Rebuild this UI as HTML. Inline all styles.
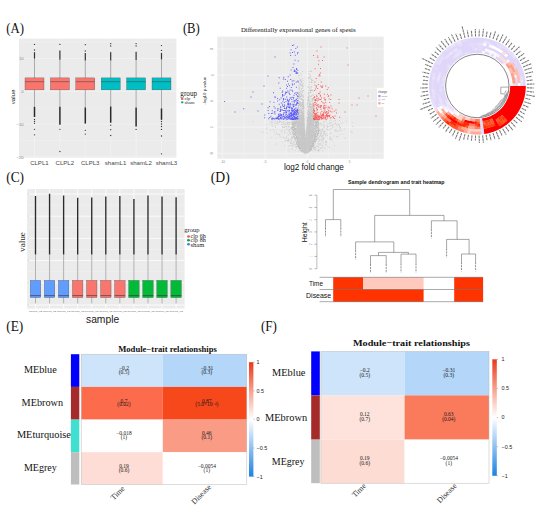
<!DOCTYPE html>
<html><head><meta charset="utf-8"><style>
html,body{margin:0;padding:0;background:#fff;width:550px;height:532px;overflow:hidden}
svg{display:block}
</style></head><body>
<svg width="550" height="532" viewBox="0 0 550 532">
<rect width="550" height="532" fill="#fff"/>
<text x="6.20" y="33.10" font-family="Liberation Serif" font-size="14.5" fill="#111" textLength="17.80" lengthAdjust="spacingAndGlyphs" >(A)</text>
<text x="182.90" y="33.10" font-family="Liberation Serif" font-size="14.5" fill="#111" textLength="16.90" lengthAdjust="spacingAndGlyphs" >(B)</text>
<text x="6.20" y="182.10" font-family="Liberation Serif" font-size="14.5" fill="#111" textLength="17.80" lengthAdjust="spacingAndGlyphs" >(C)</text>
<text x="210.80" y="182.10" font-family="Liberation Serif" font-size="14.5" fill="#111" textLength="19.00" lengthAdjust="spacingAndGlyphs" >(D)</text>
<text x="6.20" y="331.10" font-family="Liberation Serif" font-size="14.5" fill="#111" textLength="17.10" lengthAdjust="spacingAndGlyphs" >(E)</text>
<text x="260.90" y="331.10" font-family="Liberation Serif" font-size="14.5" fill="#111" textLength="16.00" lengthAdjust="spacingAndGlyphs" >(F)</text>
<rect x="19.00" y="38.60" width="157.40" height="119.20" fill="#ebebeb" />
<line x1="19.00" y1="41.85" x2="176.40" y2="41.85" stroke="#f2f2f2" stroke-width="0.5" />
<line x1="19.00" y1="74.75" x2="176.40" y2="74.75" stroke="#f2f2f2" stroke-width="0.5" />
<line x1="19.00" y1="107.65" x2="176.40" y2="107.65" stroke="#f2f2f2" stroke-width="0.5" />
<line x1="19.00" y1="140.55" x2="176.40" y2="140.55" stroke="#f2f2f2" stroke-width="0.5" />
<line x1="19.00" y1="58.30" x2="176.40" y2="58.30" stroke="#f7f7f7" stroke-width="0.7" />
<line x1="19.00" y1="91.20" x2="176.40" y2="91.20" stroke="#f7f7f7" stroke-width="0.7" />
<line x1="19.00" y1="124.10" x2="176.40" y2="124.10" stroke="#f7f7f7" stroke-width="0.7" />
<line x1="19.00" y1="157.00" x2="176.40" y2="157.00" stroke="#f7f7f7" stroke-width="0.7" />
<line x1="34.50" y1="38.60" x2="34.50" y2="157.80" stroke="#f5f5f5" stroke-width="0.6" />
<line x1="59.90" y1="38.60" x2="59.90" y2="157.80" stroke="#f5f5f5" stroke-width="0.6" />
<line x1="85.30" y1="38.60" x2="85.30" y2="157.80" stroke="#f5f5f5" stroke-width="0.6" />
<line x1="110.70" y1="38.60" x2="110.70" y2="157.80" stroke="#f5f5f5" stroke-width="0.6" />
<line x1="136.10" y1="38.60" x2="136.10" y2="157.80" stroke="#f5f5f5" stroke-width="0.6" />
<line x1="161.50" y1="38.60" x2="161.50" y2="157.80" stroke="#f5f5f5" stroke-width="0.6" />
<text x="23.60" y="60.20" font-family="Liberation Sans" font-size="4.2" fill="#888" text-anchor="end" >10</text>
<text x="23.60" y="93.10" font-family="Liberation Sans" font-size="4.2" fill="#888" text-anchor="end" >0</text>
<text x="23.60" y="126.00" font-family="Liberation Sans" font-size="4.2" fill="#888" text-anchor="end" >−10</text>
<text x="23.60" y="158.90" font-family="Liberation Sans" font-size="4.2" fill="#888" text-anchor="end" >−20</text>
<line x1="34.50" y1="58.60" x2="34.50" y2="106.80" stroke="#555" stroke-width="0.45" />
<line x1="34.50" y1="52.20" x2="34.50" y2="58.60" stroke="#333" stroke-width="1.2" />
<line x1="34.50" y1="106.80" x2="34.50" y2="117.00" stroke="#2a2a2a" stroke-width="1.5" />
<circle cx="34.50" cy="44.4" r="0.65" fill="#333"/>
<circle cx="34.50" cy="50.0" r="0.65" fill="#333"/>
<circle cx="34.50" cy="119.5" r="0.65" fill="#333"/>
<circle cx="34.50" cy="121.5" r="0.65" fill="#333"/>
<circle cx="34.50" cy="123.3" r="0.65" fill="#333"/>
<circle cx="34.50" cy="129.3" r="0.65" fill="#333"/>
<circle cx="34.50" cy="134.8" r="0.65" fill="#333"/>
<rect x="25.00" y="77.90" width="19.00" height="12.00" fill="#f8766d" stroke="#444" stroke-width="0.3"/>
<line x1="25.00" y1="81.70" x2="44.00" y2="81.70" stroke="#444" stroke-width="0.55" />
<line x1="59.90" y1="59.80" x2="59.90" y2="106.80" stroke="#555" stroke-width="0.45" />
<line x1="59.90" y1="50.60" x2="59.90" y2="59.80" stroke="#333" stroke-width="1.2" />
<line x1="59.90" y1="106.80" x2="59.90" y2="124.70" stroke="#2a2a2a" stroke-width="1.5" />
<circle cx="59.90" cy="44.4" r="0.65" fill="#333"/>
<circle cx="59.90" cy="129.3" r="0.65" fill="#333"/>
<circle cx="59.90" cy="151.5" r="0.65" fill="#333"/>
<rect x="50.40" y="77.90" width="19.00" height="12.00" fill="#f8766d" stroke="#444" stroke-width="0.3"/>
<line x1="50.40" y1="81.70" x2="69.40" y2="81.70" stroke="#444" stroke-width="0.55" />
<line x1="85.30" y1="60.50" x2="85.30" y2="107.40" stroke="#555" stroke-width="0.45" />
<line x1="85.30" y1="52.90" x2="85.30" y2="60.50" stroke="#333" stroke-width="1.2" />
<line x1="85.30" y1="107.40" x2="85.30" y2="123.60" stroke="#2a2a2a" stroke-width="1.5" />
<circle cx="85.30" cy="44.7" r="0.65" fill="#333"/>
<circle cx="85.30" cy="51.0" r="0.65" fill="#333"/>
<circle cx="85.30" cy="130.3" r="0.65" fill="#333"/>
<circle cx="85.30" cy="134.1" r="0.65" fill="#333"/>
<rect x="75.80" y="77.90" width="19.00" height="12.00" fill="#f8766d" stroke="#444" stroke-width="0.3"/>
<line x1="75.80" y1="81.70" x2="94.80" y2="81.70" stroke="#444" stroke-width="0.55" />
<line x1="110.70" y1="60.50" x2="110.70" y2="106.50" stroke="#555" stroke-width="0.45" />
<line x1="110.70" y1="52.90" x2="110.70" y2="60.50" stroke="#333" stroke-width="1.2" />
<line x1="110.70" y1="106.50" x2="110.70" y2="122.70" stroke="#2a2a2a" stroke-width="1.5" />
<circle cx="110.70" cy="43.7" r="0.65" fill="#333"/>
<circle cx="110.70" cy="46.0" r="0.65" fill="#333"/>
<circle cx="110.70" cy="52.3" r="0.65" fill="#333"/>
<circle cx="110.70" cy="125.2" r="0.65" fill="#333"/>
<circle cx="110.70" cy="129.7" r="0.65" fill="#333"/>
<circle cx="110.70" cy="135.5" r="0.65" fill="#333"/>
<rect x="101.20" y="77.90" width="19.00" height="12.00" fill="#00bfc4" stroke="#444" stroke-width="0.3"/>
<line x1="101.20" y1="81.70" x2="120.20" y2="81.70" stroke="#444" stroke-width="0.55" />
<line x1="136.10" y1="60.00" x2="136.10" y2="107.40" stroke="#555" stroke-width="0.45" />
<line x1="136.10" y1="51.70" x2="136.10" y2="60.00" stroke="#333" stroke-width="1.2" />
<line x1="136.10" y1="107.40" x2="136.10" y2="126.50" stroke="#2a2a2a" stroke-width="1.5" />
<circle cx="136.10" cy="43.7" r="0.65" fill="#333"/>
<circle cx="136.10" cy="46.0" r="0.65" fill="#333"/>
<circle cx="136.10" cy="129.4" r="0.65" fill="#333"/>
<rect x="126.60" y="77.90" width="19.00" height="12.00" fill="#00bfc4" stroke="#444" stroke-width="0.3"/>
<line x1="126.60" y1="81.70" x2="145.60" y2="81.70" stroke="#444" stroke-width="0.55" />
<line x1="161.50" y1="59.40" x2="161.50" y2="108.40" stroke="#555" stroke-width="0.45" />
<line x1="161.50" y1="52.90" x2="161.50" y2="59.40" stroke="#333" stroke-width="1.2" />
<line x1="161.50" y1="108.40" x2="161.50" y2="119.80" stroke="#2a2a2a" stroke-width="1.5" />
<circle cx="161.50" cy="45.6" r="0.65" fill="#333"/>
<circle cx="161.50" cy="50.4" r="0.65" fill="#333"/>
<circle cx="161.50" cy="121.5" r="0.65" fill="#333"/>
<circle cx="161.50" cy="124" r="0.65" fill="#333"/>
<circle cx="161.50" cy="126.5" r="0.65" fill="#333"/>
<circle cx="161.50" cy="129.4" r="0.65" fill="#333"/>
<circle cx="161.50" cy="136.0" r="0.65" fill="#333"/>
<circle cx="161.50" cy="153.8" r="0.65" fill="#333"/>
<rect x="152.00" y="77.90" width="19.00" height="12.00" fill="#00bfc4" stroke="#444" stroke-width="0.3"/>
<line x1="152.00" y1="81.70" x2="171.00" y2="81.70" stroke="#444" stroke-width="0.55" />
<text x="39.40" y="164.80" font-family="Liberation Sans" font-size="6.05" fill="#474747" text-anchor="middle" >CLPL1</text>
<text x="64.80" y="164.80" font-family="Liberation Sans" font-size="6.05" fill="#474747" text-anchor="middle" >CLPL2</text>
<text x="90.20" y="164.80" font-family="Liberation Sans" font-size="6.05" fill="#474747" text-anchor="middle" >CLPL3</text>
<text x="115.60" y="164.80" font-family="Liberation Sans" font-size="6.05" fill="#474747" text-anchor="middle" >shamL1</text>
<text x="141.00" y="164.80" font-family="Liberation Sans" font-size="6.05" fill="#474747" text-anchor="middle" >shamL2</text>
<text x="166.40" y="164.80" font-family="Liberation Sans" font-size="6.05" fill="#474747" text-anchor="middle" >shamL3</text>
<text x="15.50" y="96.90" font-family="Liberation Sans" font-size="6.2" fill="#111" text-anchor="middle" transform="rotate(-90 15.5 96.9)">value</text>
<text x="180.30" y="95.50" font-family="Liberation Serif" font-size="7.2" fill="#222" >group</text>
<ellipse cx="182.2" cy="98.9" rx="1.35" ry="1.1" fill="#e8605a"/>
<ellipse cx="182.2" cy="102.3" rx="1.35" ry="1.1" fill="#10a8b0"/>
<text x="184.40" y="100.40" font-family="Liberation Serif" font-size="4.8" fill="#333" >clp</text>
<text x="184.40" y="103.80" font-family="Liberation Serif" font-size="4.8" fill="#333" >sham</text>
<rect x="217.30" y="36.60" width="166.40" height="122.10" fill="#ebebeb" />
<line x1="217.30" y1="140.25" x2="383.70" y2="140.25" stroke="#f4f4f4" stroke-width="0.5" />
<line x1="217.30" y1="114.15" x2="383.70" y2="114.15" stroke="#f4f4f4" stroke-width="0.5" />
<line x1="217.30" y1="88.05" x2="383.70" y2="88.05" stroke="#f4f4f4" stroke-width="0.5" />
<line x1="217.30" y1="61.95" x2="383.70" y2="61.95" stroke="#f4f4f4" stroke-width="0.5" />
<line x1="243.85" y1="36.60" x2="243.85" y2="158.70" stroke="#f4f4f4" stroke-width="0.5" />
<line x1="286.15" y1="36.60" x2="286.15" y2="158.70" stroke="#f4f4f4" stroke-width="0.5" />
<line x1="328.45" y1="36.60" x2="328.45" y2="158.70" stroke="#f4f4f4" stroke-width="0.5" />
<line x1="370.75" y1="36.60" x2="370.75" y2="158.70" stroke="#f4f4f4" stroke-width="0.5" />
<line x1="217.30" y1="153.30" x2="383.70" y2="153.30" stroke="#f8f8f8" stroke-width="0.7" />
<line x1="217.30" y1="127.20" x2="383.70" y2="127.20" stroke="#f8f8f8" stroke-width="0.7" />
<line x1="217.30" y1="101.10" x2="383.70" y2="101.10" stroke="#f8f8f8" stroke-width="0.7" />
<line x1="217.30" y1="75.00" x2="383.70" y2="75.00" stroke="#f8f8f8" stroke-width="0.7" />
<line x1="217.30" y1="48.90" x2="383.70" y2="48.90" stroke="#f8f8f8" stroke-width="0.7" />
<line x1="222.70" y1="36.60" x2="222.70" y2="158.70" stroke="#f8f8f8" stroke-width="0.7" />
<line x1="265.00" y1="36.60" x2="265.00" y2="158.70" stroke="#f8f8f8" stroke-width="0.7" />
<line x1="307.30" y1="36.60" x2="307.30" y2="158.70" stroke="#f8f8f8" stroke-width="0.7" />
<line x1="349.60" y1="36.60" x2="349.60" y2="158.70" stroke="#f8f8f8" stroke-width="0.7" />
<text x="213.50" y="153.30" font-family="Liberation Sans" font-size="3.2" fill="#888" text-anchor="middle" transform="rotate(-90 213.5 153.30)">0</text>
<text x="213.50" y="127.20" font-family="Liberation Sans" font-size="3.2" fill="#888" text-anchor="middle" transform="rotate(-90 213.5 127.20)">2</text>
<text x="213.50" y="101.10" font-family="Liberation Sans" font-size="3.2" fill="#888" text-anchor="middle" transform="rotate(-90 213.5 101.10)">4</text>
<text x="213.50" y="75.00" font-family="Liberation Sans" font-size="3.2" fill="#888" text-anchor="middle" transform="rotate(-90 213.5 75.00)">6</text>
<text x="213.50" y="48.90" font-family="Liberation Sans" font-size="3.2" fill="#888" text-anchor="middle" transform="rotate(-90 213.5 48.90)">8</text>
<text x="222.70" y="162.50" font-family="Liberation Sans" font-size="3.2" fill="#888" text-anchor="middle" >-10</text>
<text x="265.00" y="162.50" font-family="Liberation Sans" font-size="3.2" fill="#888" text-anchor="middle" >-5</text>
<text x="307.30" y="162.50" font-family="Liberation Sans" font-size="3.2" fill="#888" text-anchor="middle" >0</text>
<text x="349.60" y="162.50" font-family="Liberation Sans" font-size="3.2" fill="#888" text-anchor="middle" >5</text>
<path d="M314.3 147.6h0.9v0.9h-0.9zM325.7 143.7h0.9v0.9h-0.9zM297.4 145.6h0.9v0.9h-0.9zM252.3 121.1h0.9v0.9h-0.9zM332.0 126.3h0.9v0.9h-0.9zM316.5 132.1h0.9v0.9h-0.9zM314.8 142.4h0.9v0.9h-0.9zM325.6 141.1h0.9v0.9h-0.9zM344.7 137.8h0.9v0.9h-0.9zM311.5 145.2h0.9v0.9h-0.9zM336.9 123.6h0.9v0.9h-0.9zM318.6 139.2h0.9v0.9h-0.9zM322.4 150.5h0.9v0.9h-0.9zM316.4 130.3h0.9v0.9h-0.9zM270.1 129.8h0.9v0.9h-0.9zM330.7 128.1h0.9v0.9h-0.9zM316.4 122.7h0.9v0.9h-0.9zM293.6 135.5h0.9v0.9h-0.9zM270.6 120.8h0.9v0.9h-0.9zM286.2 128.6h0.9v0.9h-0.9zM323.3 134.6h0.9v0.9h-0.9zM318.8 144.4h0.9v0.9h-0.9zM326.9 126.2h0.9v0.9h-0.9zM287.6 127.3h0.9v0.9h-0.9zM284.5 145.4h0.9v0.9h-0.9zM323.2 121.6h0.9v0.9h-0.9zM317.0 129.6h0.9v0.9h-0.9zM292.2 122.3h0.9v0.9h-0.9zM314.1 141.8h0.9v0.9h-0.9zM320.7 139.2h0.9v0.9h-0.9zM317.8 145.8h0.9v0.9h-0.9zM318.8 135.8h0.9v0.9h-0.9zM316.1 124.8h0.9v0.9h-0.9zM318.6 138.6h0.9v0.9h-0.9zM321.2 125.4h0.9v0.9h-0.9zM271.1 122.1h0.9v0.9h-0.9zM297.9 145.8h0.9v0.9h-0.9zM317.7 122.8h0.9v0.9h-0.9zM287.7 140.0h0.9v0.9h-0.9zM292.3 143.6h0.9v0.9h-0.9zM329.5 122.6h0.9v0.9h-0.9zM314.4 136.9h0.9v0.9h-0.9zM331.9 126.8h0.9v0.9h-0.9zM327.2 127.2h0.9v0.9h-0.9zM323.9 126.8h0.9v0.9h-0.9zM320.3 139.2h0.9v0.9h-0.9zM334.7 120.2h0.9v0.9h-0.9zM309.9 149.2h0.9v0.9h-0.9zM294.2 138.5h0.9v0.9h-0.9zM316.3 136.7h0.9v0.9h-0.9zM293.3 144.8h0.9v0.9h-0.9zM322.6 146.8h0.9v0.9h-0.9zM324.1 133.0h0.9v0.9h-0.9zM276.9 120.8h0.9v0.9h-0.9zM321.3 130.8h0.9v0.9h-0.9zM326.4 141.4h0.9v0.9h-0.9zM282.1 126.8h0.9v0.9h-0.9zM317.8 123.7h0.9v0.9h-0.9zM289.2 129.6h0.9v0.9h-0.9zM291.5 148.1h0.9v0.9h-0.9zM291.6 133.9h0.9v0.9h-0.9zM289.3 129.4h0.9v0.9h-0.9zM309.8 149.4h0.9v0.9h-0.9zM319.9 142.7h0.9v0.9h-0.9zM297.9 150.4h0.9v0.9h-0.9zM297.7 146.1h0.9v0.9h-0.9zM298.3 143.7h0.9v0.9h-0.9zM284.3 131.6h0.9v0.9h-0.9zM293.7 141.7h0.9v0.9h-0.9zM283.5 123.3h0.9v0.9h-0.9zM293.6 135.4h0.9v0.9h-0.9zM321.8 129.4h0.9v0.9h-0.9zM295.3 146.3h0.9v0.9h-0.9zM320.5 123.1h0.9v0.9h-0.9zM282.6 137.2h0.9v0.9h-0.9zM334.2 126.7h0.9v0.9h-0.9zM324.8 141.9h0.9v0.9h-0.9zM320.6 130.7h0.9v0.9h-0.9zM291.4 136.1h0.9v0.9h-0.9zM325.2 131.2h0.9v0.9h-0.9zM295.2 134.8h0.9v0.9h-0.9zM316.7 127.9h0.9v0.9h-0.9zM337.3 136.6h0.9v0.9h-0.9zM315.8 136.1h0.9v0.9h-0.9zM329.9 137.7h0.9v0.9h-0.9zM290.9 137.6h0.9v0.9h-0.9zM296.5 137.0h0.9v0.9h-0.9zM287.0 122.0h0.9v0.9h-0.9zM324.3 124.7h0.9v0.9h-0.9zM295.8 141.1h0.9v0.9h-0.9zM317.7 138.2h0.9v0.9h-0.9zM328.9 120.5h0.9v0.9h-0.9zM265.8 128.5h0.9v0.9h-0.9zM274.6 121.0h0.9v0.9h-0.9zM317.6 138.2h0.9v0.9h-0.9zM274.0 131.6h0.9v0.9h-0.9zM289.1 123.1h0.9v0.9h-0.9zM311.3 150.1h0.9v0.9h-0.9zM315.5 133.7h0.9v0.9h-0.9zM314.0 138.7h0.9v0.9h-0.9zM339.2 125.5h0.9v0.9h-0.9zM291.4 126.2h0.9v0.9h-0.9zM316.5 128.2h0.9v0.9h-0.9zM331.7 140.2h0.9v0.9h-0.9zM282.0 141.4h0.9v0.9h-0.9zM288.2 134.4h0.9v0.9h-0.9zM323.5 138.0h0.9v0.9h-0.9zM320.1 130.2h0.9v0.9h-0.9zM330.6 119.8h0.9v0.9h-0.9zM291.6 123.5h0.9v0.9h-0.9zM285.6 119.8h0.9v0.9h-0.9zM315.2 125.1h0.9v0.9h-0.9zM294.2 132.5h0.9v0.9h-0.9zM339.9 128.3h0.9v0.9h-0.9zM287.8 125.9h0.9v0.9h-0.9zM301.4 150.6h0.9v0.9h-0.9zM329.4 136.9h0.9v0.9h-0.9zM314.8 149.8h0.9v0.9h-0.9zM295.1 134.5h0.9v0.9h-0.9zM316.7 126.8h0.9v0.9h-0.9zM320.6 134.0h0.9v0.9h-0.9zM316.8 136.8h0.9v0.9h-0.9zM319.9 133.2h0.9v0.9h-0.9zM280.6 121.6h0.9v0.9h-0.9zM271.8 126.1h0.9v0.9h-0.9zM289.0 131.2h0.9v0.9h-0.9zM292.1 149.5h0.9v0.9h-0.9zM315.0 142.5h0.9v0.9h-0.9zM294.2 143.8h0.9v0.9h-0.9zM343.8 128.4h0.9v0.9h-0.9zM283.2 123.2h0.9v0.9h-0.9zM288.9 132.5h0.9v0.9h-0.9zM266.5 132.5h0.9v0.9h-0.9zM293.3 130.8h0.9v0.9h-0.9zM318.2 130.4h0.9v0.9h-0.9zM314.5 136.4h0.9v0.9h-0.9zM322.4 135.4h0.9v0.9h-0.9zM293.6 127.6h0.9v0.9h-0.9zM295.6 147.1h0.9v0.9h-0.9zM288.7 129.8h0.9v0.9h-0.9zM311.0 147.8h0.9v0.9h-0.9zM317.2 125.6h0.9v0.9h-0.9zM314.2 139.4h0.9v0.9h-0.9zM289.6 121.8h0.9v0.9h-0.9zM338.5 129.7h0.9v0.9h-0.9zM321.6 140.8h0.9v0.9h-0.9zM312.9 148.0h0.9v0.9h-0.9zM288.7 140.6h0.9v0.9h-0.9zM338.6 133.9h0.9v0.9h-0.9zM281.6 132.9h0.9v0.9h-0.9zM266.2 128.7h0.9v0.9h-0.9zM281.1 124.1h0.9v0.9h-0.9zM288.4 145.8h0.9v0.9h-0.9zM288.3 126.0h0.9v0.9h-0.9zM271.8 124.3h0.9v0.9h-0.9zM292.1 137.1h0.9v0.9h-0.9zM274.5 125.5h0.9v0.9h-0.9zM296.6 138.4h0.9v0.9h-0.9zM321.0 132.6h0.9v0.9h-0.9zM290.9 140.0h0.9v0.9h-0.9zM314.4 142.5h0.9v0.9h-0.9zM339.2 126.6h0.9v0.9h-0.9zM284.8 121.4h0.9v0.9h-0.9zM310.8 146.6h0.9v0.9h-0.9zM292.4 129.2h0.9v0.9h-0.9zM315.6 141.1h0.9v0.9h-0.9zM296.4 147.7h0.9v0.9h-0.9zM291.0 143.4h0.9v0.9h-0.9zM318.1 146.7h0.9v0.9h-0.9zM292.3 128.7h0.9v0.9h-0.9zM292.3 146.2h0.9v0.9h-0.9zM314.6 133.9h0.9v0.9h-0.9zM325.6 120.6h0.9v0.9h-0.9zM319.2 140.1h0.9v0.9h-0.9zM327.8 126.0h0.9v0.9h-0.9zM341.8 133.7h0.9v0.9h-0.9zM310.3 149.1h0.9v0.9h-0.9zM318.0 122.3h0.9v0.9h-0.9zM272.6 119.9h0.9v0.9h-0.9zM336.9 131.2h0.9v0.9h-0.9zM281.3 124.0h0.9v0.9h-0.9zM287.8 141.4h0.9v0.9h-0.9zM327.6 145.4h0.9v0.9h-0.9zM329.2 122.9h0.9v0.9h-0.9zM286.2 125.6h0.9v0.9h-0.9zM319.6 129.3h0.9v0.9h-0.9zM331.9 125.2h0.9v0.9h-0.9zM277.2 121.9h0.9v0.9h-0.9zM319.8 123.6h0.9v0.9h-0.9zM300.3 149.9h0.9v0.9h-0.9zM287.7 123.8h0.9v0.9h-0.9zM329.5 129.2h0.9v0.9h-0.9zM335.9 124.5h0.9v0.9h-0.9zM292.6 127.1h0.9v0.9h-0.9zM317.5 125.6h0.9v0.9h-0.9zM321.5 141.2h0.9v0.9h-0.9zM291.7 129.1h0.9v0.9h-0.9zM295.3 144.5h0.9v0.9h-0.9zM296.6 146.0h0.9v0.9h-0.9zM292.7 136.6h0.9v0.9h-0.9zM275.9 132.3h0.9v0.9h-0.9zM289.0 126.4h0.9v0.9h-0.9zM338.0 124.2h0.9v0.9h-0.9zM313.6 145.6h0.9v0.9h-0.9zM317.5 119.9h0.9v0.9h-0.9zM290.5 127.5h0.9v0.9h-0.9zM323.3 137.6h0.9v0.9h-0.9zM315.5 121.8h0.9v0.9h-0.9zM276.0 143.6h0.9v0.9h-0.9zM280.3 121.1h0.9v0.9h-0.9zM266.5 127.2h0.9v0.9h-0.9zM291.4 140.8h0.9v0.9h-0.9zM316.4 130.7h0.9v0.9h-0.9zM292.5 141.4h0.9v0.9h-0.9zM312.7 150.7h0.9v0.9h-0.9zM289.2 123.8h0.9v0.9h-0.9zM316.2 140.0h0.9v0.9h-0.9zM282.4 129.4h0.9v0.9h-0.9zM294.8 150.0h0.9v0.9h-0.9zM327.3 123.4h0.9v0.9h-0.9zM318.7 129.5h0.9v0.9h-0.9zM337.3 131.2h0.9v0.9h-0.9zM299.6 148.7h0.9v0.9h-0.9zM292.1 127.0h0.9v0.9h-0.9zM341.6 130.2h0.9v0.9h-0.9zM328.5 129.5h0.9v0.9h-0.9zM315.1 138.2h0.9v0.9h-0.9zM261.2 131.6h0.9v0.9h-0.9zM329.5 125.8h0.9v0.9h-0.9zM326.2 129.1h0.9v0.9h-0.9zM288.6 129.5h0.9v0.9h-0.9zM291.9 138.3h0.9v0.9h-0.9zM315.1 138.7h0.9v0.9h-0.9zM318.5 140.2h0.9v0.9h-0.9zM322.6 142.8h0.9v0.9h-0.9zM283.2 127.0h0.9v0.9h-0.9zM282.1 126.0h0.9v0.9h-0.9zM312.1 142.9h0.9v0.9h-0.9zM281.3 130.8h0.9v0.9h-0.9zM330.6 124.5h0.9v0.9h-0.9zM317.3 138.2h0.9v0.9h-0.9zM281.4 131.1h0.9v0.9h-0.9zM315.2 147.3h0.9v0.9h-0.9zM314.8 146.9h0.9v0.9h-0.9zM321.8 144.8h0.9v0.9h-0.9zM297.7 141.2h0.9v0.9h-0.9zM321.4 139.9h0.9v0.9h-0.9zM317.3 130.0h0.9v0.9h-0.9zM333.8 123.7h0.9v0.9h-0.9zM299.8 148.1h0.9v0.9h-0.9zM283.8 126.7h0.9v0.9h-0.9zM325.5 145.2h0.9v0.9h-0.9zM283.0 136.7h0.9v0.9h-0.9zM291.1 142.9h0.9v0.9h-0.9zM342.2 122.2h0.9v0.9h-0.9zM323.8 131.7h0.9v0.9h-0.9zM286.8 121.7h0.9v0.9h-0.9zM317.0 134.5h0.9v0.9h-0.9zM315.7 145.1h0.9v0.9h-0.9zM339.9 127.1h0.9v0.9h-0.9zM322.6 130.6h0.9v0.9h-0.9zM276.3 128.9h0.9v0.9h-0.9zM290.0 131.9h0.9v0.9h-0.9zM326.9 135.0h0.9v0.9h-0.9zM318.5 132.9h0.9v0.9h-0.9zM321.0 136.3h0.9v0.9h-0.9zM294.0 133.2h0.9v0.9h-0.9zM291.8 138.2h0.9v0.9h-0.9zM338.1 124.4h0.9v0.9h-0.9zM318.3 132.5h0.9v0.9h-0.9zM317.3 133.1h0.9v0.9h-0.9zM318.0 127.7h0.9v0.9h-0.9zM317.5 120.9h0.9v0.9h-0.9zM317.5 121.7h0.9v0.9h-0.9zM291.7 122.7h0.9v0.9h-0.9zM314.9 140.3h0.9v0.9h-0.9zM323.5 121.0h0.9v0.9h-0.9zM330.4 122.3h0.9v0.9h-0.9zM299.0 147.6h0.9v0.9h-0.9zM298.8 148.1h0.9v0.9h-0.9zM285.9 126.1h0.9v0.9h-0.9zM289.2 128.9h0.9v0.9h-0.9zM283.3 124.7h0.9v0.9h-0.9zM313.9 148.9h0.9v0.9h-0.9zM290.5 128.2h0.9v0.9h-0.9zM291.3 145.5h0.9v0.9h-0.9zM286.3 129.0h0.9v0.9h-0.9zM339.2 125.8h0.9v0.9h-0.9zM290.1 142.8h0.9v0.9h-0.9zM322.0 128.2h0.9v0.9h-0.9zM339.6 130.3h0.9v0.9h-0.9zM285.6 126.3h0.9v0.9h-0.9zM322.5 128.7h0.9v0.9h-0.9zM317.9 130.1h0.9v0.9h-0.9zM289.4 145.0h0.9v0.9h-0.9zM292.8 132.7h0.9v0.9h-0.9zM319.4 136.3h0.9v0.9h-0.9zM323.2 131.9h0.9v0.9h-0.9zM293.1 130.3h0.9v0.9h-0.9zM291.1 128.3h0.9v0.9h-0.9zM286.3 132.6h0.9v0.9h-0.9zM269.7 123.5h0.9v0.9h-0.9zM316.8 122.1h0.9v0.9h-0.9zM294.2 138.8h0.9v0.9h-0.9zM322.3 124.5h0.9v0.9h-0.9zM322.0 134.8h0.9v0.9h-0.9zM286.3 123.5h0.9v0.9h-0.9zM287.6 134.9h0.9v0.9h-0.9zM313.6 142.0h0.9v0.9h-0.9zM330.2 139.1h0.9v0.9h-0.9zM296.0 136.5h0.9v0.9h-0.9zM331.5 138.3h0.9v0.9h-0.9zM287.6 122.3h0.9v0.9h-0.9zM334.9 123.0h0.9v0.9h-0.9zM319.9 143.7h0.9v0.9h-0.9zM319.7 134.6h0.9v0.9h-0.9zM320.3 134.8h0.9v0.9h-0.9zM288.8 139.9h0.9v0.9h-0.9zM286.2 136.5h0.9v0.9h-0.9zM321.7 128.7h0.9v0.9h-0.9zM284.4 127.1h0.9v0.9h-0.9zM318.4 140.9h0.9v0.9h-0.9zM316.1 125.9h0.9v0.9h-0.9zM329.3 122.4h0.9v0.9h-0.9zM299.0 147.0h0.9v0.9h-0.9zM312.9 140.9h0.9v0.9h-0.9zM317.1 150.0h0.9v0.9h-0.9zM323.1 139.6h0.9v0.9h-0.9zM284.7 123.7h0.9v0.9h-0.9zM276.6 133.9h0.9v0.9h-0.9zM335.6 129.4h0.9v0.9h-0.9zM316.9 130.8h0.9v0.9h-0.9zM350.5 131.1h0.9v0.9h-0.9zM320.3 132.3h0.9v0.9h-0.9zM329.6 133.0h0.9v0.9h-0.9zM284.8 121.4h0.9v0.9h-0.9zM279.0 121.1h0.9v0.9h-0.9zM320.1 134.5h0.9v0.9h-0.9zM318.3 148.9h0.9v0.9h-0.9zM271.3 136.9h0.9v0.9h-0.9zM295.1 121.7h0.9v0.9h-0.9zM274.4 123.2h0.9v0.9h-0.9zM326.9 129.4h0.9v0.9h-0.9zM320.5 144.9h0.9v0.9h-0.9zM263.2 131.9h0.9v0.9h-0.9zM288.4 122.0h0.9v0.9h-0.9zM286.0 126.2h0.9v0.9h-0.9zM318.4 142.8h0.9v0.9h-0.9zM279.2 134.0h0.9v0.9h-0.9zM284.5 129.9h0.9v0.9h-0.9zM320.3 123.6h0.9v0.9h-0.9zM321.8 134.7h0.9v0.9h-0.9zM325.3 135.3h0.9v0.9h-0.9zM272.0 122.0h0.9v0.9h-0.9zM321.9 144.5h0.9v0.9h-0.9zM296.3 143.1h0.9v0.9h-0.9zM333.5 135.6h0.9v0.9h-0.9zM294.8 128.5h0.9v0.9h-0.9zM314.2 146.5h0.9v0.9h-0.9zM294.6 130.5h0.9v0.9h-0.9zM315.7 134.0h0.9v0.9h-0.9zM286.7 122.5h0.9v0.9h-0.9zM311.5 144.8h0.9v0.9h-0.9zM325.7 142.2h0.9v0.9h-0.9zM286.1 140.1h0.9v0.9h-0.9zM274.8 121.6h0.9v0.9h-0.9zM319.3 149.7h0.9v0.9h-0.9zM351.7 132.1h0.9v0.9h-0.9zM335.1 122.7h0.9v0.9h-0.9zM326.4 125.8h0.9v0.9h-0.9zM351.9 122.2h0.9v0.9h-0.9zM315.8 148.5h0.9v0.9h-0.9zM285.5 126.0h0.9v0.9h-0.9zM288.6 148.9h0.9v0.9h-0.9zM286.6 129.4h0.9v0.9h-0.9zM315.4 139.1h0.9v0.9h-0.9zM323.5 127.0h0.9v0.9h-0.9zM294.0 121.7h0.9v0.9h-0.9zM287.5 123.9h0.9v0.9h-0.9zM293.6 129.0h0.9v0.9h-0.9zM284.6 138.1h0.9v0.9h-0.9zM288.0 138.9h0.9v0.9h-0.9zM323.1 132.6h0.9v0.9h-0.9zM279.2 133.9h0.9v0.9h-0.9zM277.7 133.8h0.9v0.9h-0.9zM325.2 140.5h0.9v0.9h-0.9zM291.8 145.2h0.9v0.9h-0.9zM285.8 136.8h0.9v0.9h-0.9zM322.5 137.7h0.9v0.9h-0.9zM294.5 128.3h0.9v0.9h-0.9zM312.6 145.5h0.9v0.9h-0.9zM318.1 143.8h0.9v0.9h-0.9zM288.1 138.5h0.9v0.9h-0.9zM286.9 140.3h0.9v0.9h-0.9zM316.4 139.0h0.9v0.9h-0.9zM326.3 133.0h0.9v0.9h-0.9zM285.2 123.6h0.9v0.9h-0.9zM316.9 138.5h0.9v0.9h-0.9zM338.4 124.4h0.9v0.9h-0.9zM292.4 120.1h0.9v0.9h-0.9zM284.5 139.7h0.9v0.9h-0.9zM290.5 139.5h0.9v0.9h-0.9zM332.4 124.5h0.9v0.9h-0.9zM290.5 138.4h0.9v0.9h-0.9zM284.6 124.4h0.9v0.9h-0.9zM314.6 149.4h0.9v0.9h-0.9zM288.5 151.4h0.9v0.9h-0.9zM314.1 147.6h0.9v0.9h-0.9zM292.2 123.3h0.9v0.9h-0.9zM323.5 125.6h0.9v0.9h-0.9zM289.0 129.6h0.9v0.9h-0.9zM284.3 132.7h0.9v0.9h-0.9zM292.5 136.4h0.9v0.9h-0.9zM288.4 130.3h0.9v0.9h-0.9zM320.8 148.2h0.9v0.9h-0.9zM318.8 135.7h0.9v0.9h-0.9zM317.7 137.1h0.9v0.9h-0.9zM277.5 123.1h0.9v0.9h-0.9zM295.4 144.3h0.9v0.9h-0.9zM330.1 136.4h0.9v0.9h-0.9zM312.2 144.0h0.9v0.9h-0.9zM283.3 120.9h0.9v0.9h-0.9zM326.5 127.7h0.9v0.9h-0.9zM322.2 138.8h0.9v0.9h-0.9zM317.9 123.7h0.9v0.9h-0.9zM281.6 122.1h0.9v0.9h-0.9zM312.4 143.1h0.9v0.9h-0.9zM334.0 144.9h0.9v0.9h-0.9zM335.1 119.7h0.9v0.9h-0.9zM290.0 133.2h0.9v0.9h-0.9zM318.2 150.2h0.9v0.9h-0.9zM315.4 128.2h0.9v0.9h-0.9zM279.1 119.8h0.9v0.9h-0.9zM313.4 144.5h0.9v0.9h-0.9zM296.8 146.2h0.9v0.9h-0.9zM333.0 121.2h0.9v0.9h-0.9zM339.0 125.6h0.9v0.9h-0.9zM336.0 129.3h0.9v0.9h-0.9zM293.0 142.3h0.9v0.9h-0.9zM319.9 147.6h0.9v0.9h-0.9zM310.3 149.4h0.9v0.9h-0.9zM335.1 129.9h0.9v0.9h-0.9zM316.2 121.7h0.9v0.9h-0.9zM318.1 127.9h0.9v0.9h-0.9zM323.5 131.5h0.9v0.9h-0.9zM318.5 149.3h0.9v0.9h-0.9zM352.3 126.0h0.9v0.9h-0.9zM309.1 151.1h0.9v0.9h-0.9zM309.8 150.4h0.9v0.9h-0.9zM324.8 134.1h0.9v0.9h-0.9zM291.0 126.9h0.9v0.9h-0.9zM296.8 139.5h0.9v0.9h-0.9zM324.4 147.8h0.9v0.9h-0.9zM328.9 138.5h0.9v0.9h-0.9zM318.0 131.1h0.9v0.9h-0.9zM316.6 146.0h0.9v0.9h-0.9zM294.6 122.9h0.9v0.9h-0.9zM279.3 135.6h0.9v0.9h-0.9zM287.5 138.3h0.9v0.9h-0.9zM317.4 142.7h0.9v0.9h-0.9zM322.5 136.1h0.9v0.9h-0.9zM293.5 132.9h0.9v0.9h-0.9zM327.6 123.8h0.9v0.9h-0.9zM266.0 124.4h0.9v0.9h-0.9zM313.2 143.1h0.9v0.9h-0.9zM282.4 121.9h0.9v0.9h-0.9zM321.3 146.9h0.9v0.9h-0.9zM276.2 123.5h0.9v0.9h-0.9zM290.8 121.6h0.9v0.9h-0.9zM317.0 133.8h0.9v0.9h-0.9zM335.5 130.9h0.9v0.9h-0.9zM288.7 126.4h0.9v0.9h-0.9zM318.8 135.8h0.9v0.9h-0.9zM295.6 138.1h0.9v0.9h-0.9zM290.2 134.2h0.9v0.9h-0.9zM295.9 142.6h0.9v0.9h-0.9zM330.3 132.7h0.9v0.9h-0.9zM336.0 136.1h0.9v0.9h-0.9zM328.8 147.1h0.9v0.9h-0.9zM275.7 137.7h0.9v0.9h-0.9zM280.6 136.8h0.9v0.9h-0.9zM275.2 127.1h0.9v0.9h-0.9zM334.3 129.5h0.9v0.9h-0.9zM312.7 146.8h0.9v0.9h-0.9zM312.4 147.0h0.9v0.9h-0.9zM315.5 137.9h0.9v0.9h-0.9zM274.5 133.9h0.9v0.9h-0.9zM315.8 133.7h0.9v0.9h-0.9zM318.0 151.3h0.9v0.9h-0.9zM325.2 144.0h0.9v0.9h-0.9zM311.0 149.6h0.9v0.9h-0.9zM293.9 133.9h0.9v0.9h-0.9zM317.7 120.2h0.9v0.9h-0.9zM340.7 123.2h0.9v0.9h-0.9zM278.8 122.1h0.9v0.9h-0.9zM321.5 137.4h0.9v0.9h-0.9zM272.8 129.3h0.9v0.9h-0.9zM295.7 146.4h0.9v0.9h-0.9zM295.4 137.0h0.9v0.9h-0.9zM285.1 140.5h0.9v0.9h-0.9zM293.7 132.6h0.9v0.9h-0.9zM313.3 141.4h0.9v0.9h-0.9zM336.0 124.7h0.9v0.9h-0.9zM292.5 134.3h0.9v0.9h-0.9zM299.2 150.7h0.9v0.9h-0.9zM315.2 140.9h0.9v0.9h-0.9zM314.5 135.5h0.9v0.9h-0.9zM339.0 120.1h0.9v0.9h-0.9zM324.1 130.7h0.9v0.9h-0.9zM279.7 130.2h0.9v0.9h-0.9zM312.5 148.4h0.9v0.9h-0.9zM336.7 126.5h0.9v0.9h-0.9zM290.1 142.0h0.9v0.9h-0.9zM293.1 126.8h0.9v0.9h-0.9zM314.9 136.9h0.9v0.9h-0.9zM294.5 140.6h0.9v0.9h-0.9zM345.8 120.8h0.9v0.9h-0.9zM317.9 127.4h0.9v0.9h-0.9zM292.7 123.9h0.9v0.9h-0.9zM291.1 127.1h0.9v0.9h-0.9z" fill="#b0b0b0" fill-opacity="0.5"/>
<path d="M311.0 140.1h0.9v0.9h-0.9zM306.4 149.2h0.9v0.9h-0.9zM302.3 148.2h0.9v0.9h-0.9zM301.9 128.0h0.9v0.9h-0.9zM309.5 131.6h0.9v0.9h-0.9zM306.9 124.5h0.9v0.9h-0.9zM305.4 144.9h0.9v0.9h-0.9zM314.1 130.8h0.9v0.9h-0.9zM296.2 131.0h0.9v0.9h-0.9zM315.1 124.0h0.9v0.9h-0.9zM309.1 126.9h0.9v0.9h-0.9zM308.1 137.9h0.9v0.9h-0.9zM308.9 122.0h0.9v0.9h-0.9zM304.3 143.9h0.9v0.9h-0.9zM312.2 126.6h0.9v0.9h-0.9zM309.7 144.2h0.9v0.9h-0.9zM307.5 122.9h0.9v0.9h-0.9zM306.1 126.7h0.9v0.9h-0.9zM305.1 151.5h0.9v0.9h-0.9zM308.1 148.2h0.9v0.9h-0.9zM307.1 129.9h0.9v0.9h-0.9zM304.1 151.1h0.9v0.9h-0.9zM311.7 133.7h0.9v0.9h-0.9zM297.1 128.7h0.9v0.9h-0.9zM312.7 127.9h0.9v0.9h-0.9zM315.6 131.6h0.9v0.9h-0.9zM313.0 135.5h0.9v0.9h-0.9zM310.3 120.8h0.9v0.9h-0.9zM304.6 135.6h0.9v0.9h-0.9zM301.2 133.2h0.9v0.9h-0.9zM295.0 139.1h0.9v0.9h-0.9zM310.6 132.4h0.9v0.9h-0.9zM300.5 126.9h0.9v0.9h-0.9zM311.2 129.4h0.9v0.9h-0.9zM301.4 134.7h0.9v0.9h-0.9zM305.6 150.9h0.9v0.9h-0.9zM293.8 123.8h0.9v0.9h-0.9zM302.0 139.8h0.9v0.9h-0.9zM311.5 128.0h0.9v0.9h-0.9zM301.3 131.3h0.9v0.9h-0.9zM301.1 134.6h0.9v0.9h-0.9zM291.8 121.6h0.9v0.9h-0.9zM308.2 131.4h0.9v0.9h-0.9zM298.8 119.7h0.9v0.9h-0.9zM308.1 144.8h0.9v0.9h-0.9zM309.0 144.5h0.9v0.9h-0.9zM316.7 119.4h0.9v0.9h-0.9zM307.6 138.3h0.9v0.9h-0.9zM306.3 146.4h0.9v0.9h-0.9zM317.7 120.0h0.9v0.9h-0.9zM309.9 137.0h0.9v0.9h-0.9zM307.4 141.5h0.9v0.9h-0.9zM306.6 146.2h0.9v0.9h-0.9zM307.2 141.8h0.9v0.9h-0.9zM312.4 130.8h0.9v0.9h-0.9zM302.5 125.0h0.9v0.9h-0.9zM295.7 121.4h0.9v0.9h-0.9zM312.2 124.3h0.9v0.9h-0.9zM298.1 133.4h0.9v0.9h-0.9zM312.4 137.4h0.9v0.9h-0.9zM303.8 135.4h0.9v0.9h-0.9zM305.4 152.7h0.9v0.9h-0.9zM308.7 148.4h0.9v0.9h-0.9zM305.2 142.1h0.9v0.9h-0.9zM295.1 125.4h0.9v0.9h-0.9zM312.7 118.8h0.9v0.9h-0.9zM299.1 120.3h0.9v0.9h-0.9zM297.2 144.3h0.9v0.9h-0.9zM297.8 120.6h0.9v0.9h-0.9zM301.6 147.7h0.9v0.9h-0.9zM300.5 144.3h0.9v0.9h-0.9zM300.5 127.3h0.9v0.9h-0.9zM304.0 143.4h0.9v0.9h-0.9zM303.0 125.6h0.9v0.9h-0.9zM298.2 134.9h0.9v0.9h-0.9zM309.3 124.1h0.9v0.9h-0.9zM310.9 141.6h0.9v0.9h-0.9zM307.0 118.1h0.9v0.9h-0.9zM302.3 133.0h0.9v0.9h-0.9zM305.2 141.5h0.9v0.9h-0.9zM310.6 129.8h0.9v0.9h-0.9zM295.3 128.3h0.9v0.9h-0.9zM307.2 131.4h0.9v0.9h-0.9zM307.6 142.7h0.9v0.9h-0.9zM308.0 129.5h0.9v0.9h-0.9zM299.7 140.6h0.9v0.9h-0.9zM309.5 121.3h0.9v0.9h-0.9zM299.1 126.8h0.9v0.9h-0.9zM307.0 149.2h0.9v0.9h-0.9zM315.4 125.4h0.9v0.9h-0.9zM301.2 128.8h0.9v0.9h-0.9zM303.0 145.2h0.9v0.9h-0.9zM303.0 148.2h0.9v0.9h-0.9zM304.3 129.9h0.9v0.9h-0.9zM297.4 131.5h0.9v0.9h-0.9zM296.4 144.0h0.9v0.9h-0.9zM311.0 125.9h0.9v0.9h-0.9zM304.2 135.7h0.9v0.9h-0.9zM296.6 125.5h0.9v0.9h-0.9zM306.7 151.2h0.9v0.9h-0.9zM303.8 147.2h0.9v0.9h-0.9zM308.5 130.2h0.9v0.9h-0.9zM306.5 126.9h0.9v0.9h-0.9zM304.5 144.3h0.9v0.9h-0.9zM302.9 130.5h0.9v0.9h-0.9zM306.4 151.5h0.9v0.9h-0.9zM308.7 134.9h0.9v0.9h-0.9zM303.5 136.5h0.9v0.9h-0.9zM302.4 121.7h0.9v0.9h-0.9zM305.0 149.6h0.9v0.9h-0.9zM306.2 150.1h0.9v0.9h-0.9zM305.0 145.0h0.9v0.9h-0.9zM291.9 131.5h0.9v0.9h-0.9zM299.8 128.4h0.9v0.9h-0.9zM302.7 137.1h0.9v0.9h-0.9zM313.4 124.9h0.9v0.9h-0.9zM297.8 145.9h0.9v0.9h-0.9zM308.1 123.6h0.9v0.9h-0.9zM307.3 145.2h0.9v0.9h-0.9zM304.9 152.3h0.9v0.9h-0.9zM309.4 123.7h0.9v0.9h-0.9zM300.4 121.7h0.9v0.9h-0.9zM308.0 133.3h0.9v0.9h-0.9zM303.8 148.7h0.9v0.9h-0.9zM305.9 152.0h0.9v0.9h-0.9zM313.0 135.4h0.9v0.9h-0.9zM304.5 150.9h0.9v0.9h-0.9zM309.3 142.7h0.9v0.9h-0.9zM302.1 127.2h0.9v0.9h-0.9zM302.8 122.1h0.9v0.9h-0.9zM296.1 128.3h0.9v0.9h-0.9zM309.7 119.1h0.9v0.9h-0.9zM302.3 143.1h0.9v0.9h-0.9zM304.2 147.5h0.9v0.9h-0.9zM303.0 127.9h0.9v0.9h-0.9zM304.4 146.3h0.9v0.9h-0.9zM296.7 143.1h0.9v0.9h-0.9zM301.1 124.9h0.9v0.9h-0.9zM298.9 123.4h0.9v0.9h-0.9zM291.9 129.0h0.9v0.9h-0.9zM318.4 126.6h0.9v0.9h-0.9zM298.4 140.1h0.9v0.9h-0.9zM299.9 131.2h0.9v0.9h-0.9zM310.2 118.5h0.9v0.9h-0.9zM307.7 144.5h0.9v0.9h-0.9zM307.5 145.1h0.9v0.9h-0.9zM304.2 152.0h0.9v0.9h-0.9zM299.2 121.8h0.9v0.9h-0.9zM313.8 120.8h0.9v0.9h-0.9zM305.6 143.2h0.9v0.9h-0.9zM307.4 121.3h0.9v0.9h-0.9zM303.9 152.7h0.9v0.9h-0.9zM300.7 123.7h0.9v0.9h-0.9zM292.6 129.7h0.9v0.9h-0.9zM309.8 121.6h0.9v0.9h-0.9zM304.6 147.2h0.9v0.9h-0.9zM298.0 121.9h0.9v0.9h-0.9zM297.4 128.6h0.9v0.9h-0.9zM299.8 127.0h0.9v0.9h-0.9zM302.6 125.0h0.9v0.9h-0.9zM306.5 143.0h0.9v0.9h-0.9zM308.6 146.1h0.9v0.9h-0.9zM293.3 135.4h0.9v0.9h-0.9zM301.3 127.2h0.9v0.9h-0.9zM301.0 119.5h0.9v0.9h-0.9zM312.1 136.1h0.9v0.9h-0.9zM304.5 149.8h0.9v0.9h-0.9zM306.7 139.5h0.9v0.9h-0.9zM302.9 118.0h0.9v0.9h-0.9zM297.7 124.4h0.9v0.9h-0.9zM315.1 133.8h0.9v0.9h-0.9zM315.7 120.1h0.9v0.9h-0.9zM310.9 132.4h0.9v0.9h-0.9zM311.7 126.8h0.9v0.9h-0.9zM300.4 128.3h0.9v0.9h-0.9zM302.6 141.7h0.9v0.9h-0.9zM307.5 147.9h0.9v0.9h-0.9zM307.3 149.5h0.9v0.9h-0.9zM307.8 147.8h0.9v0.9h-0.9zM301.7 136.9h0.9v0.9h-0.9zM306.3 150.2h0.9v0.9h-0.9zM311.0 144.2h0.9v0.9h-0.9zM301.6 142.8h0.9v0.9h-0.9zM301.3 142.9h0.9v0.9h-0.9zM302.7 129.6h0.9v0.9h-0.9zM307.3 124.0h0.9v0.9h-0.9zM294.5 128.3h0.9v0.9h-0.9zM308.7 136.4h0.9v0.9h-0.9zM314.3 119.5h0.9v0.9h-0.9zM294.6 128.4h0.9v0.9h-0.9zM302.4 130.9h0.9v0.9h-0.9zM304.2 151.2h0.9v0.9h-0.9zM309.4 132.4h0.9v0.9h-0.9zM308.7 124.0h0.9v0.9h-0.9zM296.1 126.1h0.9v0.9h-0.9zM302.3 147.5h0.9v0.9h-0.9zM306.3 128.9h0.9v0.9h-0.9zM309.4 137.5h0.9v0.9h-0.9zM315.1 119.3h0.9v0.9h-0.9zM298.4 120.0h0.9v0.9h-0.9zM302.9 123.1h0.9v0.9h-0.9zM306.9 146.6h0.9v0.9h-0.9zM307.8 139.6h0.9v0.9h-0.9zM315.1 131.2h0.9v0.9h-0.9zM302.8 124.7h0.9v0.9h-0.9zM296.5 118.2h0.9v0.9h-0.9zM306.9 126.2h0.9v0.9h-0.9zM298.6 118.7h0.9v0.9h-0.9zM299.9 124.2h0.9v0.9h-0.9zM311.0 124.6h0.9v0.9h-0.9zM312.1 143.6h0.9v0.9h-0.9zM306.0 150.9h0.9v0.9h-0.9zM303.5 137.3h0.9v0.9h-0.9zM301.7 139.0h0.9v0.9h-0.9zM301.6 141.5h0.9v0.9h-0.9zM303.2 133.7h0.9v0.9h-0.9zM308.5 119.3h0.9v0.9h-0.9zM302.2 128.9h0.9v0.9h-0.9zM303.7 149.6h0.9v0.9h-0.9zM302.1 127.3h0.9v0.9h-0.9zM292.0 129.4h0.9v0.9h-0.9zM302.6 127.3h0.9v0.9h-0.9zM295.6 130.2h0.9v0.9h-0.9zM308.0 141.5h0.9v0.9h-0.9zM316.5 127.3h0.9v0.9h-0.9zM301.1 119.8h0.9v0.9h-0.9zM318.0 124.4h0.9v0.9h-0.9zM303.3 129.1h0.9v0.9h-0.9zM306.6 140.6h0.9v0.9h-0.9zM304.5 152.6h0.9v0.9h-0.9zM310.4 118.5h0.9v0.9h-0.9zM294.6 138.2h0.9v0.9h-0.9zM307.9 140.0h0.9v0.9h-0.9zM316.0 130.1h0.9v0.9h-0.9zM300.2 131.1h0.9v0.9h-0.9zM299.5 132.0h0.9v0.9h-0.9zM311.9 122.9h0.9v0.9h-0.9zM308.0 143.5h0.9v0.9h-0.9zM309.5 121.1h0.9v0.9h-0.9zM303.1 144.8h0.9v0.9h-0.9zM299.1 127.5h0.9v0.9h-0.9zM308.8 130.0h0.9v0.9h-0.9zM306.4 132.2h0.9v0.9h-0.9zM308.7 126.3h0.9v0.9h-0.9zM310.9 145.3h0.9v0.9h-0.9zM294.4 129.0h0.9v0.9h-0.9zM305.5 139.4h0.9v0.9h-0.9zM307.5 120.6h0.9v0.9h-0.9zM308.5 128.0h0.9v0.9h-0.9zM300.9 138.9h0.9v0.9h-0.9zM302.8 126.6h0.9v0.9h-0.9zM301.0 126.9h0.9v0.9h-0.9zM307.0 123.1h0.9v0.9h-0.9zM303.7 121.2h0.9v0.9h-0.9zM300.7 124.8h0.9v0.9h-0.9zM304.8 138.8h0.9v0.9h-0.9zM302.9 124.3h0.9v0.9h-0.9zM300.2 139.8h0.9v0.9h-0.9zM306.4 152.2h0.9v0.9h-0.9zM303.7 150.9h0.9v0.9h-0.9zM314.9 121.2h0.9v0.9h-0.9zM309.5 134.8h0.9v0.9h-0.9zM304.5 131.7h0.9v0.9h-0.9zM307.9 139.5h0.9v0.9h-0.9zM303.4 150.6h0.9v0.9h-0.9zM309.8 128.2h0.9v0.9h-0.9zM308.2 145.6h0.9v0.9h-0.9zM297.4 144.2h0.9v0.9h-0.9zM297.7 131.3h0.9v0.9h-0.9zM308.5 129.0h0.9v0.9h-0.9zM301.4 130.3h0.9v0.9h-0.9zM301.5 127.5h0.9v0.9h-0.9zM302.2 139.7h0.9v0.9h-0.9zM304.4 132.9h0.9v0.9h-0.9zM306.6 148.6h0.9v0.9h-0.9zM313.5 138.7h0.9v0.9h-0.9zM298.4 129.7h0.9v0.9h-0.9zM306.5 152.0h0.9v0.9h-0.9zM306.5 133.4h0.9v0.9h-0.9zM306.2 147.8h0.9v0.9h-0.9zM299.5 134.9h0.9v0.9h-0.9zM311.8 139.0h0.9v0.9h-0.9zM307.8 136.4h0.9v0.9h-0.9zM303.3 126.6h0.9v0.9h-0.9zM301.4 141.9h0.9v0.9h-0.9zM301.0 131.8h0.9v0.9h-0.9zM300.9 146.0h0.9v0.9h-0.9zM308.0 144.3h0.9v0.9h-0.9zM304.2 138.1h0.9v0.9h-0.9zM302.6 133.5h0.9v0.9h-0.9zM299.2 133.1h0.9v0.9h-0.9zM298.0 120.0h0.9v0.9h-0.9zM310.3 130.2h0.9v0.9h-0.9zM317.9 123.3h0.9v0.9h-0.9zM304.1 144.7h0.9v0.9h-0.9zM306.2 144.9h0.9v0.9h-0.9zM309.2 126.4h0.9v0.9h-0.9zM311.0 130.1h0.9v0.9h-0.9zM300.6 141.7h0.9v0.9h-0.9zM303.4 146.5h0.9v0.9h-0.9zM307.3 138.1h0.9v0.9h-0.9zM307.3 148.3h0.9v0.9h-0.9zM296.5 129.7h0.9v0.9h-0.9zM310.6 139.0h0.9v0.9h-0.9zM309.9 137.2h0.9v0.9h-0.9zM304.2 133.4h0.9v0.9h-0.9zM302.1 123.6h0.9v0.9h-0.9zM307.3 147.1h0.9v0.9h-0.9zM307.0 128.0h0.9v0.9h-0.9zM302.1 130.8h0.9v0.9h-0.9zM300.2 127.4h0.9v0.9h-0.9zM305.0 142.0h0.9v0.9h-0.9zM307.0 141.0h0.9v0.9h-0.9zM302.6 126.6h0.9v0.9h-0.9zM303.4 139.3h0.9v0.9h-0.9zM306.7 138.6h0.9v0.9h-0.9zM304.7 143.4h0.9v0.9h-0.9zM307.6 125.4h0.9v0.9h-0.9zM315.3 126.4h0.9v0.9h-0.9zM307.1 127.2h0.9v0.9h-0.9zM316.2 132.4h0.9v0.9h-0.9zM315.2 120.7h0.9v0.9h-0.9zM302.4 120.8h0.9v0.9h-0.9zM301.8 126.4h0.9v0.9h-0.9zM314.5 118.5h0.9v0.9h-0.9zM309.2 147.2h0.9v0.9h-0.9zM300.4 134.8h0.9v0.9h-0.9zM302.6 148.1h0.9v0.9h-0.9zM314.8 122.9h0.9v0.9h-0.9zM303.3 119.9h0.9v0.9h-0.9zM302.4 130.3h0.9v0.9h-0.9zM298.2 142.2h0.9v0.9h-0.9zM298.8 126.4h0.9v0.9h-0.9zM316.1 123.0h0.9v0.9h-0.9zM308.4 140.5h0.9v0.9h-0.9zM308.9 121.4h0.9v0.9h-0.9zM302.6 141.7h0.9v0.9h-0.9zM312.1 122.5h0.9v0.9h-0.9zM304.6 145.2h0.9v0.9h-0.9zM308.2 120.5h0.9v0.9h-0.9zM303.5 150.4h0.9v0.9h-0.9zM307.3 139.2h0.9v0.9h-0.9zM300.1 133.4h0.9v0.9h-0.9zM308.3 132.0h0.9v0.9h-0.9zM310.0 130.1h0.9v0.9h-0.9zM306.0 146.8h0.9v0.9h-0.9zM299.9 140.7h0.9v0.9h-0.9zM307.4 143.5h0.9v0.9h-0.9zM303.5 141.7h0.9v0.9h-0.9zM309.0 149.2h0.9v0.9h-0.9zM302.9 124.1h0.9v0.9h-0.9zM309.5 125.8h0.9v0.9h-0.9zM299.4 134.9h0.9v0.9h-0.9zM302.4 131.7h0.9v0.9h-0.9zM299.0 142.1h0.9v0.9h-0.9zM292.4 128.9h0.9v0.9h-0.9zM310.2 121.1h0.9v0.9h-0.9zM314.3 128.2h0.9v0.9h-0.9zM305.6 147.4h0.9v0.9h-0.9zM300.9 139.7h0.9v0.9h-0.9zM300.7 149.8h0.9v0.9h-0.9zM316.6 132.7h0.9v0.9h-0.9zM315.4 121.9h0.9v0.9h-0.9zM302.9 136.6h0.9v0.9h-0.9zM312.0 143.2h0.9v0.9h-0.9zM305.6 138.5h0.9v0.9h-0.9zM304.3 147.6h0.9v0.9h-0.9zM308.2 120.9h0.9v0.9h-0.9zM314.2 131.3h0.9v0.9h-0.9zM305.4 140.6h0.9v0.9h-0.9zM302.5 136.7h0.9v0.9h-0.9zM310.3 146.7h0.9v0.9h-0.9zM303.0 146.2h0.9v0.9h-0.9zM310.9 131.8h0.9v0.9h-0.9zM307.0 138.5h0.9v0.9h-0.9zM305.7 137.5h0.9v0.9h-0.9zM308.4 146.0h0.9v0.9h-0.9zM304.1 149.0h0.9v0.9h-0.9zM311.6 135.8h0.9v0.9h-0.9zM307.5 141.7h0.9v0.9h-0.9zM303.6 136.0h0.9v0.9h-0.9zM312.1 127.5h0.9v0.9h-0.9zM300.5 143.3h0.9v0.9h-0.9zM314.4 119.2h0.9v0.9h-0.9zM307.1 141.6h0.9v0.9h-0.9zM304.0 138.7h0.9v0.9h-0.9zM306.7 145.5h0.9v0.9h-0.9zM300.7 137.5h0.9v0.9h-0.9zM305.7 136.0h0.9v0.9h-0.9zM293.9 127.9h0.9v0.9h-0.9zM309.2 147.4h0.9v0.9h-0.9zM305.7 134.3h0.9v0.9h-0.9zM309.8 122.7h0.9v0.9h-0.9zM308.8 129.7h0.9v0.9h-0.9zM301.2 122.5h0.9v0.9h-0.9zM299.0 123.7h0.9v0.9h-0.9zM300.8 123.7h0.9v0.9h-0.9zM305.0 148.7h0.9v0.9h-0.9zM306.6 120.0h0.9v0.9h-0.9zM302.9 140.5h0.9v0.9h-0.9zM299.4 119.0h0.9v0.9h-0.9zM317.5 133.0h0.9v0.9h-0.9zM301.8 130.7h0.9v0.9h-0.9zM297.8 121.4h0.9v0.9h-0.9zM309.9 130.1h0.9v0.9h-0.9zM313.5 134.3h0.9v0.9h-0.9zM301.5 124.4h0.9v0.9h-0.9zM306.9 147.5h0.9v0.9h-0.9zM316.5 125.2h0.9v0.9h-0.9zM296.4 133.9h0.9v0.9h-0.9zM303.7 133.1h0.9v0.9h-0.9zM295.1 134.5h0.9v0.9h-0.9zM307.0 125.0h0.9v0.9h-0.9zM295.6 123.5h0.9v0.9h-0.9zM307.6 122.7h0.9v0.9h-0.9zM307.9 128.8h0.9v0.9h-0.9zM297.4 132.0h0.9v0.9h-0.9zM301.2 129.7h0.9v0.9h-0.9zM309.2 127.3h0.9v0.9h-0.9zM306.7 123.9h0.9v0.9h-0.9zM307.7 122.6h0.9v0.9h-0.9zM297.0 135.8h0.9v0.9h-0.9zM307.5 125.9h0.9v0.9h-0.9zM299.5 133.1h0.9v0.9h-0.9zM312.5 139.6h0.9v0.9h-0.9zM302.9 150.5h0.9v0.9h-0.9zM292.8 132.8h0.9v0.9h-0.9zM308.1 138.4h0.9v0.9h-0.9zM306.1 151.0h0.9v0.9h-0.9zM308.0 151.1h0.9v0.9h-0.9zM308.7 130.9h0.9v0.9h-0.9zM304.6 151.3h0.9v0.9h-0.9zM310.0 119.8h0.9v0.9h-0.9zM299.6 131.9h0.9v0.9h-0.9zM303.9 149.7h0.9v0.9h-0.9zM302.4 125.7h0.9v0.9h-0.9zM315.6 124.6h0.9v0.9h-0.9zM303.8 120.5h0.9v0.9h-0.9zM303.7 137.1h0.9v0.9h-0.9zM300.8 147.5h0.9v0.9h-0.9zM310.3 122.5h0.9v0.9h-0.9zM302.3 146.6h0.9v0.9h-0.9zM303.1 142.9h0.9v0.9h-0.9zM306.5 133.1h0.9v0.9h-0.9zM308.1 150.4h0.9v0.9h-0.9zM298.4 137.6h0.9v0.9h-0.9zM299.0 143.4h0.9v0.9h-0.9zM318.9 130.1h0.9v0.9h-0.9zM298.3 145.2h0.9v0.9h-0.9zM301.3 118.9h0.9v0.9h-0.9zM301.4 134.4h0.9v0.9h-0.9zM310.5 121.6h0.9v0.9h-0.9zM309.8 138.7h0.9v0.9h-0.9zM308.4 144.5h0.9v0.9h-0.9zM305.1 151.4h0.9v0.9h-0.9zM308.2 124.3h0.9v0.9h-0.9zM306.6 150.6h0.9v0.9h-0.9zM304.6 134.9h0.9v0.9h-0.9zM303.7 144.6h0.9v0.9h-0.9zM303.4 128.1h0.9v0.9h-0.9zM301.6 127.8h0.9v0.9h-0.9zM307.4 138.2h0.9v0.9h-0.9zM302.8 118.9h0.9v0.9h-0.9zM308.1 135.9h0.9v0.9h-0.9zM307.8 143.3h0.9v0.9h-0.9zM301.0 132.0h0.9v0.9h-0.9zM301.3 134.9h0.9v0.9h-0.9zM299.6 146.1h0.9v0.9h-0.9zM301.6 141.4h0.9v0.9h-0.9zM313.0 118.0h0.9v0.9h-0.9zM297.1 126.5h0.9v0.9h-0.9zM315.7 120.2h0.9v0.9h-0.9zM312.3 133.4h0.9v0.9h-0.9zM309.9 143.2h0.9v0.9h-0.9zM301.3 145.0h0.9v0.9h-0.9zM308.6 142.8h0.9v0.9h-0.9zM310.5 125.5h0.9v0.9h-0.9zM298.9 121.9h0.9v0.9h-0.9zM300.6 131.1h0.9v0.9h-0.9zM300.2 129.2h0.9v0.9h-0.9zM301.8 150.9h0.9v0.9h-0.9zM308.8 126.0h0.9v0.9h-0.9zM301.6 128.7h0.9v0.9h-0.9zM302.3 143.4h0.9v0.9h-0.9zM304.7 143.8h0.9v0.9h-0.9zM309.2 121.9h0.9v0.9h-0.9zM309.4 128.6h0.9v0.9h-0.9zM303.6 124.3h0.9v0.9h-0.9zM292.7 126.9h0.9v0.9h-0.9zM309.2 125.3h0.9v0.9h-0.9zM300.7 138.8h0.9v0.9h-0.9zM306.6 151.1h0.9v0.9h-0.9zM294.1 123.0h0.9v0.9h-0.9zM300.6 144.3h0.9v0.9h-0.9zM292.2 126.6h0.9v0.9h-0.9zM299.3 139.4h0.9v0.9h-0.9zM307.6 148.0h0.9v0.9h-0.9zM309.8 149.5h0.9v0.9h-0.9zM296.5 131.6h0.9v0.9h-0.9zM305.0 149.2h0.9v0.9h-0.9zM307.7 124.9h0.9v0.9h-0.9zM308.7 118.0h0.9v0.9h-0.9zM306.8 149.5h0.9v0.9h-0.9zM301.7 139.3h0.9v0.9h-0.9zM300.6 129.0h0.9v0.9h-0.9zM313.2 121.2h0.9v0.9h-0.9zM306.3 140.2h0.9v0.9h-0.9zM307.2 132.0h0.9v0.9h-0.9zM318.2 133.1h0.9v0.9h-0.9zM300.6 124.5h0.9v0.9h-0.9zM307.3 143.7h0.9v0.9h-0.9zM295.5 132.5h0.9v0.9h-0.9zM301.2 118.2h0.9v0.9h-0.9zM310.2 122.7h0.9v0.9h-0.9zM313.5 125.7h0.9v0.9h-0.9zM307.3 134.0h0.9v0.9h-0.9zM307.5 123.9h0.9v0.9h-0.9zM306.6 152.1h0.9v0.9h-0.9zM304.4 138.7h0.9v0.9h-0.9zM304.4 149.8h0.9v0.9h-0.9zM305.3 149.8h0.9v0.9h-0.9zM310.8 125.1h0.9v0.9h-0.9zM301.6 133.4h0.9v0.9h-0.9zM303.3 139.6h0.9v0.9h-0.9zM305.9 140.4h0.9v0.9h-0.9zM310.3 146.5h0.9v0.9h-0.9zM316.9 124.1h0.9v0.9h-0.9zM301.8 148.8h0.9v0.9h-0.9zM296.8 131.9h0.9v0.9h-0.9zM314.7 131.2h0.9v0.9h-0.9zM312.6 118.0h0.9v0.9h-0.9zM295.2 132.5h0.9v0.9h-0.9zM300.8 144.4h0.9v0.9h-0.9zM302.8 140.0h0.9v0.9h-0.9zM306.0 145.0h0.9v0.9h-0.9zM305.2 141.0h0.9v0.9h-0.9zM304.3 129.3h0.9v0.9h-0.9zM304.2 141.2h0.9v0.9h-0.9zM293.0 127.2h0.9v0.9h-0.9zM305.1 142.2h0.9v0.9h-0.9zM311.0 123.2h0.9v0.9h-0.9zM310.1 120.7h0.9v0.9h-0.9zM301.4 119.5h0.9v0.9h-0.9zM312.4 138.7h0.9v0.9h-0.9zM298.5 130.1h0.9v0.9h-0.9zM305.7 152.4h0.9v0.9h-0.9zM310.8 137.2h0.9v0.9h-0.9zM309.9 134.6h0.9v0.9h-0.9zM310.7 135.2h0.9v0.9h-0.9zM310.0 134.1h0.9v0.9h-0.9zM309.3 134.2h0.9v0.9h-0.9zM317.2 118.3h0.9v0.9h-0.9zM318.0 124.9h0.9v0.9h-0.9zM305.2 141.9h0.9v0.9h-0.9zM317.4 129.2h0.9v0.9h-0.9zM306.2 141.6h0.9v0.9h-0.9zM303.5 127.8h0.9v0.9h-0.9zM306.0 134.4h0.9v0.9h-0.9zM309.5 145.2h0.9v0.9h-0.9zM308.3 120.1h0.9v0.9h-0.9zM303.3 146.9h0.9v0.9h-0.9zM311.5 138.8h0.9v0.9h-0.9zM297.3 121.8h0.9v0.9h-0.9zM299.8 136.5h0.9v0.9h-0.9zM297.0 118.7h0.9v0.9h-0.9zM311.3 134.0h0.9v0.9h-0.9zM307.4 142.8h0.9v0.9h-0.9zM307.3 146.5h0.9v0.9h-0.9zM297.4 144.1h0.9v0.9h-0.9zM312.9 119.1h0.9v0.9h-0.9zM311.3 137.6h0.9v0.9h-0.9zM295.0 120.6h0.9v0.9h-0.9zM308.5 140.4h0.9v0.9h-0.9zM304.7 149.0h0.9v0.9h-0.9zM294.9 122.6h0.9v0.9h-0.9zM304.6 149.8h0.9v0.9h-0.9zM300.4 118.2h0.9v0.9h-0.9zM295.4 123.2h0.9v0.9h-0.9zM301.2 143.9h0.9v0.9h-0.9zM296.5 136.9h0.9v0.9h-0.9zM313.6 121.7h0.9v0.9h-0.9zM302.3 136.1h0.9v0.9h-0.9zM306.5 130.4h0.9v0.9h-0.9zM294.0 136.9h0.9v0.9h-0.9zM308.6 137.0h0.9v0.9h-0.9zM296.8 126.0h0.9v0.9h-0.9zM307.6 147.6h0.9v0.9h-0.9zM300.1 132.7h0.9v0.9h-0.9zM313.1 127.5h0.9v0.9h-0.9zM302.1 139.2h0.9v0.9h-0.9zM308.5 138.1h0.9v0.9h-0.9zM298.7 146.0h0.9v0.9h-0.9zM303.4 147.0h0.9v0.9h-0.9zM302.4 142.0h0.9v0.9h-0.9zM301.4 146.1h0.9v0.9h-0.9zM297.0 123.0h0.9v0.9h-0.9zM306.9 121.3h0.9v0.9h-0.9zM292.4 123.8h0.9v0.9h-0.9zM310.5 149.2h0.9v0.9h-0.9zM299.3 122.6h0.9v0.9h-0.9zM305.5 140.6h0.9v0.9h-0.9zM303.6 148.1h0.9v0.9h-0.9zM302.4 124.8h0.9v0.9h-0.9zM296.7 141.3h0.9v0.9h-0.9zM300.9 123.0h0.9v0.9h-0.9zM301.4 133.1h0.9v0.9h-0.9zM301.6 132.8h0.9v0.9h-0.9zM308.5 123.3h0.9v0.9h-0.9zM304.7 140.2h0.9v0.9h-0.9zM301.5 127.5h0.9v0.9h-0.9zM309.0 130.2h0.9v0.9h-0.9zM305.0 139.5h0.9v0.9h-0.9zM293.6 118.5h0.9v0.9h-0.9zM296.0 120.7h0.9v0.9h-0.9zM307.2 133.6h0.9v0.9h-0.9zM307.1 132.1h0.9v0.9h-0.9zM300.3 130.9h0.9v0.9h-0.9zM318.4 128.6h0.9v0.9h-0.9zM309.3 127.9h0.9v0.9h-0.9zM307.1 145.0h0.9v0.9h-0.9zM302.4 133.2h0.9v0.9h-0.9zM303.7 132.2h0.9v0.9h-0.9zM302.1 141.6h0.9v0.9h-0.9zM310.1 123.5h0.9v0.9h-0.9zM293.3 133.6h0.9v0.9h-0.9zM304.5 150.7h0.9v0.9h-0.9zM306.4 142.6h0.9v0.9h-0.9zM310.7 127.7h0.9v0.9h-0.9zM314.0 122.9h0.9v0.9h-0.9zM301.8 134.3h0.9v0.9h-0.9zM303.7 128.3h0.9v0.9h-0.9zM302.7 138.6h0.9v0.9h-0.9zM305.2 152.7h0.9v0.9h-0.9zM296.8 142.2h0.9v0.9h-0.9zM300.8 147.9h0.9v0.9h-0.9zM307.2 123.0h0.9v0.9h-0.9zM307.6 147.0h0.9v0.9h-0.9zM307.7 139.1h0.9v0.9h-0.9zM311.6 135.2h0.9v0.9h-0.9zM306.2 137.7h0.9v0.9h-0.9zM307.5 126.1h0.9v0.9h-0.9zM310.7 142.1h0.9v0.9h-0.9zM315.1 136.0h0.9v0.9h-0.9zM308.2 140.5h0.9v0.9h-0.9zM310.3 126.0h0.9v0.9h-0.9zM306.2 140.0h0.9v0.9h-0.9zM306.2 150.5h0.9v0.9h-0.9zM313.7 132.9h0.9v0.9h-0.9zM300.9 131.1h0.9v0.9h-0.9zM300.0 133.2h0.9v0.9h-0.9zM303.8 126.5h0.9v0.9h-0.9zM307.6 138.2h0.9v0.9h-0.9zM306.3 151.2h0.9v0.9h-0.9zM301.0 120.7h0.9v0.9h-0.9zM307.0 124.6h0.9v0.9h-0.9zM307.7 138.3h0.9v0.9h-0.9zM306.5 147.5h0.9v0.9h-0.9zM309.1 139.5h0.9v0.9h-0.9zM301.9 148.0h0.9v0.9h-0.9zM302.0 134.9h0.9v0.9h-0.9zM296.4 130.0h0.9v0.9h-0.9zM310.4 129.4h0.9v0.9h-0.9zM315.2 127.4h0.9v0.9h-0.9zM298.2 122.5h0.9v0.9h-0.9zM299.6 128.3h0.9v0.9h-0.9zM305.4 146.5h0.9v0.9h-0.9zM310.3 125.3h0.9v0.9h-0.9zM300.3 135.2h0.9v0.9h-0.9zM300.8 149.4h0.9v0.9h-0.9zM311.5 145.9h0.9v0.9h-0.9zM301.8 132.0h0.9v0.9h-0.9zM306.3 138.5h0.9v0.9h-0.9zM304.4 142.1h0.9v0.9h-0.9zM303.0 127.3h0.9v0.9h-0.9zM308.7 120.3h0.9v0.9h-0.9zM303.0 145.7h0.9v0.9h-0.9zM304.7 143.5h0.9v0.9h-0.9zM311.0 135.4h0.9v0.9h-0.9zM307.7 146.2h0.9v0.9h-0.9zM305.5 148.2h0.9v0.9h-0.9zM309.9 142.0h0.9v0.9h-0.9zM297.4 131.3h0.9v0.9h-0.9zM302.8 143.0h0.9v0.9h-0.9zM308.8 139.2h0.9v0.9h-0.9zM310.2 141.2h0.9v0.9h-0.9zM303.7 119.2h0.9v0.9h-0.9zM299.8 137.4h0.9v0.9h-0.9zM307.3 129.7h0.9v0.9h-0.9zM308.4 122.3h0.9v0.9h-0.9zM307.5 129.4h0.9v0.9h-0.9zM299.7 142.4h0.9v0.9h-0.9zM307.5 132.1h0.9v0.9h-0.9zM308.5 137.4h0.9v0.9h-0.9zM303.5 125.0h0.9v0.9h-0.9zM307.9 127.6h0.9v0.9h-0.9zM307.9 124.8h0.9v0.9h-0.9zM301.5 126.7h0.9v0.9h-0.9zM306.7 134.3h0.9v0.9h-0.9zM306.8 139.9h0.9v0.9h-0.9zM300.2 134.2h0.9v0.9h-0.9zM315.6 131.2h0.9v0.9h-0.9zM307.4 141.5h0.9v0.9h-0.9zM302.2 134.0h0.9v0.9h-0.9zM311.0 132.6h0.9v0.9h-0.9zM305.1 142.7h0.9v0.9h-0.9zM304.1 140.3h0.9v0.9h-0.9zM311.5 139.3h0.9v0.9h-0.9zM306.3 142.4h0.9v0.9h-0.9zM299.3 141.7h0.9v0.9h-0.9zM298.8 145.7h0.9v0.9h-0.9zM306.1 138.3h0.9v0.9h-0.9zM299.3 128.8h0.9v0.9h-0.9zM297.6 135.8h0.9v0.9h-0.9zM301.7 147.1h0.9v0.9h-0.9zM305.4 146.3h0.9v0.9h-0.9zM297.9 123.1h0.9v0.9h-0.9zM301.1 144.8h0.9v0.9h-0.9zM305.8 132.1h0.9v0.9h-0.9zM300.8 118.5h0.9v0.9h-0.9zM302.9 145.1h0.9v0.9h-0.9zM307.6 142.0h0.9v0.9h-0.9zM308.2 135.0h0.9v0.9h-0.9zM305.4 138.8h0.9v0.9h-0.9zM310.2 146.4h0.9v0.9h-0.9zM310.0 140.1h0.9v0.9h-0.9zM306.2 148.6h0.9v0.9h-0.9zM310.1 144.6h0.9v0.9h-0.9zM308.3 140.5h0.9v0.9h-0.9zM299.7 138.5h0.9v0.9h-0.9zM299.3 125.4h0.9v0.9h-0.9zM301.4 127.9h0.9v0.9h-0.9zM309.5 141.8h0.9v0.9h-0.9zM292.6 126.8h0.9v0.9h-0.9zM307.5 142.9h0.9v0.9h-0.9zM303.3 124.3h0.9v0.9h-0.9zM300.4 133.6h0.9v0.9h-0.9zM296.6 135.3h0.9v0.9h-0.9zM305.6 148.7h0.9v0.9h-0.9zM293.5 133.0h0.9v0.9h-0.9zM309.7 128.1h0.9v0.9h-0.9zM293.1 118.4h0.9v0.9h-0.9zM309.9 118.5h0.9v0.9h-0.9zM302.4 121.8h0.9v0.9h-0.9zM302.9 121.7h0.9v0.9h-0.9zM316.3 122.3h0.9v0.9h-0.9zM311.9 130.4h0.9v0.9h-0.9zM301.3 124.5h0.9v0.9h-0.9zM300.0 123.1h0.9v0.9h-0.9zM299.2 127.8h0.9v0.9h-0.9zM303.5 152.2h0.9v0.9h-0.9zM302.5 136.4h0.9v0.9h-0.9zM301.3 122.3h0.9v0.9h-0.9zM305.0 139.0h0.9v0.9h-0.9zM298.2 132.8h0.9v0.9h-0.9zM303.4 118.6h0.9v0.9h-0.9zM306.3 127.6h0.9v0.9h-0.9zM299.4 128.2h0.9v0.9h-0.9zM309.5 149.2h0.9v0.9h-0.9zM310.9 141.1h0.9v0.9h-0.9zM304.6 135.6h0.9v0.9h-0.9zM303.1 144.6h0.9v0.9h-0.9zM303.2 149.1h0.9v0.9h-0.9zM306.9 148.4h0.9v0.9h-0.9zM310.6 125.1h0.9v0.9h-0.9zM300.7 128.5h0.9v0.9h-0.9zM306.1 137.5h0.9v0.9h-0.9zM299.6 121.7h0.9v0.9h-0.9zM301.7 149.4h0.9v0.9h-0.9zM306.1 143.7h0.9v0.9h-0.9zM299.5 121.5h0.9v0.9h-0.9zM302.2 124.7h0.9v0.9h-0.9zM308.1 134.2h0.9v0.9h-0.9zM311.1 131.4h0.9v0.9h-0.9zM304.0 127.1h0.9v0.9h-0.9zM308.4 121.2h0.9v0.9h-0.9zM301.9 128.4h0.9v0.9h-0.9zM303.6 125.5h0.9v0.9h-0.9zM306.1 129.2h0.9v0.9h-0.9zM310.6 119.5h0.9v0.9h-0.9zM307.9 147.6h0.9v0.9h-0.9zM306.5 143.9h0.9v0.9h-0.9zM306.6 128.6h0.9v0.9h-0.9zM303.9 138.5h0.9v0.9h-0.9zM310.0 147.5h0.9v0.9h-0.9zM302.4 146.4h0.9v0.9h-0.9zM308.4 144.1h0.9v0.9h-0.9zM307.6 118.9h0.9v0.9h-0.9zM309.9 129.7h0.9v0.9h-0.9zM299.1 132.4h0.9v0.9h-0.9zM301.5 148.8h0.9v0.9h-0.9zM298.0 133.2h0.9v0.9h-0.9zM303.6 148.6h0.9v0.9h-0.9zM309.1 122.4h0.9v0.9h-0.9zM297.8 145.7h0.9v0.9h-0.9zM307.3 126.2h0.9v0.9h-0.9zM318.0 132.3h0.9v0.9h-0.9zM305.2 148.3h0.9v0.9h-0.9zM315.9 126.9h0.9v0.9h-0.9zM306.6 126.5h0.9v0.9h-0.9zM308.4 137.6h0.9v0.9h-0.9zM314.0 136.1h0.9v0.9h-0.9zM300.8 121.0h0.9v0.9h-0.9zM306.2 149.4h0.9v0.9h-0.9zM307.7 132.5h0.9v0.9h-0.9zM313.0 119.8h0.9v0.9h-0.9zM306.0 133.7h0.9v0.9h-0.9zM298.3 121.3h0.9v0.9h-0.9zM308.5 142.4h0.9v0.9h-0.9zM298.8 138.6h0.9v0.9h-0.9zM308.0 121.7h0.9v0.9h-0.9zM302.9 151.6h0.9v0.9h-0.9zM305.2 148.8h0.9v0.9h-0.9zM310.5 145.3h0.9v0.9h-0.9zM302.9 137.5h0.9v0.9h-0.9zM306.9 118.3h0.9v0.9h-0.9zM303.5 123.3h0.9v0.9h-0.9zM302.3 142.9h0.9v0.9h-0.9zM313.3 128.8h0.9v0.9h-0.9zM307.3 149.4h0.9v0.9h-0.9zM309.0 131.3h0.9v0.9h-0.9zM309.5 120.3h0.9v0.9h-0.9zM307.2 144.8h0.9v0.9h-0.9zM302.4 142.6h0.9v0.9h-0.9zM314.8 130.9h0.9v0.9h-0.9zM309.1 127.4h0.9v0.9h-0.9zM301.9 120.3h0.9v0.9h-0.9zM308.0 132.4h0.9v0.9h-0.9zM302.5 133.2h0.9v0.9h-0.9zM302.8 149.9h0.9v0.9h-0.9zM307.3 146.6h0.9v0.9h-0.9zM309.9 129.0h0.9v0.9h-0.9zM309.7 134.3h0.9v0.9h-0.9zM308.5 132.9h0.9v0.9h-0.9zM302.2 141.1h0.9v0.9h-0.9zM308.9 141.5h0.9v0.9h-0.9zM303.6 149.9h0.9v0.9h-0.9zM297.9 130.1h0.9v0.9h-0.9zM307.7 122.1h0.9v0.9h-0.9zM308.1 141.7h0.9v0.9h-0.9zM314.2 139.9h0.9v0.9h-0.9zM298.7 121.7h0.9v0.9h-0.9zM301.4 126.6h0.9v0.9h-0.9zM301.9 129.3h0.9v0.9h-0.9zM311.4 137.5h0.9v0.9h-0.9zM307.1 139.5h0.9v0.9h-0.9zM307.8 150.3h0.9v0.9h-0.9zM305.8 151.2h0.9v0.9h-0.9zM308.2 125.2h0.9v0.9h-0.9zM298.5 132.7h0.9v0.9h-0.9zM309.9 133.3h0.9v0.9h-0.9zM308.8 119.4h0.9v0.9h-0.9zM301.8 122.1h0.9v0.9h-0.9zM313.1 140.5h0.9v0.9h-0.9zM294.2 124.2h0.9v0.9h-0.9zM301.6 126.7h0.9v0.9h-0.9zM302.9 125.4h0.9v0.9h-0.9zM301.1 127.3h0.9v0.9h-0.9zM307.0 150.3h0.9v0.9h-0.9zM313.0 139.2h0.9v0.9h-0.9zM302.6 147.2h0.9v0.9h-0.9zM304.5 150.4h0.9v0.9h-0.9zM306.0 138.7h0.9v0.9h-0.9zM303.5 145.6h0.9v0.9h-0.9zM313.1 123.2h0.9v0.9h-0.9zM314.7 125.4h0.9v0.9h-0.9zM315.8 118.9h0.9v0.9h-0.9zM307.6 141.7h0.9v0.9h-0.9zM314.2 125.6h0.9v0.9h-0.9zM305.5 150.1h0.9v0.9h-0.9zM302.2 121.1h0.9v0.9h-0.9zM295.2 124.5h0.9v0.9h-0.9zM308.2 129.0h0.9v0.9h-0.9zM295.9 120.1h0.9v0.9h-0.9zM313.4 128.5h0.9v0.9h-0.9zM302.6 139.6h0.9v0.9h-0.9zM298.7 131.2h0.9v0.9h-0.9zM309.3 147.9h0.9v0.9h-0.9zM297.2 125.3h0.9v0.9h-0.9zM305.4 138.1h0.9v0.9h-0.9zM298.2 137.3h0.9v0.9h-0.9zM304.9 149.9h0.9v0.9h-0.9zM302.8 143.5h0.9v0.9h-0.9zM311.5 145.2h0.9v0.9h-0.9zM306.3 150.3h0.9v0.9h-0.9zM304.9 147.8h0.9v0.9h-0.9zM313.9 130.4h0.9v0.9h-0.9zM300.4 129.6h0.9v0.9h-0.9zM297.1 129.8h0.9v0.9h-0.9zM308.4 135.6h0.9v0.9h-0.9zM303.4 150.7h0.9v0.9h-0.9zM301.6 120.5h0.9v0.9h-0.9zM301.2 130.1h0.9v0.9h-0.9zM293.5 126.3h0.9v0.9h-0.9zM316.0 119.0h0.9v0.9h-0.9zM309.4 150.4h0.9v0.9h-0.9zM295.6 133.6h0.9v0.9h-0.9zM299.8 132.0h0.9v0.9h-0.9zM302.5 125.2h0.9v0.9h-0.9zM299.4 142.0h0.9v0.9h-0.9zM310.2 132.0h0.9v0.9h-0.9zM303.2 131.2h0.9v0.9h-0.9zM313.1 143.1h0.9v0.9h-0.9zM301.7 130.3h0.9v0.9h-0.9zM311.1 126.3h0.9v0.9h-0.9zM299.3 141.9h0.9v0.9h-0.9zM306.9 137.8h0.9v0.9h-0.9zM308.2 119.3h0.9v0.9h-0.9zM317.6 125.2h0.9v0.9h-0.9zM303.0 148.0h0.9v0.9h-0.9zM291.6 123.7h0.9v0.9h-0.9zM308.5 140.8h0.9v0.9h-0.9zM304.1 151.1h0.9v0.9h-0.9zM310.3 147.6h0.9v0.9h-0.9zM298.2 127.5h0.9v0.9h-0.9zM297.8 123.7h0.9v0.9h-0.9zM310.6 135.3h0.9v0.9h-0.9zM300.4 125.3h0.9v0.9h-0.9zM304.2 139.3h0.9v0.9h-0.9zM302.1 126.5h0.9v0.9h-0.9zM298.6 127.0h0.9v0.9h-0.9zM310.9 127.5h0.9v0.9h-0.9zM307.2 130.7h0.9v0.9h-0.9zM296.4 130.3h0.9v0.9h-0.9zM302.6 140.2h0.9v0.9h-0.9zM293.4 122.3h0.9v0.9h-0.9zM312.5 124.0h0.9v0.9h-0.9zM315.8 130.0h0.9v0.9h-0.9zM310.9 140.0h0.9v0.9h-0.9zM296.3 125.8h0.9v0.9h-0.9zM301.8 148.4h0.9v0.9h-0.9zM306.9 149.8h0.9v0.9h-0.9zM309.8 126.2h0.9v0.9h-0.9zM312.1 129.5h0.9v0.9h-0.9zM292.9 122.4h0.9v0.9h-0.9zM305.8 143.4h0.9v0.9h-0.9zM303.5 144.4h0.9v0.9h-0.9zM310.2 124.6h0.9v0.9h-0.9zM309.3 139.0h0.9v0.9h-0.9zM303.8 139.3h0.9v0.9h-0.9zM297.6 119.7h0.9v0.9h-0.9zM303.7 130.5h0.9v0.9h-0.9zM307.9 151.7h0.9v0.9h-0.9zM303.2 142.5h0.9v0.9h-0.9zM308.1 145.9h0.9v0.9h-0.9zM306.0 151.1h0.9v0.9h-0.9zM304.1 138.7h0.9v0.9h-0.9zM317.3 134.8h0.9v0.9h-0.9zM300.5 119.7h0.9v0.9h-0.9zM303.4 128.8h0.9v0.9h-0.9zM302.6 127.5h0.9v0.9h-0.9zM304.0 133.7h0.9v0.9h-0.9zM295.0 123.7h0.9v0.9h-0.9zM306.9 151.3h0.9v0.9h-0.9zM303.1 145.7h0.9v0.9h-0.9zM304.7 147.6h0.9v0.9h-0.9zM306.0 138.7h0.9v0.9h-0.9zM308.3 136.5h0.9v0.9h-0.9zM311.1 119.9h0.9v0.9h-0.9zM302.0 122.2h0.9v0.9h-0.9zM303.0 150.0h0.9v0.9h-0.9zM307.6 138.3h0.9v0.9h-0.9zM312.2 127.5h0.9v0.9h-0.9zM312.0 123.8h0.9v0.9h-0.9zM310.3 146.3h0.9v0.9h-0.9zM300.8 128.4h0.9v0.9h-0.9zM304.2 134.1h0.9v0.9h-0.9zM307.7 151.9h0.9v0.9h-0.9zM306.3 127.7h0.9v0.9h-0.9zM302.1 131.4h0.9v0.9h-0.9zM303.5 131.3h0.9v0.9h-0.9zM313.6 119.5h0.9v0.9h-0.9zM311.2 137.4h0.9v0.9h-0.9zM295.3 122.9h0.9v0.9h-0.9zM305.6 142.3h0.9v0.9h-0.9zM300.9 142.8h0.9v0.9h-0.9zM301.0 146.1h0.9v0.9h-0.9zM310.0 121.3h0.9v0.9h-0.9zM309.5 121.5h0.9v0.9h-0.9zM298.3 139.0h0.9v0.9h-0.9zM306.4 147.6h0.9v0.9h-0.9zM309.9 127.6h0.9v0.9h-0.9zM296.3 137.0h0.9v0.9h-0.9zM300.8 142.1h0.9v0.9h-0.9zM302.1 132.9h0.9v0.9h-0.9zM311.5 119.2h0.9v0.9h-0.9zM307.9 121.4h0.9v0.9h-0.9zM302.9 122.1h0.9v0.9h-0.9zM303.4 134.9h0.9v0.9h-0.9zM305.4 152.7h0.9v0.9h-0.9zM308.5 138.7h0.9v0.9h-0.9zM318.1 122.9h0.9v0.9h-0.9zM303.8 145.6h0.9v0.9h-0.9zM306.2 148.1h0.9v0.9h-0.9zM308.9 132.5h0.9v0.9h-0.9zM314.9 133.6h0.9v0.9h-0.9zM309.1 142.5h0.9v0.9h-0.9zM305.7 147.0h0.9v0.9h-0.9zM296.7 130.0h0.9v0.9h-0.9zM298.1 132.3h0.9v0.9h-0.9zM302.5 128.7h0.9v0.9h-0.9zM305.4 139.8h0.9v0.9h-0.9zM304.0 135.1h0.9v0.9h-0.9zM310.2 139.0h0.9v0.9h-0.9zM310.7 140.0h0.9v0.9h-0.9zM303.8 136.5h0.9v0.9h-0.9zM308.7 150.4h0.9v0.9h-0.9zM309.8 130.3h0.9v0.9h-0.9zM308.5 130.0h0.9v0.9h-0.9zM303.0 121.6h0.9v0.9h-0.9zM305.2 146.0h0.9v0.9h-0.9zM304.3 144.1h0.9v0.9h-0.9zM309.1 141.1h0.9v0.9h-0.9zM311.4 130.8h0.9v0.9h-0.9zM299.3 129.0h0.9v0.9h-0.9zM293.2 121.6h0.9v0.9h-0.9zM304.4 146.1h0.9v0.9h-0.9zM311.5 119.2h0.9v0.9h-0.9zM293.3 120.3h0.9v0.9h-0.9zM300.2 150.1h0.9v0.9h-0.9zM295.8 132.7h0.9v0.9h-0.9zM295.6 125.7h0.9v0.9h-0.9zM307.9 140.5h0.9v0.9h-0.9zM307.3 143.4h0.9v0.9h-0.9zM300.5 133.8h0.9v0.9h-0.9zM309.9 136.4h0.9v0.9h-0.9zM313.3 130.9h0.9v0.9h-0.9zM305.8 143.1h0.9v0.9h-0.9zM305.7 142.1h0.9v0.9h-0.9zM301.3 148.0h0.9v0.9h-0.9zM302.5 124.4h0.9v0.9h-0.9zM299.5 124.4h0.9v0.9h-0.9zM306.2 128.2h0.9v0.9h-0.9zM306.7 151.0h0.9v0.9h-0.9zM303.7 131.5h0.9v0.9h-0.9zM306.9 151.8h0.9v0.9h-0.9zM301.6 140.4h0.9v0.9h-0.9zM300.7 143.2h0.9v0.9h-0.9zM307.5 120.0h0.9v0.9h-0.9zM299.3 126.0h0.9v0.9h-0.9zM303.1 127.0h0.9v0.9h-0.9zM304.0 132.6h0.9v0.9h-0.9zM302.7 145.0h0.9v0.9h-0.9zM303.8 127.8h0.9v0.9h-0.9zM303.1 132.8h0.9v0.9h-0.9zM305.4 139.2h0.9v0.9h-0.9zM303.0 128.0h0.9v0.9h-0.9zM297.7 127.6h0.9v0.9h-0.9zM301.7 125.4h0.9v0.9h-0.9zM312.8 134.6h0.9v0.9h-0.9zM300.6 138.1h0.9v0.9h-0.9zM311.1 137.6h0.9v0.9h-0.9zM304.9 139.1h0.9v0.9h-0.9zM310.0 129.8h0.9v0.9h-0.9zM305.6 138.0h0.9v0.9h-0.9zM298.6 122.0h0.9v0.9h-0.9zM312.6 140.5h0.9v0.9h-0.9zM294.4 119.0h0.9v0.9h-0.9zM310.1 139.7h0.9v0.9h-0.9zM314.6 132.2h0.9v0.9h-0.9zM307.9 128.0h0.9v0.9h-0.9zM310.8 121.9h0.9v0.9h-0.9zM308.2 145.2h0.9v0.9h-0.9zM298.4 129.3h0.9v0.9h-0.9zM309.0 139.8h0.9v0.9h-0.9zM310.5 138.4h0.9v0.9h-0.9zM297.5 140.8h0.9v0.9h-0.9zM310.4 132.7h0.9v0.9h-0.9zM304.9 141.8h0.9v0.9h-0.9zM303.2 127.4h0.9v0.9h-0.9zM303.9 138.7h0.9v0.9h-0.9zM301.3 142.3h0.9v0.9h-0.9zM301.9 125.4h0.9v0.9h-0.9zM299.8 128.0h0.9v0.9h-0.9zM299.4 142.9h0.9v0.9h-0.9zM309.2 120.0h0.9v0.9h-0.9zM301.5 139.8h0.9v0.9h-0.9zM308.8 139.8h0.9v0.9h-0.9zM311.8 119.0h0.9v0.9h-0.9zM298.4 128.6h0.9v0.9h-0.9zM292.6 121.7h0.9v0.9h-0.9zM299.0 132.4h0.9v0.9h-0.9zM309.6 144.1h0.9v0.9h-0.9zM309.0 124.4h0.9v0.9h-0.9zM307.9 130.3h0.9v0.9h-0.9zM311.6 132.6h0.9v0.9h-0.9zM299.1 127.3h0.9v0.9h-0.9zM309.0 133.2h0.9v0.9h-0.9zM307.2 124.6h0.9v0.9h-0.9zM310.8 146.6h0.9v0.9h-0.9zM304.2 138.0h0.9v0.9h-0.9zM306.0 141.7h0.9v0.9h-0.9zM304.4 144.8h0.9v0.9h-0.9zM305.3 140.2h0.9v0.9h-0.9zM296.6 138.2h0.9v0.9h-0.9zM304.0 132.6h0.9v0.9h-0.9zM302.5 137.6h0.9v0.9h-0.9zM315.2 123.0h0.9v0.9h-0.9zM297.5 138.8h0.9v0.9h-0.9zM299.6 123.3h0.9v0.9h-0.9zM307.5 147.2h0.9v0.9h-0.9zM303.1 118.3h0.9v0.9h-0.9zM311.9 138.8h0.9v0.9h-0.9zM307.8 126.5h0.9v0.9h-0.9zM310.4 126.6h0.9v0.9h-0.9zM300.6 148.0h0.9v0.9h-0.9zM309.0 144.4h0.9v0.9h-0.9zM298.8 122.6h0.9v0.9h-0.9zM310.4 138.5h0.9v0.9h-0.9zM308.8 150.8h0.9v0.9h-0.9zM306.9 128.8h0.9v0.9h-0.9zM307.1 138.1h0.9v0.9h-0.9zM301.6 122.8h0.9v0.9h-0.9zM305.7 145.2h0.9v0.9h-0.9zM297.5 136.9h0.9v0.9h-0.9zM304.1 137.6h0.9v0.9h-0.9zM301.0 135.0h0.9v0.9h-0.9zM302.6 135.3h0.9v0.9h-0.9zM303.8 152.4h0.9v0.9h-0.9zM308.2 132.4h0.9v0.9h-0.9zM304.4 137.0h0.9v0.9h-0.9zM318.4 131.0h0.9v0.9h-0.9zM305.1 152.0h0.9v0.9h-0.9zM307.6 152.2h0.9v0.9h-0.9zM312.2 137.1h0.9v0.9h-0.9zM304.1 149.2h0.9v0.9h-0.9zM304.3 145.9h0.9v0.9h-0.9zM301.6 144.9h0.9v0.9h-0.9zM300.0 127.2h0.9v0.9h-0.9zM315.2 124.8h0.9v0.9h-0.9zM302.9 143.5h0.9v0.9h-0.9zM313.0 129.1h0.9v0.9h-0.9zM312.5 133.4h0.9v0.9h-0.9zM301.9 148.4h0.9v0.9h-0.9zM310.5 141.0h0.9v0.9h-0.9zM307.7 137.6h0.9v0.9h-0.9zM315.3 126.2h0.9v0.9h-0.9zM309.0 148.7h0.9v0.9h-0.9zM305.1 148.5h0.9v0.9h-0.9zM312.9 120.5h0.9v0.9h-0.9zM304.1 151.0h0.9v0.9h-0.9zM302.1 144.0h0.9v0.9h-0.9zM303.1 135.5h0.9v0.9h-0.9zM301.9 140.9h0.9v0.9h-0.9zM305.3 149.8h0.9v0.9h-0.9zM298.9 141.1h0.9v0.9h-0.9zM296.0 136.3h0.9v0.9h-0.9zM314.1 139.1h0.9v0.9h-0.9zM305.0 141.6h0.9v0.9h-0.9zM299.6 124.9h0.9v0.9h-0.9zM308.4 125.4h0.9v0.9h-0.9zM300.8 129.8h0.9v0.9h-0.9zM307.9 118.5h0.9v0.9h-0.9zM303.9 122.7h0.9v0.9h-0.9zM301.5 126.3h0.9v0.9h-0.9zM306.7 142.7h0.9v0.9h-0.9zM308.3 143.1h0.9v0.9h-0.9zM305.3 149.3h0.9v0.9h-0.9zM300.6 127.6h0.9v0.9h-0.9zM304.0 146.0h0.9v0.9h-0.9zM294.9 118.2h0.9v0.9h-0.9zM303.5 134.0h0.9v0.9h-0.9zM299.1 148.1h0.9v0.9h-0.9zM306.5 149.9h0.9v0.9h-0.9zM310.0 141.9h0.9v0.9h-0.9zM309.3 141.8h0.9v0.9h-0.9zM297.0 121.8h0.9v0.9h-0.9zM300.9 133.5h0.9v0.9h-0.9zM313.2 138.9h0.9v0.9h-0.9zM306.6 151.8h0.9v0.9h-0.9zM314.5 136.6h0.9v0.9h-0.9zM314.5 133.1h0.9v0.9h-0.9zM296.1 130.0h0.9v0.9h-0.9zM305.4 152.9h0.9v0.9h-0.9zM302.7 121.6h0.9v0.9h-0.9zM306.6 136.2h0.9v0.9h-0.9zM298.4 136.3h0.9v0.9h-0.9zM308.4 122.6h0.9v0.9h-0.9zM300.2 144.5h0.9v0.9h-0.9zM312.5 131.3h0.9v0.9h-0.9zM305.6 140.7h0.9v0.9h-0.9zM303.5 149.2h0.9v0.9h-0.9zM303.9 150.1h0.9v0.9h-0.9zM298.6 129.0h0.9v0.9h-0.9zM300.3 122.5h0.9v0.9h-0.9zM311.2 147.5h0.9v0.9h-0.9zM308.9 133.7h0.9v0.9h-0.9zM313.7 140.8h0.9v0.9h-0.9zM313.7 132.3h0.9v0.9h-0.9zM307.2 145.5h0.9v0.9h-0.9zM305.0 151.9h0.9v0.9h-0.9zM301.1 147.5h0.9v0.9h-0.9zM305.9 147.1h0.9v0.9h-0.9zM303.9 135.8h0.9v0.9h-0.9zM313.2 132.3h0.9v0.9h-0.9zM311.3 122.7h0.9v0.9h-0.9zM306.6 149.8h0.9v0.9h-0.9zM306.3 151.2h0.9v0.9h-0.9zM298.4 131.8h0.9v0.9h-0.9zM300.5 122.7h0.9v0.9h-0.9zM308.9 142.6h0.9v0.9h-0.9zM296.5 120.7h0.9v0.9h-0.9zM305.3 151.2h0.9v0.9h-0.9zM307.9 120.0h0.9v0.9h-0.9zM301.6 147.2h0.9v0.9h-0.9zM306.9 144.8h0.9v0.9h-0.9zM298.6 145.0h0.9v0.9h-0.9zM301.2 143.7h0.9v0.9h-0.9zM311.0 120.0h0.9v0.9h-0.9zM308.7 125.5h0.9v0.9h-0.9zM305.3 151.4h0.9v0.9h-0.9zM307.1 119.3h0.9v0.9h-0.9zM303.4 130.9h0.9v0.9h-0.9zM313.5 136.1h0.9v0.9h-0.9zM309.5 147.3h0.9v0.9h-0.9zM313.1 127.6h0.9v0.9h-0.9zM308.2 127.5h0.9v0.9h-0.9zM299.7 133.0h0.9v0.9h-0.9zM311.3 127.2h0.9v0.9h-0.9zM294.0 125.0h0.9v0.9h-0.9zM307.4 148.7h0.9v0.9h-0.9zM305.2 145.7h0.9v0.9h-0.9zM300.3 147.4h0.9v0.9h-0.9zM301.7 131.2h0.9v0.9h-0.9zM299.8 145.4h0.9v0.9h-0.9zM299.9 128.2h0.9v0.9h-0.9zM307.1 120.3h0.9v0.9h-0.9zM301.2 123.7h0.9v0.9h-0.9zM305.1 149.5h0.9v0.9h-0.9zM298.5 129.2h0.9v0.9h-0.9zM308.0 137.0h0.9v0.9h-0.9zM313.6 129.3h0.9v0.9h-0.9zM305.4 143.2h0.9v0.9h-0.9zM307.7 133.6h0.9v0.9h-0.9zM299.9 142.4h0.9v0.9h-0.9zM295.5 134.7h0.9v0.9h-0.9zM314.4 135.2h0.9v0.9h-0.9zM304.4 151.8h0.9v0.9h-0.9zM306.8 124.0h0.9v0.9h-0.9zM293.7 136.5h0.9v0.9h-0.9zM293.7 137.2h0.9v0.9h-0.9zM305.7 137.6h0.9v0.9h-0.9zM294.4 133.5h0.9v0.9h-0.9zM307.6 150.4h0.9v0.9h-0.9zM310.3 130.9h0.9v0.9h-0.9zM304.8 138.4h0.9v0.9h-0.9zM298.7 129.5h0.9v0.9h-0.9zM299.9 118.3h0.9v0.9h-0.9zM300.6 132.9h0.9v0.9h-0.9zM307.6 140.5h0.9v0.9h-0.9zM305.9 133.8h0.9v0.9h-0.9zM301.7 133.4h0.9v0.9h-0.9zM310.6 126.5h0.9v0.9h-0.9zM308.5 129.5h0.9v0.9h-0.9zM296.1 136.8h0.9v0.9h-0.9zM310.0 144.7h0.9v0.9h-0.9zM298.4 135.3h0.9v0.9h-0.9zM313.5 136.7h0.9v0.9h-0.9zM305.9 139.1h0.9v0.9h-0.9zM309.2 138.4h0.9v0.9h-0.9zM309.6 121.6h0.9v0.9h-0.9zM317.7 121.6h0.9v0.9h-0.9zM304.8 141.0h0.9v0.9h-0.9zM310.4 131.1h0.9v0.9h-0.9zM293.8 133.5h0.9v0.9h-0.9zM307.1 137.6h0.9v0.9h-0.9zM305.0 142.0h0.9v0.9h-0.9zM313.3 118.5h0.9v0.9h-0.9zM297.8 143.2h0.9v0.9h-0.9zM297.1 140.4h0.9v0.9h-0.9zM304.6 146.2h0.9v0.9h-0.9zM309.4 132.1h0.9v0.9h-0.9zM301.0 132.6h0.9v0.9h-0.9zM315.2 133.7h0.9v0.9h-0.9zM297.1 131.0h0.9v0.9h-0.9zM300.9 120.0h0.9v0.9h-0.9zM299.8 134.7h0.9v0.9h-0.9zM316.6 121.0h0.9v0.9h-0.9zM301.3 118.6h0.9v0.9h-0.9zM296.0 128.7h0.9v0.9h-0.9zM300.0 134.7h0.9v0.9h-0.9zM312.9 145.8h0.9v0.9h-0.9zM300.4 131.5h0.9v0.9h-0.9zM311.3 127.0h0.9v0.9h-0.9zM297.4 138.9h0.9v0.9h-0.9zM303.8 136.7h0.9v0.9h-0.9zM301.3 124.9h0.9v0.9h-0.9zM302.4 122.6h0.9v0.9h-0.9zM308.0 134.4h0.9v0.9h-0.9zM296.1 122.6h0.9v0.9h-0.9zM302.5 135.2h0.9v0.9h-0.9zM299.7 122.0h0.9v0.9h-0.9zM306.7 121.4h0.9v0.9h-0.9zM297.0 125.6h0.9v0.9h-0.9zM307.3 131.8h0.9v0.9h-0.9zM307.0 146.2h0.9v0.9h-0.9zM309.6 144.0h0.9v0.9h-0.9zM300.4 121.1h0.9v0.9h-0.9zM315.7 120.7h0.9v0.9h-0.9zM314.5 135.8h0.9v0.9h-0.9zM300.1 123.6h0.9v0.9h-0.9zM300.4 120.0h0.9v0.9h-0.9zM311.4 142.4h0.9v0.9h-0.9zM295.8 131.2h0.9v0.9h-0.9zM303.6 128.0h0.9v0.9h-0.9zM297.9 126.4h0.9v0.9h-0.9zM303.9 137.1h0.9v0.9h-0.9zM299.7 129.1h0.9v0.9h-0.9zM300.6 118.9h0.9v0.9h-0.9zM303.1 132.7h0.9v0.9h-0.9zM309.6 129.8h0.9v0.9h-0.9zM302.8 145.7h0.9v0.9h-0.9zM299.7 122.5h0.9v0.9h-0.9zM303.9 132.1h0.9v0.9h-0.9zM316.1 126.0h0.9v0.9h-0.9zM306.8 126.6h0.9v0.9h-0.9zM316.3 131.9h0.9v0.9h-0.9zM304.5 139.8h0.9v0.9h-0.9zM311.8 124.4h0.9v0.9h-0.9zM299.9 123.3h0.9v0.9h-0.9zM311.2 125.0h0.9v0.9h-0.9zM308.1 120.9h0.9v0.9h-0.9zM298.4 120.1h0.9v0.9h-0.9zM300.2 128.5h0.9v0.9h-0.9zM311.5 136.0h0.9v0.9h-0.9zM310.8 130.3h0.9v0.9h-0.9zM302.7 142.1h0.9v0.9h-0.9zM297.8 139.0h0.9v0.9h-0.9zM309.6 120.1h0.9v0.9h-0.9zM297.1 118.9h0.9v0.9h-0.9zM310.0 136.8h0.9v0.9h-0.9zM300.9 129.9h0.9v0.9h-0.9zM307.8 136.7h0.9v0.9h-0.9zM307.6 147.5h0.9v0.9h-0.9zM302.2 151.5h0.9v0.9h-0.9zM300.0 137.3h0.9v0.9h-0.9zM293.6 123.9h0.9v0.9h-0.9zM302.1 134.2h0.9v0.9h-0.9zM304.4 134.6h0.9v0.9h-0.9zM302.0 138.3h0.9v0.9h-0.9zM305.8 148.3h0.9v0.9h-0.9zM306.4 139.0h0.9v0.9h-0.9zM315.1 130.0h0.9v0.9h-0.9zM309.2 129.8h0.9v0.9h-0.9zM307.9 149.8h0.9v0.9h-0.9zM304.7 144.4h0.9v0.9h-0.9zM304.1 131.0h0.9v0.9h-0.9zM309.2 145.6h0.9v0.9h-0.9zM300.2 126.5h0.9v0.9h-0.9zM301.6 128.1h0.9v0.9h-0.9zM311.0 129.0h0.9v0.9h-0.9zM297.2 138.0h0.9v0.9h-0.9zM300.6 132.6h0.9v0.9h-0.9zM305.0 151.7h0.9v0.9h-0.9zM302.7 124.2h0.9v0.9h-0.9zM306.1 128.9h0.9v0.9h-0.9zM298.5 136.2h0.9v0.9h-0.9zM297.1 121.0h0.9v0.9h-0.9zM318.0 130.9h0.9v0.9h-0.9zM307.8 127.5h0.9v0.9h-0.9zM305.5 150.0h0.9v0.9h-0.9zM294.1 125.1h0.9v0.9h-0.9zM300.1 122.8h0.9v0.9h-0.9zM301.1 134.4h0.9v0.9h-0.9zM301.3 125.6h0.9v0.9h-0.9zM306.2 135.8h0.9v0.9h-0.9zM305.2 150.6h0.9v0.9h-0.9zM306.4 146.6h0.9v0.9h-0.9zM312.7 131.3h0.9v0.9h-0.9zM311.5 142.4h0.9v0.9h-0.9zM302.6 142.0h0.9v0.9h-0.9zM307.9 142.7h0.9v0.9h-0.9zM308.2 126.5h0.9v0.9h-0.9zM304.0 145.7h0.9v0.9h-0.9zM306.4 151.4h0.9v0.9h-0.9zM310.1 129.1h0.9v0.9h-0.9zM301.2 140.1h0.9v0.9h-0.9zM302.6 123.0h0.9v0.9h-0.9zM308.2 135.1h0.9v0.9h-0.9zM305.9 137.9h0.9v0.9h-0.9zM314.9 134.0h0.9v0.9h-0.9zM313.5 135.2h0.9v0.9h-0.9zM298.0 144.9h0.9v0.9h-0.9zM304.2 144.6h0.9v0.9h-0.9zM299.8 132.3h0.9v0.9h-0.9zM309.3 123.6h0.9v0.9h-0.9zM302.9 130.1h0.9v0.9h-0.9zM300.8 142.2h0.9v0.9h-0.9zM307.0 144.2h0.9v0.9h-0.9zM301.0 138.7h0.9v0.9h-0.9zM306.0 146.2h0.9v0.9h-0.9zM311.8 125.4h0.9v0.9h-0.9zM308.0 132.4h0.9v0.9h-0.9zM298.7 140.2h0.9v0.9h-0.9zM307.6 141.4h0.9v0.9h-0.9zM307.0 142.9h0.9v0.9h-0.9zM313.8 119.1h0.9v0.9h-0.9zM305.6 151.5h0.9v0.9h-0.9zM296.7 138.5h0.9v0.9h-0.9zM309.4 143.0h0.9v0.9h-0.9zM305.6 152.5h0.9v0.9h-0.9zM300.0 126.5h0.9v0.9h-0.9zM303.9 133.0h0.9v0.9h-0.9zM301.0 143.3h0.9v0.9h-0.9zM312.4 136.3h0.9v0.9h-0.9zM303.9 134.2h0.9v0.9h-0.9zM308.0 123.1h0.9v0.9h-0.9zM303.7 133.1h0.9v0.9h-0.9zM302.0 125.3h0.9v0.9h-0.9zM306.9 148.4h0.9v0.9h-0.9zM306.6 143.2h0.9v0.9h-0.9zM303.0 143.2h0.9v0.9h-0.9zM299.5 137.3h0.9v0.9h-0.9zM296.9 138.7h0.9v0.9h-0.9zM298.6 123.2h0.9v0.9h-0.9zM307.3 143.2h0.9v0.9h-0.9zM312.7 122.2h0.9v0.9h-0.9zM307.0 131.9h0.9v0.9h-0.9zM305.0 140.6h0.9v0.9h-0.9zM308.8 127.1h0.9v0.9h-0.9zM298.9 124.0h0.9v0.9h-0.9zM306.6 151.0h0.9v0.9h-0.9zM303.2 148.0h0.9v0.9h-0.9zM306.0 150.4h0.9v0.9h-0.9zM306.7 123.4h0.9v0.9h-0.9zM310.1 138.8h0.9v0.9h-0.9zM301.2 131.9h0.9v0.9h-0.9zM303.6 146.7h0.9v0.9h-0.9zM298.3 125.6h0.9v0.9h-0.9zM313.6 129.2h0.9v0.9h-0.9zM302.1 150.1h0.9v0.9h-0.9zM301.6 133.4h0.9v0.9h-0.9zM298.7 127.5h0.9v0.9h-0.9zM310.1 125.8h0.9v0.9h-0.9zM295.8 118.5h0.9v0.9h-0.9zM304.6 138.1h0.9v0.9h-0.9zM298.9 130.8h0.9v0.9h-0.9zM291.8 131.3h0.9v0.9h-0.9zM310.0 148.1h0.9v0.9h-0.9zM303.4 140.7h0.9v0.9h-0.9zM299.0 120.4h0.9v0.9h-0.9zM306.0 151.4h0.9v0.9h-0.9zM296.1 128.7h0.9v0.9h-0.9zM307.1 144.1h0.9v0.9h-0.9zM296.4 127.2h0.9v0.9h-0.9zM310.4 135.9h0.9v0.9h-0.9zM309.6 141.4h0.9v0.9h-0.9zM308.9 139.6h0.9v0.9h-0.9zM306.5 127.4h0.9v0.9h-0.9zM302.8 143.0h0.9v0.9h-0.9zM302.5 137.3h0.9v0.9h-0.9zM303.8 124.1h0.9v0.9h-0.9zM314.3 128.6h0.9v0.9h-0.9zM304.3 146.9h0.9v0.9h-0.9zM311.1 142.7h0.9v0.9h-0.9zM309.9 131.7h0.9v0.9h-0.9zM312.0 142.0h0.9v0.9h-0.9zM309.6 119.0h0.9v0.9h-0.9zM299.0 141.0h0.9v0.9h-0.9zM309.6 150.2h0.9v0.9h-0.9zM305.8 140.0h0.9v0.9h-0.9zM310.2 118.2h0.9v0.9h-0.9zM307.3 136.5h0.9v0.9h-0.9zM300.7 125.7h0.9v0.9h-0.9zM313.0 118.0h0.9v0.9h-0.9zM304.3 131.6h0.9v0.9h-0.9zM314.9 127.5h0.9v0.9h-0.9zM304.1 142.9h0.9v0.9h-0.9zM298.2 136.2h0.9v0.9h-0.9zM300.0 144.8h0.9v0.9h-0.9zM308.8 131.3h0.9v0.9h-0.9zM316.5 124.1h0.9v0.9h-0.9zM307.4 140.8h0.9v0.9h-0.9zM311.3 129.3h0.9v0.9h-0.9zM307.2 139.3h0.9v0.9h-0.9zM304.8 139.8h0.9v0.9h-0.9zM302.4 142.3h0.9v0.9h-0.9zM300.2 131.9h0.9v0.9h-0.9zM307.3 130.1h0.9v0.9h-0.9zM311.9 143.1h0.9v0.9h-0.9zM316.0 124.0h0.9v0.9h-0.9zM309.4 134.3h0.9v0.9h-0.9zM301.0 127.2h0.9v0.9h-0.9zM313.7 126.1h0.9v0.9h-0.9zM315.2 124.2h0.9v0.9h-0.9zM306.9 152.5h0.9v0.9h-0.9zM310.8 122.4h0.9v0.9h-0.9zM302.3 123.8h0.9v0.9h-0.9zM308.6 127.9h0.9v0.9h-0.9zM296.9 138.2h0.9v0.9h-0.9zM314.9 135.1h0.9v0.9h-0.9zM303.0 143.1h0.9v0.9h-0.9zM304.0 128.6h0.9v0.9h-0.9zM311.5 134.4h0.9v0.9h-0.9zM301.8 134.0h0.9v0.9h-0.9zM308.2 125.8h0.9v0.9h-0.9zM312.2 129.6h0.9v0.9h-0.9zM306.2 127.9h0.9v0.9h-0.9zM303.2 124.6h0.9v0.9h-0.9zM296.0 128.7h0.9v0.9h-0.9zM296.7 124.6h0.9v0.9h-0.9zM297.5 145.3h0.9v0.9h-0.9zM303.7 145.1h0.9v0.9h-0.9zM308.5 133.1h0.9v0.9h-0.9zM304.6 137.6h0.9v0.9h-0.9zM309.3 146.9h0.9v0.9h-0.9zM298.7 126.6h0.9v0.9h-0.9zM304.3 133.4h0.9v0.9h-0.9zM298.5 143.1h0.9v0.9h-0.9zM311.1 120.8h0.9v0.9h-0.9zM305.9 152.3h0.9v0.9h-0.9zM305.6 151.2h0.9v0.9h-0.9zM297.8 123.4h0.9v0.9h-0.9zM311.3 146.3h0.9v0.9h-0.9zM300.7 136.1h0.9v0.9h-0.9zM295.4 129.5h0.9v0.9h-0.9zM303.2 130.9h0.9v0.9h-0.9zM301.0 134.3h0.9v0.9h-0.9zM309.7 134.3h0.9v0.9h-0.9zM297.3 121.6h0.9v0.9h-0.9zM306.1 149.3h0.9v0.9h-0.9zM304.2 149.8h0.9v0.9h-0.9zM297.1 124.5h0.9v0.9h-0.9zM300.2 134.5h0.9v0.9h-0.9zM305.1 146.9h0.9v0.9h-0.9zM310.3 131.6h0.9v0.9h-0.9zM297.5 133.3h0.9v0.9h-0.9zM301.8 148.2h0.9v0.9h-0.9zM305.9 136.9h0.9v0.9h-0.9zM306.8 120.8h0.9v0.9h-0.9zM294.5 131.0h0.9v0.9h-0.9zM317.7 129.6h0.9v0.9h-0.9zM306.7 150.6h0.9v0.9h-0.9zM303.6 122.8h0.9v0.9h-0.9zM308.0 127.1h0.9v0.9h-0.9zM305.6 135.3h0.9v0.9h-0.9zM308.7 131.9h0.9v0.9h-0.9zM300.9 133.5h0.9v0.9h-0.9zM308.4 143.7h0.9v0.9h-0.9zM298.6 144.7h0.9v0.9h-0.9zM304.5 148.7h0.9v0.9h-0.9zM302.8 124.7h0.9v0.9h-0.9zM311.9 119.9h0.9v0.9h-0.9zM296.1 133.2h0.9v0.9h-0.9zM291.5 127.0h0.9v0.9h-0.9zM296.7 126.1h0.9v0.9h-0.9zM302.2 119.4h0.9v0.9h-0.9zM302.8 134.0h0.9v0.9h-0.9zM306.1 130.9h0.9v0.9h-0.9zM302.1 124.8h0.9v0.9h-0.9zM300.6 134.6h0.9v0.9h-0.9zM308.1 121.7h0.9v0.9h-0.9zM308.7 133.2h0.9v0.9h-0.9zM307.4 139.3h0.9v0.9h-0.9zM305.7 145.7h0.9v0.9h-0.9zM308.4 137.3h0.9v0.9h-0.9zM306.2 140.6h0.9v0.9h-0.9zM293.8 131.1h0.9v0.9h-0.9zM292.0 128.5h0.9v0.9h-0.9zM307.4 133.2h0.9v0.9h-0.9zM304.5 147.8h0.9v0.9h-0.9zM300.4 119.9h0.9v0.9h-0.9zM310.9 132.9h0.9v0.9h-0.9zM303.7 144.7h0.9v0.9h-0.9zM296.5 138.3h0.9v0.9h-0.9zM301.5 149.4h0.9v0.9h-0.9zM296.2 141.7h0.9v0.9h-0.9zM303.6 121.3h0.9v0.9h-0.9zM317.5 127.0h0.9v0.9h-0.9zM302.3 129.6h0.9v0.9h-0.9zM309.3 122.1h0.9v0.9h-0.9zM302.1 121.9h0.9v0.9h-0.9zM303.3 140.4h0.9v0.9h-0.9zM308.0 118.8h0.9v0.9h-0.9zM311.8 124.4h0.9v0.9h-0.9zM308.4 142.3h0.9v0.9h-0.9zM309.0 134.7h0.9v0.9h-0.9zM296.6 143.0h0.9v0.9h-0.9zM309.4 132.9h0.9v0.9h-0.9zM300.4 130.4h0.9v0.9h-0.9zM306.9 131.6h0.9v0.9h-0.9zM307.6 129.8h0.9v0.9h-0.9zM299.1 127.5h0.9v0.9h-0.9zM298.1 137.2h0.9v0.9h-0.9zM300.3 144.1h0.9v0.9h-0.9zM298.1 144.3h0.9v0.9h-0.9zM309.1 130.7h0.9v0.9h-0.9zM293.9 121.3h0.9v0.9h-0.9zM296.4 130.5h0.9v0.9h-0.9zM301.9 138.8h0.9v0.9h-0.9zM305.6 152.7h0.9v0.9h-0.9zM306.3 126.6h0.9v0.9h-0.9zM308.8 137.8h0.9v0.9h-0.9zM301.9 134.6h0.9v0.9h-0.9zM304.5 135.1h0.9v0.9h-0.9zM307.3 124.1h0.9v0.9h-0.9zM311.0 142.3h0.9v0.9h-0.9zM302.1 148.2h0.9v0.9h-0.9zM307.0 123.1h0.9v0.9h-0.9zM299.3 133.8h0.9v0.9h-0.9zM314.3 135.2h0.9v0.9h-0.9zM314.1 139.5h0.9v0.9h-0.9zM316.5 125.2h0.9v0.9h-0.9zM307.4 139.9h0.9v0.9h-0.9zM308.8 127.7h0.9v0.9h-0.9zM305.4 143.0h0.9v0.9h-0.9zM308.5 146.7h0.9v0.9h-0.9zM308.3 139.8h0.9v0.9h-0.9zM303.4 127.0h0.9v0.9h-0.9zM295.3 140.4h0.9v0.9h-0.9zM308.8 123.8h0.9v0.9h-0.9zM298.8 123.7h0.9v0.9h-0.9zM306.5 144.6h0.9v0.9h-0.9zM309.7 139.7h0.9v0.9h-0.9zM309.3 138.8h0.9v0.9h-0.9zM299.6 135.1h0.9v0.9h-0.9zM314.2 127.7h0.9v0.9h-0.9zM303.8 123.0h0.9v0.9h-0.9zM302.3 123.1h0.9v0.9h-0.9zM299.5 147.6h0.9v0.9h-0.9zM294.3 125.4h0.9v0.9h-0.9zM301.9 141.5h0.9v0.9h-0.9zM296.8 127.5h0.9v0.9h-0.9zM300.5 141.1h0.9v0.9h-0.9zM303.2 138.0h0.9v0.9h-0.9zM303.5 139.3h0.9v0.9h-0.9zM303.2 137.6h0.9v0.9h-0.9zM300.3 118.9h0.9v0.9h-0.9zM305.6 151.1h0.9v0.9h-0.9zM307.5 123.7h0.9v0.9h-0.9zM303.8 150.1h0.9v0.9h-0.9zM304.8 142.5h0.9v0.9h-0.9zM307.6 151.3h0.9v0.9h-0.9zM300.3 130.0h0.9v0.9h-0.9zM310.0 131.2h0.9v0.9h-0.9zM305.4 145.6h0.9v0.9h-0.9zM310.1 147.6h0.9v0.9h-0.9zM304.4 140.8h0.9v0.9h-0.9zM312.5 129.8h0.9v0.9h-0.9zM297.2 128.0h0.9v0.9h-0.9zM306.7 149.9h0.9v0.9h-0.9zM295.2 132.8h0.9v0.9h-0.9zM307.1 144.7h0.9v0.9h-0.9zM298.2 126.9h0.9v0.9h-0.9zM307.0 141.3h0.9v0.9h-0.9zM302.8 144.0h0.9v0.9h-0.9zM303.9 151.9h0.9v0.9h-0.9zM299.1 123.9h0.9v0.9h-0.9zM308.9 123.0h0.9v0.9h-0.9zM314.1 130.8h0.9v0.9h-0.9zM301.6 144.9h0.9v0.9h-0.9zM302.2 125.3h0.9v0.9h-0.9zM301.1 118.5h0.9v0.9h-0.9zM303.2 122.5h0.9v0.9h-0.9zM306.9 148.1h0.9v0.9h-0.9zM305.8 138.1h0.9v0.9h-0.9zM302.3 119.8h0.9v0.9h-0.9zM315.5 122.7h0.9v0.9h-0.9zM293.8 121.1h0.9v0.9h-0.9zM304.4 140.6h0.9v0.9h-0.9zM302.3 140.7h0.9v0.9h-0.9zM300.4 132.3h0.9v0.9h-0.9zM304.2 130.2h0.9v0.9h-0.9zM306.3 148.4h0.9v0.9h-0.9zM304.1 135.7h0.9v0.9h-0.9zM300.0 144.3h0.9v0.9h-0.9zM310.0 141.5h0.9v0.9h-0.9zM318.3 127.7h0.9v0.9h-0.9zM301.8 149.3h0.9v0.9h-0.9zM305.2 149.7h0.9v0.9h-0.9zM308.3 128.8h0.9v0.9h-0.9zM315.3 129.2h0.9v0.9h-0.9zM313.6 124.8h0.9v0.9h-0.9zM303.6 124.5h0.9v0.9h-0.9zM315.8 138.3h0.9v0.9h-0.9zM301.6 143.1h0.9v0.9h-0.9zM291.4 118.9h0.9v0.9h-0.9zM302.4 140.8h0.9v0.9h-0.9zM308.2 132.6h0.9v0.9h-0.9zM297.5 119.1h0.9v0.9h-0.9zM308.7 132.5h0.9v0.9h-0.9zM303.8 134.1h0.9v0.9h-0.9zM301.7 121.7h0.9v0.9h-0.9zM313.1 125.2h0.9v0.9h-0.9zM303.0 120.8h0.9v0.9h-0.9zM311.5 118.4h0.9v0.9h-0.9zM312.1 141.3h0.9v0.9h-0.9zM305.8 143.1h0.9v0.9h-0.9zM301.2 148.1h0.9v0.9h-0.9zM303.8 137.0h0.9v0.9h-0.9zM301.6 128.3h0.9v0.9h-0.9zM304.5 138.7h0.9v0.9h-0.9zM299.5 124.4h0.9v0.9h-0.9zM309.2 124.7h0.9v0.9h-0.9zM307.2 141.9h0.9v0.9h-0.9zM309.1 136.7h0.9v0.9h-0.9zM310.3 140.6h0.9v0.9h-0.9zM311.5 134.1h0.9v0.9h-0.9zM304.0 125.8h0.9v0.9h-0.9zM310.5 143.0h0.9v0.9h-0.9zM303.5 136.7h0.9v0.9h-0.9zM303.2 148.8h0.9v0.9h-0.9zM313.6 133.9h0.9v0.9h-0.9zM309.7 119.4h0.9v0.9h-0.9zM303.2 118.8h0.9v0.9h-0.9zM308.8 135.3h0.9v0.9h-0.9zM293.0 135.6h0.9v0.9h-0.9zM315.1 133.1h0.9v0.9h-0.9zM301.4 144.2h0.9v0.9h-0.9zM305.5 148.0h0.9v0.9h-0.9zM305.9 141.5h0.9v0.9h-0.9zM293.4 130.8h0.9v0.9h-0.9zM297.3 133.9h0.9v0.9h-0.9zM299.1 124.9h0.9v0.9h-0.9zM301.7 133.0h0.9v0.9h-0.9zM311.6 141.1h0.9v0.9h-0.9zM318.6 122.7h0.9v0.9h-0.9zM309.0 130.0h0.9v0.9h-0.9zM299.2 134.5h0.9v0.9h-0.9zM303.6 133.7h0.9v0.9h-0.9zM304.3 138.8h0.9v0.9h-0.9zM311.0 129.6h0.9v0.9h-0.9zM294.4 135.7h0.9v0.9h-0.9zM301.5 147.9h0.9v0.9h-0.9zM305.7 140.4h0.9v0.9h-0.9zM306.2 145.0h0.9v0.9h-0.9zM309.7 120.3h0.9v0.9h-0.9zM303.8 123.4h0.9v0.9h-0.9zM303.1 145.3h0.9v0.9h-0.9zM301.6 134.0h0.9v0.9h-0.9zM308.2 135.3h0.9v0.9h-0.9zM307.1 132.3h0.9v0.9h-0.9zM311.7 129.8h0.9v0.9h-0.9zM309.6 128.1h0.9v0.9h-0.9zM304.6 143.0h0.9v0.9h-0.9zM294.0 137.7h0.9v0.9h-0.9zM305.3 150.3h0.9v0.9h-0.9zM308.7 137.6h0.9v0.9h-0.9zM306.1 140.2h0.9v0.9h-0.9zM315.7 123.8h0.9v0.9h-0.9zM305.7 142.2h0.9v0.9h-0.9zM301.0 147.1h0.9v0.9h-0.9zM296.8 123.9h0.9v0.9h-0.9zM303.6 132.8h0.9v0.9h-0.9zM309.0 122.9h0.9v0.9h-0.9zM305.1 151.3h0.9v0.9h-0.9zM306.7 127.2h0.9v0.9h-0.9zM303.2 121.9h0.9v0.9h-0.9zM310.4 144.7h0.9v0.9h-0.9zM308.8 133.3h0.9v0.9h-0.9zM310.1 148.8h0.9v0.9h-0.9zM308.1 118.2h0.9v0.9h-0.9zM300.0 123.7h0.9v0.9h-0.9zM313.3 118.5h0.9v0.9h-0.9zM303.1 147.7h0.9v0.9h-0.9zM308.0 149.7h0.9v0.9h-0.9zM303.3 137.5h0.9v0.9h-0.9zM303.8 126.3h0.9v0.9h-0.9zM304.7 145.5h0.9v0.9h-0.9zM304.0 142.1h0.9v0.9h-0.9zM300.8 130.7h0.9v0.9h-0.9zM301.1 135.8h0.9v0.9h-0.9zM302.1 132.7h0.9v0.9h-0.9zM302.3 142.4h0.9v0.9h-0.9zM304.9 150.0h0.9v0.9h-0.9zM305.4 142.9h0.9v0.9h-0.9zM317.3 124.0h0.9v0.9h-0.9zM306.1 127.4h0.9v0.9h-0.9zM311.5 145.5h0.9v0.9h-0.9zM310.4 145.0h0.9v0.9h-0.9zM300.2 125.8h0.9v0.9h-0.9zM301.2 142.0h0.9v0.9h-0.9zM310.9 131.0h0.9v0.9h-0.9zM303.5 134.6h0.9v0.9h-0.9zM301.2 140.4h0.9v0.9h-0.9zM303.7 146.5h0.9v0.9h-0.9zM306.3 149.9h0.9v0.9h-0.9zM294.7 128.8h0.9v0.9h-0.9zM315.0 123.0h0.9v0.9h-0.9zM306.7 140.0h0.9v0.9h-0.9zM306.6 120.3h0.9v0.9h-0.9zM311.6 136.6h0.9v0.9h-0.9zM311.0 137.1h0.9v0.9h-0.9zM313.8 137.3h0.9v0.9h-0.9zM306.5 144.8h0.9v0.9h-0.9zM310.7 140.6h0.9v0.9h-0.9zM292.2 123.3h0.9v0.9h-0.9zM295.3 123.7h0.9v0.9h-0.9zM303.8 145.6h0.9v0.9h-0.9zM293.5 119.1h0.9v0.9h-0.9zM305.9 151.3h0.9v0.9h-0.9zM308.9 121.8h0.9v0.9h-0.9zM305.1 144.5h0.9v0.9h-0.9zM309.3 149.1h0.9v0.9h-0.9zM297.0 132.3h0.9v0.9h-0.9zM301.6 127.7h0.9v0.9h-0.9zM308.7 141.1h0.9v0.9h-0.9zM297.4 141.8h0.9v0.9h-0.9zM307.4 126.1h0.9v0.9h-0.9zM307.2 148.4h0.9v0.9h-0.9zM298.3 127.3h0.9v0.9h-0.9zM309.2 148.3h0.9v0.9h-0.9zM299.9 138.7h0.9v0.9h-0.9zM302.7 125.6h0.9v0.9h-0.9zM304.3 138.0h0.9v0.9h-0.9zM301.2 119.6h0.9v0.9h-0.9zM299.9 147.8h0.9v0.9h-0.9zM306.3 131.3h0.9v0.9h-0.9zM315.8 126.6h0.9v0.9h-0.9zM312.3 134.5h0.9v0.9h-0.9zM311.2 138.1h0.9v0.9h-0.9zM294.4 124.9h0.9v0.9h-0.9zM295.5 132.0h0.9v0.9h-0.9zM303.7 147.6h0.9v0.9h-0.9zM299.8 139.7h0.9v0.9h-0.9zM307.7 146.2h0.9v0.9h-0.9zM304.4 140.3h0.9v0.9h-0.9zM301.6 135.6h0.9v0.9h-0.9zM302.4 125.9h0.9v0.9h-0.9zM311.9 134.2h0.9v0.9h-0.9zM303.3 148.4h0.9v0.9h-0.9zM315.8 120.6h0.9v0.9h-0.9zM293.1 125.7h0.9v0.9h-0.9zM303.2 148.0h0.9v0.9h-0.9zM304.0 127.3h0.9v0.9h-0.9zM308.5 120.0h0.9v0.9h-0.9zM307.2 124.7h0.9v0.9h-0.9zM305.8 132.8h0.9v0.9h-0.9zM305.6 145.4h0.9v0.9h-0.9zM307.8 151.0h0.9v0.9h-0.9zM296.0 119.9h0.9v0.9h-0.9zM309.2 145.2h0.9v0.9h-0.9zM308.8 129.8h0.9v0.9h-0.9zM306.5 126.4h0.9v0.9h-0.9zM304.3 145.2h0.9v0.9h-0.9zM309.8 148.2h0.9v0.9h-0.9zM310.1 126.3h0.9v0.9h-0.9zM302.9 131.2h0.9v0.9h-0.9zM306.8 118.0h0.9v0.9h-0.9zM305.1 148.0h0.9v0.9h-0.9zM311.1 118.1h0.9v0.9h-0.9zM298.3 127.2h0.9v0.9h-0.9zM311.6 122.8h0.9v0.9h-0.9zM301.2 134.9h0.9v0.9h-0.9zM306.5 132.9h0.9v0.9h-0.9zM312.4 122.3h0.9v0.9h-0.9zM302.9 127.0h0.9v0.9h-0.9zM310.0 128.0h0.9v0.9h-0.9zM307.9 124.5h0.9v0.9h-0.9zM298.1 146.8h0.9v0.9h-0.9zM303.2 129.3h0.9v0.9h-0.9zM303.4 135.7h0.9v0.9h-0.9zM301.8 142.2h0.9v0.9h-0.9zM301.2 135.6h0.9v0.9h-0.9zM301.3 127.1h0.9v0.9h-0.9zM307.9 146.4h0.9v0.9h-0.9zM305.5 151.4h0.9v0.9h-0.9zM313.7 132.4h0.9v0.9h-0.9zM311.1 141.3h0.9v0.9h-0.9zM315.3 133.7h0.9v0.9h-0.9zM297.3 123.7h0.9v0.9h-0.9zM311.5 124.6h0.9v0.9h-0.9zM306.8 148.6h0.9v0.9h-0.9zM300.7 136.3h0.9v0.9h-0.9zM305.4 139.6h0.9v0.9h-0.9zM311.9 124.9h0.9v0.9h-0.9zM303.8 149.1h0.9v0.9h-0.9zM309.2 132.5h0.9v0.9h-0.9zM309.8 138.7h0.9v0.9h-0.9zM308.8 143.2h0.9v0.9h-0.9zM299.4 121.3h0.9v0.9h-0.9zM308.3 125.7h0.9v0.9h-0.9zM304.6 142.8h0.9v0.9h-0.9zM296.6 121.3h0.9v0.9h-0.9zM310.6 127.1h0.9v0.9h-0.9zM303.5 139.1h0.9v0.9h-0.9zM299.0 123.8h0.9v0.9h-0.9zM303.0 148.1h0.9v0.9h-0.9zM303.1 137.4h0.9v0.9h-0.9zM312.9 128.6h0.9v0.9h-0.9zM316.2 135.8h0.9v0.9h-0.9zM306.5 134.2h0.9v0.9h-0.9zM309.2 140.4h0.9v0.9h-0.9zM302.1 139.3h0.9v0.9h-0.9zM296.5 123.3h0.9v0.9h-0.9zM313.8 119.0h0.9v0.9h-0.9zM316.7 125.7h0.9v0.9h-0.9zM300.6 121.0h0.9v0.9h-0.9zM306.9 133.9h0.9v0.9h-0.9zM298.8 134.4h0.9v0.9h-0.9zM308.9 135.0h0.9v0.9h-0.9zM294.9 125.8h0.9v0.9h-0.9zM298.0 141.9h0.9v0.9h-0.9zM304.0 129.0h0.9v0.9h-0.9zM301.6 140.6h0.9v0.9h-0.9zM291.6 124.1h0.9v0.9h-0.9zM314.6 135.7h0.9v0.9h-0.9zM312.4 142.0h0.9v0.9h-0.9zM300.1 141.8h0.9v0.9h-0.9zM317.9 133.0h0.9v0.9h-0.9zM306.4 146.8h0.9v0.9h-0.9zM303.4 135.0h0.9v0.9h-0.9zM307.3 140.3h0.9v0.9h-0.9zM310.5 140.3h0.9v0.9h-0.9zM304.4 131.5h0.9v0.9h-0.9zM301.2 131.4h0.9v0.9h-0.9zM299.2 138.0h0.9v0.9h-0.9zM313.6 136.2h0.9v0.9h-0.9zM307.1 143.7h0.9v0.9h-0.9zM301.5 118.7h0.9v0.9h-0.9zM313.1 133.0h0.9v0.9h-0.9zM310.9 139.2h0.9v0.9h-0.9zM309.6 133.4h0.9v0.9h-0.9zM305.9 142.1h0.9v0.9h-0.9zM303.0 132.4h0.9v0.9h-0.9zM311.9 122.4h0.9v0.9h-0.9zM310.9 143.2h0.9v0.9h-0.9zM313.5 137.9h0.9v0.9h-0.9zM305.9 130.8h0.9v0.9h-0.9zM309.8 140.6h0.9v0.9h-0.9zM300.8 148.2h0.9v0.9h-0.9zM307.2 126.0h0.9v0.9h-0.9zM309.5 132.3h0.9v0.9h-0.9zM304.9 140.3h0.9v0.9h-0.9zM306.7 123.8h0.9v0.9h-0.9zM316.9 119.6h0.9v0.9h-0.9zM313.0 132.7h0.9v0.9h-0.9zM306.4 148.5h0.9v0.9h-0.9zM310.4 122.3h0.9v0.9h-0.9zM302.2 126.3h0.9v0.9h-0.9zM297.3 127.8h0.9v0.9h-0.9zM301.2 128.9h0.9v0.9h-0.9zM304.6 147.7h0.9v0.9h-0.9zM309.6 121.3h0.9v0.9h-0.9zM307.1 121.6h0.9v0.9h-0.9zM293.9 121.5h0.9v0.9h-0.9zM305.1 142.3h0.9v0.9h-0.9zM314.5 130.8h0.9v0.9h-0.9zM302.3 137.5h0.9v0.9h-0.9zM303.0 132.5h0.9v0.9h-0.9zM300.4 127.0h0.9v0.9h-0.9zM299.1 142.5h0.9v0.9h-0.9zM308.4 134.5h0.9v0.9h-0.9zM315.0 128.0h0.9v0.9h-0.9zM307.5 122.3h0.9v0.9h-0.9zM300.5 129.6h0.9v0.9h-0.9zM304.7 142.0h0.9v0.9h-0.9zM297.0 135.7h0.9v0.9h-0.9zM303.6 149.4h0.9v0.9h-0.9zM306.5 140.3h0.9v0.9h-0.9zM300.8 137.4h0.9v0.9h-0.9zM307.3 149.5h0.9v0.9h-0.9zM303.3 118.1h0.9v0.9h-0.9zM305.3 139.8h0.9v0.9h-0.9zM306.4 137.0h0.9v0.9h-0.9zM303.3 151.0h0.9v0.9h-0.9zM302.8 131.7h0.9v0.9h-0.9zM307.8 125.6h0.9v0.9h-0.9zM310.3 126.7h0.9v0.9h-0.9zM308.6 128.7h0.9v0.9h-0.9zM299.2 123.5h0.9v0.9h-0.9zM301.7 142.9h0.9v0.9h-0.9zM300.6 118.0h0.9v0.9h-0.9zM300.6 121.4h0.9v0.9h-0.9zM312.0 140.4h0.9v0.9h-0.9zM306.3 137.0h0.9v0.9h-0.9zM306.3 142.5h0.9v0.9h-0.9zM307.2 120.7h0.9v0.9h-0.9zM304.5 140.9h0.9v0.9h-0.9zM297.6 126.3h0.9v0.9h-0.9zM302.3 124.6h0.9v0.9h-0.9zM303.5 122.8h0.9v0.9h-0.9zM301.1 125.6h0.9v0.9h-0.9zM299.6 145.7h0.9v0.9h-0.9zM315.0 135.4h0.9v0.9h-0.9zM305.2 152.8h0.9v0.9h-0.9zM300.5 144.1h0.9v0.9h-0.9zM301.6 137.5h0.9v0.9h-0.9zM309.0 131.7h0.9v0.9h-0.9zM300.2 135.1h0.9v0.9h-0.9zM301.4 120.6h0.9v0.9h-0.9zM305.9 151.5h0.9v0.9h-0.9zM300.3 125.7h0.9v0.9h-0.9zM308.2 123.4h0.9v0.9h-0.9zM308.2 149.1h0.9v0.9h-0.9zM310.2 125.8h0.9v0.9h-0.9zM301.1 149.5h0.9v0.9h-0.9zM298.9 118.0h0.9v0.9h-0.9zM316.3 130.0h0.9v0.9h-0.9zM308.8 122.0h0.9v0.9h-0.9zM307.5 119.7h0.9v0.9h-0.9zM296.7 139.9h0.9v0.9h-0.9zM305.8 138.4h0.9v0.9h-0.9zM291.9 125.9h0.9v0.9h-0.9zM303.9 143.3h0.9v0.9h-0.9zM308.3 143.0h0.9v0.9h-0.9zM298.9 130.7h0.9v0.9h-0.9zM305.8 139.7h0.9v0.9h-0.9zM298.8 136.2h0.9v0.9h-0.9zM307.5 124.2h0.9v0.9h-0.9zM300.5 128.5h0.9v0.9h-0.9zM311.6 138.2h0.9v0.9h-0.9zM301.5 128.3h0.9v0.9h-0.9zM298.9 147.4h0.9v0.9h-0.9zM310.7 135.7h0.9v0.9h-0.9zM303.0 126.7h0.9v0.9h-0.9zM309.4 143.2h0.9v0.9h-0.9zM304.1 133.6h0.9v0.9h-0.9zM307.2 138.9h0.9v0.9h-0.9zM302.1 146.9h0.9v0.9h-0.9zM315.7 126.9h0.9v0.9h-0.9zM308.4 131.2h0.9v0.9h-0.9zM304.5 147.1h0.9v0.9h-0.9zM307.3 143.3h0.9v0.9h-0.9zM308.8 145.6h0.9v0.9h-0.9zM303.9 146.5h0.9v0.9h-0.9zM305.7 151.6h0.9v0.9h-0.9zM313.4 130.4h0.9v0.9h-0.9zM293.4 121.4h0.9v0.9h-0.9zM310.0 142.4h0.9v0.9h-0.9zM304.7 148.9h0.9v0.9h-0.9zM312.2 130.8h0.9v0.9h-0.9zM315.8 136.2h0.9v0.9h-0.9zM311.8 134.7h0.9v0.9h-0.9zM307.6 118.0h0.9v0.9h-0.9zM305.9 142.2h0.9v0.9h-0.9zM304.7 140.5h0.9v0.9h-0.9zM303.8 141.5h0.9v0.9h-0.9zM309.5 121.8h0.9v0.9h-0.9zM302.8 142.4h0.9v0.9h-0.9zM299.5 127.7h0.9v0.9h-0.9zM304.3 152.7h0.9v0.9h-0.9zM293.2 129.7h0.9v0.9h-0.9zM298.9 136.6h0.9v0.9h-0.9zM303.7 142.4h0.9v0.9h-0.9zM303.3 137.5h0.9v0.9h-0.9zM314.8 141.1h0.9v0.9h-0.9zM303.5 119.1h0.9v0.9h-0.9zM309.3 146.0h0.9v0.9h-0.9zM308.0 130.3h0.9v0.9h-0.9zM302.8 122.6h0.9v0.9h-0.9zM303.1 140.2h0.9v0.9h-0.9zM300.9 125.7h0.9v0.9h-0.9zM302.7 145.2h0.9v0.9h-0.9zM311.9 129.1h0.9v0.9h-0.9zM306.9 142.2h0.9v0.9h-0.9zM297.2 133.2h0.9v0.9h-0.9zM306.9 142.1h0.9v0.9h-0.9zM306.5 149.0h0.9v0.9h-0.9zM314.6 119.6h0.9v0.9h-0.9zM297.9 130.7h0.9v0.9h-0.9zM299.5 131.1h0.9v0.9h-0.9zM303.6 141.8h0.9v0.9h-0.9zM306.6 138.8h0.9v0.9h-0.9zM309.6 140.5h0.9v0.9h-0.9zM303.3 128.2h0.9v0.9h-0.9zM300.2 141.3h0.9v0.9h-0.9zM304.1 133.4h0.9v0.9h-0.9zM310.1 143.1h0.9v0.9h-0.9zM301.3 124.5h0.9v0.9h-0.9zM308.0 122.4h0.9v0.9h-0.9zM295.0 131.5h0.9v0.9h-0.9zM306.7 123.5h0.9v0.9h-0.9zM309.1 130.2h0.9v0.9h-0.9zM305.0 144.8h0.9v0.9h-0.9zM308.9 124.0h0.9v0.9h-0.9zM298.3 135.6h0.9v0.9h-0.9zM309.7 135.9h0.9v0.9h-0.9zM313.7 130.9h0.9v0.9h-0.9zM302.9 148.6h0.9v0.9h-0.9zM309.8 149.6h0.9v0.9h-0.9zM304.4 145.3h0.9v0.9h-0.9zM307.6 119.6h0.9v0.9h-0.9zM301.4 129.8h0.9v0.9h-0.9zM302.3 147.8h0.9v0.9h-0.9zM306.1 132.4h0.9v0.9h-0.9zM296.4 122.6h0.9v0.9h-0.9zM307.4 137.0h0.9v0.9h-0.9zM306.1 144.1h0.9v0.9h-0.9zM307.6 120.2h0.9v0.9h-0.9zM302.7 146.0h0.9v0.9h-0.9zM303.7 132.9h0.9v0.9h-0.9zM311.4 121.7h0.9v0.9h-0.9zM302.6 137.1h0.9v0.9h-0.9zM300.6 141.8h0.9v0.9h-0.9zM307.6 128.8h0.9v0.9h-0.9zM314.6 120.4h0.9v0.9h-0.9zM304.3 141.4h0.9v0.9h-0.9zM304.5 140.7h0.9v0.9h-0.9zM307.5 133.5h0.9v0.9h-0.9zM295.9 131.1h0.9v0.9h-0.9zM306.6 123.0h0.9v0.9h-0.9zM304.9 152.7h0.9v0.9h-0.9zM309.8 144.9h0.9v0.9h-0.9zM315.0 123.4h0.9v0.9h-0.9zM291.8 128.4h0.9v0.9h-0.9zM301.4 135.1h0.9v0.9h-0.9zM306.5 142.1h0.9v0.9h-0.9zM307.9 130.3h0.9v0.9h-0.9zM295.4 124.2h0.9v0.9h-0.9zM306.0 135.6h0.9v0.9h-0.9zM311.8 137.6h0.9v0.9h-0.9zM291.8 121.3h0.9v0.9h-0.9zM307.0 128.7h0.9v0.9h-0.9zM312.1 123.5h0.9v0.9h-0.9zM303.7 128.8h0.9v0.9h-0.9zM306.0 137.1h0.9v0.9h-0.9zM304.3 148.9h0.9v0.9h-0.9zM304.5 140.3h0.9v0.9h-0.9zM298.5 144.6h0.9v0.9h-0.9zM303.6 118.0h0.9v0.9h-0.9zM312.2 130.5h0.9v0.9h-0.9zM302.5 121.0h0.9v0.9h-0.9zM308.3 118.3h0.9v0.9h-0.9zM304.9 139.6h0.9v0.9h-0.9zM301.9 123.0h0.9v0.9h-0.9zM299.8 119.0h0.9v0.9h-0.9zM309.9 134.2h0.9v0.9h-0.9zM306.7 148.7h0.9v0.9h-0.9zM311.9 130.8h0.9v0.9h-0.9zM295.3 133.1h0.9v0.9h-0.9zM310.5 136.2h0.9v0.9h-0.9zM304.1 150.4h0.9v0.9h-0.9zM305.1 141.7h0.9v0.9h-0.9zM306.2 127.1h0.9v0.9h-0.9zM309.7 134.1h0.9v0.9h-0.9zM305.7 150.8h0.9v0.9h-0.9zM298.1 124.8h0.9v0.9h-0.9zM306.4 144.4h0.9v0.9h-0.9zM304.6 134.3h0.9v0.9h-0.9zM301.4 130.0h0.9v0.9h-0.9zM293.1 123.8h0.9v0.9h-0.9zM308.5 138.9h0.9v0.9h-0.9zM295.7 122.2h0.9v0.9h-0.9zM305.4 146.7h0.9v0.9h-0.9zM303.2 135.2h0.9v0.9h-0.9zM306.2 127.0h0.9v0.9h-0.9zM311.1 137.2h0.9v0.9h-0.9zM312.3 118.1h0.9v0.9h-0.9zM312.8 125.6h0.9v0.9h-0.9zM308.6 136.4h0.9v0.9h-0.9zM309.9 147.9h0.9v0.9h-0.9zM307.8 142.9h0.9v0.9h-0.9zM306.5 149.9h0.9v0.9h-0.9zM316.1 125.3h0.9v0.9h-0.9zM305.5 141.7h0.9v0.9h-0.9zM296.8 134.3h0.9v0.9h-0.9zM303.4 129.2h0.9v0.9h-0.9zM299.7 134.1h0.9v0.9h-0.9zM299.9 134.3h0.9v0.9h-0.9zM300.1 133.0h0.9v0.9h-0.9zM304.6 138.5h0.9v0.9h-0.9zM306.7 128.3h0.9v0.9h-0.9zM303.4 151.2h0.9v0.9h-0.9zM302.3 150.7h0.9v0.9h-0.9zM318.5 125.3h0.9v0.9h-0.9zM301.0 124.2h0.9v0.9h-0.9zM299.8 147.2h0.9v0.9h-0.9zM300.6 143.3h0.9v0.9h-0.9zM310.6 149.0h0.9v0.9h-0.9zM310.8 138.8h0.9v0.9h-0.9zM302.5 150.4h0.9v0.9h-0.9zM308.3 147.9h0.9v0.9h-0.9zM305.8 146.4h0.9v0.9h-0.9zM307.4 123.2h0.9v0.9h-0.9zM315.4 125.6h0.9v0.9h-0.9zM312.9 126.7h0.9v0.9h-0.9zM296.0 122.1h0.9v0.9h-0.9zM302.5 139.1h0.9v0.9h-0.9zM308.7 148.1h0.9v0.9h-0.9zM309.0 131.6h0.9v0.9h-0.9zM309.5 132.7h0.9v0.9h-0.9zM304.0 148.0h0.9v0.9h-0.9zM299.5 149.1h0.9v0.9h-0.9zM314.4 140.3h0.9v0.9h-0.9zM306.4 145.2h0.9v0.9h-0.9zM312.3 132.1h0.9v0.9h-0.9zM315.3 118.4h0.9v0.9h-0.9zM296.4 129.4h0.9v0.9h-0.9zM307.5 134.4h0.9v0.9h-0.9zM301.1 126.3h0.9v0.9h-0.9zM308.4 145.2h0.9v0.9h-0.9zM298.5 142.8h0.9v0.9h-0.9zM304.0 145.6h0.9v0.9h-0.9zM302.0 138.2h0.9v0.9h-0.9zM313.3 126.0h0.9v0.9h-0.9zM310.6 121.3h0.9v0.9h-0.9zM301.7 137.5h0.9v0.9h-0.9zM301.8 135.8h0.9v0.9h-0.9zM310.0 146.4h0.9v0.9h-0.9zM299.6 121.6h0.9v0.9h-0.9zM308.9 143.3h0.9v0.9h-0.9zM308.3 150.3h0.9v0.9h-0.9zM304.4 142.3h0.9v0.9h-0.9zM301.6 119.7h0.9v0.9h-0.9zM297.6 124.2h0.9v0.9h-0.9zM302.4 148.5h0.9v0.9h-0.9zM310.5 126.1h0.9v0.9h-0.9zM307.6 135.8h0.9v0.9h-0.9zM310.3 131.9h0.9v0.9h-0.9zM298.0 125.3h0.9v0.9h-0.9zM313.2 141.4h0.9v0.9h-0.9zM309.6 129.1h0.9v0.9h-0.9zM307.5 136.6h0.9v0.9h-0.9zM303.4 123.2h0.9v0.9h-0.9zM304.2 131.4h0.9v0.9h-0.9zM306.8 144.0h0.9v0.9h-0.9zM306.8 134.7h0.9v0.9h-0.9zM305.0 143.3h0.9v0.9h-0.9zM305.2 142.0h0.9v0.9h-0.9zM307.1 133.5h0.9v0.9h-0.9zM302.1 140.2h0.9v0.9h-0.9zM316.2 123.4h0.9v0.9h-0.9zM313.0 125.2h0.9v0.9h-0.9zM306.3 149.4h0.9v0.9h-0.9zM303.8 125.2h0.9v0.9h-0.9zM305.6 147.8h0.9v0.9h-0.9zM315.2 121.0h0.9v0.9h-0.9zM302.7 147.2h0.9v0.9h-0.9zM295.0 131.3h0.9v0.9h-0.9zM306.6 130.3h0.9v0.9h-0.9zM311.9 135.6h0.9v0.9h-0.9zM296.3 136.6h0.9v0.9h-0.9zM302.6 145.9h0.9v0.9h-0.9zM311.3 120.4h0.9v0.9h-0.9zM297.0 132.0h0.9v0.9h-0.9zM312.0 124.0h0.9v0.9h-0.9zM300.0 134.2h0.9v0.9h-0.9zM306.2 149.3h0.9v0.9h-0.9zM303.7 140.2h0.9v0.9h-0.9zM298.6 123.1h0.9v0.9h-0.9zM300.4 121.6h0.9v0.9h-0.9zM306.4 132.2h0.9v0.9h-0.9zM304.0 131.4h0.9v0.9h-0.9zM308.5 129.9h0.9v0.9h-0.9zM308.1 127.7h0.9v0.9h-0.9zM310.1 123.0h0.9v0.9h-0.9zM301.9 131.7h0.9v0.9h-0.9zM302.6 144.9h0.9v0.9h-0.9zM310.6 131.9h0.9v0.9h-0.9zM314.3 133.6h0.9v0.9h-0.9zM297.0 122.8h0.9v0.9h-0.9zM307.2 137.5h0.9v0.9h-0.9zM300.0 119.3h0.9v0.9h-0.9zM308.3 124.2h0.9v0.9h-0.9zM310.1 136.0h0.9v0.9h-0.9zM292.7 119.1h0.9v0.9h-0.9zM310.7 133.6h0.9v0.9h-0.9zM308.6 144.5h0.9v0.9h-0.9zM314.6 125.4h0.9v0.9h-0.9zM307.7 140.5h0.9v0.9h-0.9zM310.5 137.5h0.9v0.9h-0.9zM309.6 120.2h0.9v0.9h-0.9zM313.6 129.3h0.9v0.9h-0.9zM311.3 135.2h0.9v0.9h-0.9zM302.6 122.3h0.9v0.9h-0.9zM308.7 150.6h0.9v0.9h-0.9zM298.6 133.7h0.9v0.9h-0.9zM307.2 121.3h0.9v0.9h-0.9zM303.2 121.0h0.9v0.9h-0.9zM307.7 145.1h0.9v0.9h-0.9zM307.4 120.5h0.9v0.9h-0.9zM317.8 122.7h0.9v0.9h-0.9zM300.6 136.4h0.9v0.9h-0.9zM307.2 128.7h0.9v0.9h-0.9zM297.0 133.4h0.9v0.9h-0.9zM301.7 137.9h0.9v0.9h-0.9zM302.3 134.9h0.9v0.9h-0.9zM304.8 143.3h0.9v0.9h-0.9zM304.4 135.4h0.9v0.9h-0.9zM303.2 125.6h0.9v0.9h-0.9zM306.7 145.5h0.9v0.9h-0.9zM304.6 144.2h0.9v0.9h-0.9zM308.0 136.4h0.9v0.9h-0.9zM303.0 131.2h0.9v0.9h-0.9zM298.9 126.0h0.9v0.9h-0.9zM303.5 124.5h0.9v0.9h-0.9zM308.2 130.0h0.9v0.9h-0.9zM309.3 135.4h0.9v0.9h-0.9zM306.9 139.1h0.9v0.9h-0.9zM302.6 121.9h0.9v0.9h-0.9zM306.5 125.3h0.9v0.9h-0.9zM304.8 150.1h0.9v0.9h-0.9zM317.5 124.2h0.9v0.9h-0.9zM307.2 142.6h0.9v0.9h-0.9zM301.1 137.7h0.9v0.9h-0.9zM308.8 145.4h0.9v0.9h-0.9zM304.2 142.1h0.9v0.9h-0.9zM306.2 134.1h0.9v0.9h-0.9zM300.6 139.3h0.9v0.9h-0.9zM307.5 130.9h0.9v0.9h-0.9zM312.9 124.5h0.9v0.9h-0.9zM310.3 119.2h0.9v0.9h-0.9zM302.4 141.4h0.9v0.9h-0.9zM294.6 127.7h0.9v0.9h-0.9zM298.0 137.8h0.9v0.9h-0.9zM300.0 139.8h0.9v0.9h-0.9zM304.1 132.9h0.9v0.9h-0.9zM308.0 120.8h0.9v0.9h-0.9zM295.8 131.2h0.9v0.9h-0.9zM301.9 141.6h0.9v0.9h-0.9zM300.9 120.3h0.9v0.9h-0.9zM293.1 124.8h0.9v0.9h-0.9zM301.9 125.6h0.9v0.9h-0.9zM300.6 145.4h0.9v0.9h-0.9zM309.4 134.4h0.9v0.9h-0.9zM297.4 124.0h0.9v0.9h-0.9zM303.7 118.6h0.9v0.9h-0.9zM307.2 142.1h0.9v0.9h-0.9zM311.1 120.2h0.9v0.9h-0.9zM314.1 127.4h0.9v0.9h-0.9zM307.2 134.2h0.9v0.9h-0.9zM300.2 130.6h0.9v0.9h-0.9zM302.7 119.4h0.9v0.9h-0.9zM310.2 130.4h0.9v0.9h-0.9zM302.8 139.5h0.9v0.9h-0.9zM307.0 133.1h0.9v0.9h-0.9zM314.7 122.2h0.9v0.9h-0.9zM310.1 136.7h0.9v0.9h-0.9zM312.5 146.1h0.9v0.9h-0.9zM302.4 144.6h0.9v0.9h-0.9zM314.0 128.0h0.9v0.9h-0.9zM307.0 123.0h0.9v0.9h-0.9zM301.5 136.8h0.9v0.9h-0.9zM302.8 125.3h0.9v0.9h-0.9zM307.4 131.0h0.9v0.9h-0.9zM291.6 124.0h0.9v0.9h-0.9zM305.7 135.7h0.9v0.9h-0.9zM305.4 138.7h0.9v0.9h-0.9zM315.2 118.0h0.9v0.9h-0.9zM305.9 137.6h0.9v0.9h-0.9zM312.4 135.0h0.9v0.9h-0.9zM312.9 119.5h0.9v0.9h-0.9zM296.6 127.9h0.9v0.9h-0.9zM301.5 151.3h0.9v0.9h-0.9zM301.5 126.5h0.9v0.9h-0.9zM312.5 144.6h0.9v0.9h-0.9zM300.4 121.4h0.9v0.9h-0.9zM303.4 150.3h0.9v0.9h-0.9zM307.7 140.9h0.9v0.9h-0.9zM312.3 130.0h0.9v0.9h-0.9zM312.2 145.9h0.9v0.9h-0.9zM305.9 143.5h0.9v0.9h-0.9zM307.3 123.1h0.9v0.9h-0.9zM293.7 121.9h0.9v0.9h-0.9zM302.1 123.9h0.9v0.9h-0.9zM308.6 137.6h0.9v0.9h-0.9zM311.9 139.5h0.9v0.9h-0.9zM296.1 123.6h0.9v0.9h-0.9zM300.6 140.5h0.9v0.9h-0.9zM313.1 139.0h0.9v0.9h-0.9zM308.8 120.9h0.9v0.9h-0.9zM303.2 120.3h0.9v0.9h-0.9zM305.9 135.4h0.9v0.9h-0.9zM294.6 123.1h0.9v0.9h-0.9zM314.0 122.6h0.9v0.9h-0.9zM299.7 137.4h0.9v0.9h-0.9zM311.9 133.3h0.9v0.9h-0.9zM309.9 133.9h0.9v0.9h-0.9zM305.1 152.8h0.9v0.9h-0.9zM306.5 130.1h0.9v0.9h-0.9zM301.5 148.9h0.9v0.9h-0.9zM315.6 135.6h0.9v0.9h-0.9zM300.0 127.5h0.9v0.9h-0.9zM301.5 138.9h0.9v0.9h-0.9zM307.2 145.0h0.9v0.9h-0.9zM311.8 122.9h0.9v0.9h-0.9zM301.2 138.9h0.9v0.9h-0.9zM307.0 140.4h0.9v0.9h-0.9zM302.2 130.3h0.9v0.9h-0.9zM305.2 148.4h0.9v0.9h-0.9zM306.7 149.0h0.9v0.9h-0.9zM308.3 127.4h0.9v0.9h-0.9zM302.3 123.7h0.9v0.9h-0.9zM309.7 129.2h0.9v0.9h-0.9zM309.3 119.2h0.9v0.9h-0.9zM309.7 143.5h0.9v0.9h-0.9zM306.7 121.7h0.9v0.9h-0.9zM310.2 144.4h0.9v0.9h-0.9zM299.9 130.2h0.9v0.9h-0.9zM306.9 146.7h0.9v0.9h-0.9zM303.2 150.1h0.9v0.9h-0.9zM298.5 124.1h0.9v0.9h-0.9zM299.2 129.6h0.9v0.9h-0.9zM303.4 142.1h0.9v0.9h-0.9zM301.7 126.5h0.9v0.9h-0.9zM300.3 122.5h0.9v0.9h-0.9zM301.8 131.5h0.9v0.9h-0.9zM296.6 131.3h0.9v0.9h-0.9zM296.6 124.7h0.9v0.9h-0.9zM312.7 143.5h0.9v0.9h-0.9zM298.1 127.1h0.9v0.9h-0.9zM309.2 129.2h0.9v0.9h-0.9zM312.0 127.4h0.9v0.9h-0.9zM307.4 136.9h0.9v0.9h-0.9zM301.9 135.1h0.9v0.9h-0.9zM310.1 119.9h0.9v0.9h-0.9zM303.1 126.8h0.9v0.9h-0.9zM307.7 125.9h0.9v0.9h-0.9zM307.7 120.7h0.9v0.9h-0.9zM304.4 137.1h0.9v0.9h-0.9zM305.8 147.6h0.9v0.9h-0.9zM296.8 141.2h0.9v0.9h-0.9zM307.8 139.1h0.9v0.9h-0.9zM309.6 145.5h0.9v0.9h-0.9zM308.1 130.8h0.9v0.9h-0.9zM302.0 125.2h0.9v0.9h-0.9zM295.5 133.8h0.9v0.9h-0.9zM298.8 126.6h0.9v0.9h-0.9zM305.5 151.9h0.9v0.9h-0.9zM307.7 122.1h0.9v0.9h-0.9zM312.7 133.7h0.9v0.9h-0.9zM307.6 133.2h0.9v0.9h-0.9zM308.7 147.4h0.9v0.9h-0.9zM307.2 123.7h0.9v0.9h-0.9zM295.0 119.2h0.9v0.9h-0.9zM306.2 152.0h0.9v0.9h-0.9zM309.0 141.6h0.9v0.9h-0.9zM300.9 128.0h0.9v0.9h-0.9zM306.0 148.2h0.9v0.9h-0.9zM294.1 126.6h0.9v0.9h-0.9zM312.8 123.1h0.9v0.9h-0.9zM292.5 128.7h0.9v0.9h-0.9zM300.8 130.8h0.9v0.9h-0.9zM308.8 128.4h0.9v0.9h-0.9zM301.2 122.4h0.9v0.9h-0.9zM306.3 132.0h0.9v0.9h-0.9zM297.9 132.2h0.9v0.9h-0.9zM304.1 133.7h0.9v0.9h-0.9zM304.7 140.2h0.9v0.9h-0.9zM302.6 148.3h0.9v0.9h-0.9zM313.4 135.4h0.9v0.9h-0.9zM303.6 136.1h0.9v0.9h-0.9zM306.3 128.8h0.9v0.9h-0.9zM302.6 139.9h0.9v0.9h-0.9zM304.3 141.1h0.9v0.9h-0.9zM300.8 143.7h0.9v0.9h-0.9zM306.8 136.8h0.9v0.9h-0.9zM300.9 147.4h0.9v0.9h-0.9zM310.8 133.3h0.9v0.9h-0.9zM307.0 129.6h0.9v0.9h-0.9zM304.4 138.9h0.9v0.9h-0.9zM300.0 132.9h0.9v0.9h-0.9zM309.0 128.0h0.9v0.9h-0.9zM305.5 141.2h0.9v0.9h-0.9zM293.7 137.4h0.9v0.9h-0.9zM308.3 134.8h0.9v0.9h-0.9zM300.8 118.2h0.9v0.9h-0.9zM294.0 119.3h0.9v0.9h-0.9zM301.4 125.7h0.9v0.9h-0.9zM301.8 150.1h0.9v0.9h-0.9zM310.4 123.7h0.9v0.9h-0.9zM304.2 128.9h0.9v0.9h-0.9zM310.9 139.7h0.9v0.9h-0.9zM307.8 138.2h0.9v0.9h-0.9zM299.7 146.7h0.9v0.9h-0.9zM312.6 119.9h0.9v0.9h-0.9zM293.9 128.0h0.9v0.9h-0.9zM293.8 137.5h0.9v0.9h-0.9zM312.8 119.3h0.9v0.9h-0.9zM307.0 147.7h0.9v0.9h-0.9zM312.8 134.5h0.9v0.9h-0.9zM313.6 137.5h0.9v0.9h-0.9zM303.0 138.7h0.9v0.9h-0.9zM310.2 120.7h0.9v0.9h-0.9zM295.0 132.1h0.9v0.9h-0.9zM305.8 151.3h0.9v0.9h-0.9zM318.7 119.7h0.9v0.9h-0.9zM311.2 123.4h0.9v0.9h-0.9zM304.1 128.7h0.9v0.9h-0.9zM295.4 137.2h0.9v0.9h-0.9zM309.2 137.8h0.9v0.9h-0.9zM302.9 148.2h0.9v0.9h-0.9zM312.9 131.4h0.9v0.9h-0.9zM303.3 147.8h0.9v0.9h-0.9zM307.7 130.5h0.9v0.9h-0.9zM301.1 141.6h0.9v0.9h-0.9zM307.9 142.8h0.9v0.9h-0.9zM297.1 137.8h0.9v0.9h-0.9zM311.6 138.2h0.9v0.9h-0.9zM305.1 143.5h0.9v0.9h-0.9zM308.3 126.9h0.9v0.9h-0.9zM313.4 119.6h0.9v0.9h-0.9zM311.5 139.1h0.9v0.9h-0.9zM306.3 137.9h0.9v0.9h-0.9zM306.0 134.3h0.9v0.9h-0.9zM313.1 123.8h0.9v0.9h-0.9zM308.1 146.3h0.9v0.9h-0.9zM310.6 131.5h0.9v0.9h-0.9zM309.3 146.6h0.9v0.9h-0.9zM299.9 133.4h0.9v0.9h-0.9zM304.3 150.7h0.9v0.9h-0.9zM300.4 133.9h0.9v0.9h-0.9zM310.1 137.8h0.9v0.9h-0.9zM304.1 143.8h0.9v0.9h-0.9zM296.6 131.2h0.9v0.9h-0.9zM303.9 149.6h0.9v0.9h-0.9zM309.0 127.1h0.9v0.9h-0.9zM293.7 126.6h0.9v0.9h-0.9zM299.3 119.2h0.9v0.9h-0.9zM309.8 134.3h0.9v0.9h-0.9zM306.8 133.2h0.9v0.9h-0.9zM294.0 133.3h0.9v0.9h-0.9zM301.1 129.0h0.9v0.9h-0.9zM295.3 131.3h0.9v0.9h-0.9zM317.1 133.6h0.9v0.9h-0.9zM305.1 151.3h0.9v0.9h-0.9zM305.6 151.4h0.9v0.9h-0.9zM300.3 122.7h0.9v0.9h-0.9zM307.6 121.8h0.9v0.9h-0.9zM305.0 143.8h0.9v0.9h-0.9zM311.8 121.1h0.9v0.9h-0.9zM309.2 126.0h0.9v0.9h-0.9zM307.5 139.1h0.9v0.9h-0.9zM301.3 128.8h0.9v0.9h-0.9zM317.0 135.0h0.9v0.9h-0.9zM301.2 137.4h0.9v0.9h-0.9zM307.6 145.2h0.9v0.9h-0.9zM297.3 133.2h0.9v0.9h-0.9zM310.2 133.8h0.9v0.9h-0.9zM298.6 124.1h0.9v0.9h-0.9zM301.1 142.7h0.9v0.9h-0.9zM309.3 138.6h0.9v0.9h-0.9zM301.5 138.4h0.9v0.9h-0.9zM306.2 144.5h0.9v0.9h-0.9zM306.0 147.5h0.9v0.9h-0.9zM308.2 124.0h0.9v0.9h-0.9zM309.3 123.4h0.9v0.9h-0.9zM304.8 137.5h0.9v0.9h-0.9zM293.9 129.0h0.9v0.9h-0.9zM306.9 150.8h0.9v0.9h-0.9zM308.3 125.4h0.9v0.9h-0.9zM298.1 126.1h0.9v0.9h-0.9zM310.9 148.7h0.9v0.9h-0.9zM300.9 122.5h0.9v0.9h-0.9zM309.4 124.8h0.9v0.9h-0.9zM306.2 150.0h0.9v0.9h-0.9zM308.8 150.4h0.9v0.9h-0.9zM312.2 121.2h0.9v0.9h-0.9zM310.4 144.0h0.9v0.9h-0.9zM293.5 122.5h0.9v0.9h-0.9zM302.8 142.6h0.9v0.9h-0.9zM313.5 121.0h0.9v0.9h-0.9zM301.2 126.7h0.9v0.9h-0.9zM295.4 138.4h0.9v0.9h-0.9zM315.6 118.3h0.9v0.9h-0.9zM311.7 124.1h0.9v0.9h-0.9zM315.3 137.2h0.9v0.9h-0.9zM303.0 123.4h0.9v0.9h-0.9zM296.2 118.5h0.9v0.9h-0.9zM301.6 119.6h0.9v0.9h-0.9zM302.2 135.3h0.9v0.9h-0.9zM294.1 133.7h0.9v0.9h-0.9zM298.1 141.5h0.9v0.9h-0.9zM292.2 125.0h0.9v0.9h-0.9zM300.1 147.1h0.9v0.9h-0.9zM305.8 132.4h0.9v0.9h-0.9zM312.1 120.4h0.9v0.9h-0.9zM306.7 135.3h0.9v0.9h-0.9zM298.3 139.8h0.9v0.9h-0.9zM303.9 140.5h0.9v0.9h-0.9zM301.3 143.9h0.9v0.9h-0.9zM302.7 138.5h0.9v0.9h-0.9zM303.7 126.8h0.9v0.9h-0.9zM305.6 141.7h0.9v0.9h-0.9zM313.5 131.6h0.9v0.9h-0.9zM308.7 124.7h0.9v0.9h-0.9zM309.4 138.2h0.9v0.9h-0.9zM304.8 143.4h0.9v0.9h-0.9zM303.4 133.2h0.9v0.9h-0.9zM303.4 122.7h0.9v0.9h-0.9zM304.9 150.5h0.9v0.9h-0.9zM302.1 118.5h0.9v0.9h-0.9zM301.9 140.7h0.9v0.9h-0.9zM305.9 134.4h0.9v0.9h-0.9zM305.9 145.8h0.9v0.9h-0.9zM309.1 132.7h0.9v0.9h-0.9zM299.6 129.6h0.9v0.9h-0.9zM312.0 141.0h0.9v0.9h-0.9zM316.3 118.3h0.9v0.9h-0.9zM296.1 135.7h0.9v0.9h-0.9zM307.0 148.9h0.9v0.9h-0.9zM297.0 122.0h0.9v0.9h-0.9zM303.8 136.9h0.9v0.9h-0.9zM304.1 130.7h0.9v0.9h-0.9zM311.1 125.2h0.9v0.9h-0.9zM301.1 127.1h0.9v0.9h-0.9zM302.2 142.2h0.9v0.9h-0.9zM305.7 148.7h0.9v0.9h-0.9zM297.7 143.4h0.9v0.9h-0.9zM307.9 140.2h0.9v0.9h-0.9zM299.8 126.2h0.9v0.9h-0.9zM302.4 147.9h0.9v0.9h-0.9zM299.1 119.8h0.9v0.9h-0.9zM302.4 148.6h0.9v0.9h-0.9zM312.0 126.8h0.9v0.9h-0.9zM308.4 121.9h0.9v0.9h-0.9zM301.0 150.9h0.9v0.9h-0.9zM302.9 150.0h0.9v0.9h-0.9zM311.8 128.5h0.9v0.9h-0.9zM307.1 137.2h0.9v0.9h-0.9zM310.6 139.5h0.9v0.9h-0.9zM306.4 150.3h0.9v0.9h-0.9zM299.4 131.8h0.9v0.9h-0.9zM305.0 149.3h0.9v0.9h-0.9zM305.2 151.2h0.9v0.9h-0.9zM316.2 131.5h0.9v0.9h-0.9zM308.5 150.8h0.9v0.9h-0.9zM303.5 124.3h0.9v0.9h-0.9zM310.7 121.4h0.9v0.9h-0.9zM301.6 137.4h0.9v0.9h-0.9zM303.9 141.0h0.9v0.9h-0.9zM299.3 143.9h0.9v0.9h-0.9zM304.3 152.8h0.9v0.9h-0.9zM303.2 150.1h0.9v0.9h-0.9zM297.9 142.1h0.9v0.9h-0.9zM309.7 133.5h0.9v0.9h-0.9zM311.6 137.5h0.9v0.9h-0.9zM307.7 141.1h0.9v0.9h-0.9zM305.1 151.9h0.9v0.9h-0.9zM306.9 139.9h0.9v0.9h-0.9zM306.1 136.3h0.9v0.9h-0.9zM306.7 137.7h0.9v0.9h-0.9zM305.3 147.4h0.9v0.9h-0.9zM297.9 137.0h0.9v0.9h-0.9zM309.5 140.5h0.9v0.9h-0.9zM309.6 137.5h0.9v0.9h-0.9zM305.3 145.8h0.9v0.9h-0.9zM303.0 146.0h0.9v0.9h-0.9zM308.9 119.2h0.9v0.9h-0.9zM301.4 128.4h0.9v0.9h-0.9zM306.8 134.8h0.9v0.9h-0.9zM313.2 140.3h0.9v0.9h-0.9zM298.6 121.0h0.9v0.9h-0.9zM296.3 141.8h0.9v0.9h-0.9zM311.8 124.4h0.9v0.9h-0.9zM301.6 126.0h0.9v0.9h-0.9zM303.2 142.9h0.9v0.9h-0.9zM305.9 141.7h0.9v0.9h-0.9zM308.1 151.4h0.9v0.9h-0.9zM294.8 122.0h0.9v0.9h-0.9zM292.8 132.1h0.9v0.9h-0.9zM311.4 134.6h0.9v0.9h-0.9zM310.4 124.4h0.9v0.9h-0.9zM309.0 127.2h0.9v0.9h-0.9zM305.8 136.8h0.9v0.9h-0.9zM299.4 131.1h0.9v0.9h-0.9zM310.5 137.6h0.9v0.9h-0.9zM303.6 142.5h0.9v0.9h-0.9zM307.8 129.6h0.9v0.9h-0.9zM303.2 140.4h0.9v0.9h-0.9zM301.0 141.1h0.9v0.9h-0.9zM302.7 132.8h0.9v0.9h-0.9zM304.5 146.0h0.9v0.9h-0.9zM304.8 137.1h0.9v0.9h-0.9zM304.7 152.3h0.9v0.9h-0.9zM300.0 126.9h0.9v0.9h-0.9zM303.2 150.0h0.9v0.9h-0.9zM300.6 137.4h0.9v0.9h-0.9zM300.7 119.6h0.9v0.9h-0.9zM307.8 150.7h0.9v0.9h-0.9zM302.7 132.0h0.9v0.9h-0.9zM308.3 145.9h0.9v0.9h-0.9zM306.7 137.7h0.9v0.9h-0.9zM301.0 128.3h0.9v0.9h-0.9zM315.7 139.1h0.9v0.9h-0.9zM295.2 127.7h0.9v0.9h-0.9zM312.7 145.0h0.9v0.9h-0.9zM306.0 147.6h0.9v0.9h-0.9zM317.8 129.2h0.9v0.9h-0.9zM294.9 122.2h0.9v0.9h-0.9zM298.1 142.9h0.9v0.9h-0.9zM298.6 136.5h0.9v0.9h-0.9zM302.5 130.0h0.9v0.9h-0.9zM308.7 142.6h0.9v0.9h-0.9zM307.4 141.9h0.9v0.9h-0.9zM309.2 144.7h0.9v0.9h-0.9zM299.2 140.1h0.9v0.9h-0.9zM299.1 131.0h0.9v0.9h-0.9zM304.5 150.7h0.9v0.9h-0.9zM306.5 145.7h0.9v0.9h-0.9zM304.8 138.8h0.9v0.9h-0.9zM303.2 119.9h0.9v0.9h-0.9zM300.4 132.9h0.9v0.9h-0.9zM303.0 134.5h0.9v0.9h-0.9zM309.0 134.6h0.9v0.9h-0.9zM304.9 140.0h0.9v0.9h-0.9zM307.5 119.0h0.9v0.9h-0.9zM302.9 140.6h0.9v0.9h-0.9zM296.1 119.9h0.9v0.9h-0.9zM302.2 133.1h0.9v0.9h-0.9zM318.5 118.9h0.9v0.9h-0.9zM306.9 150.8h0.9v0.9h-0.9zM306.0 150.2h0.9v0.9h-0.9zM302.4 144.1h0.9v0.9h-0.9zM309.1 140.2h0.9v0.9h-0.9zM299.1 118.0h0.9v0.9h-0.9zM308.8 142.4h0.9v0.9h-0.9zM312.7 132.8h0.9v0.9h-0.9zM313.2 131.8h0.9v0.9h-0.9zM308.3 143.8h0.9v0.9h-0.9zM305.9 143.6h0.9v0.9h-0.9zM312.7 139.2h0.9v0.9h-0.9zM300.1 121.6h0.9v0.9h-0.9zM299.4 138.4h0.9v0.9h-0.9zM305.4 138.4h0.9v0.9h-0.9zM307.1 118.9h0.9v0.9h-0.9zM296.9 122.4h0.9v0.9h-0.9zM306.3 141.8h0.9v0.9h-0.9zM309.6 123.1h0.9v0.9h-0.9zM307.2 151.6h0.9v0.9h-0.9zM299.9 124.4h0.9v0.9h-0.9zM303.2 127.0h0.9v0.9h-0.9zM314.7 135.2h0.9v0.9h-0.9zM292.5 132.6h0.9v0.9h-0.9zM300.6 141.8h0.9v0.9h-0.9zM310.2 130.9h0.9v0.9h-0.9zM302.1 133.6h0.9v0.9h-0.9zM299.6 124.9h0.9v0.9h-0.9zM306.3 132.0h0.9v0.9h-0.9zM305.8 131.6h0.9v0.9h-0.9zM305.0 140.0h0.9v0.9h-0.9zM295.4 120.1h0.9v0.9h-0.9zM302.0 140.5h0.9v0.9h-0.9zM302.8 144.3h0.9v0.9h-0.9zM313.7 140.2h0.9v0.9h-0.9zM298.0 120.0h0.9v0.9h-0.9zM309.5 124.0h0.9v0.9h-0.9zM315.8 118.9h0.9v0.9h-0.9zM304.2 150.6h0.9v0.9h-0.9zM303.3 134.3h0.9v0.9h-0.9zM309.5 149.8h0.9v0.9h-0.9zM308.2 145.5h0.9v0.9h-0.9zM310.6 136.5h0.9v0.9h-0.9zM301.6 119.2h0.9v0.9h-0.9zM296.5 133.7h0.9v0.9h-0.9zM303.0 121.2h0.9v0.9h-0.9zM302.4 120.4h0.9v0.9h-0.9zM303.5 130.3h0.9v0.9h-0.9zM302.9 146.7h0.9v0.9h-0.9zM298.2 124.5h0.9v0.9h-0.9zM303.5 148.3h0.9v0.9h-0.9zM307.2 129.7h0.9v0.9h-0.9zM307.0 148.6h0.9v0.9h-0.9zM302.3 127.8h0.9v0.9h-0.9zM302.1 144.0h0.9v0.9h-0.9zM312.4 125.1h0.9v0.9h-0.9zM310.8 139.7h0.9v0.9h-0.9zM311.6 131.4h0.9v0.9h-0.9zM314.4 125.0h0.9v0.9h-0.9zM298.1 119.3h0.9v0.9h-0.9zM310.1 135.6h0.9v0.9h-0.9zM302.8 129.7h0.9v0.9h-0.9zM307.1 129.3h0.9v0.9h-0.9zM304.4 141.1h0.9v0.9h-0.9zM305.5 149.0h0.9v0.9h-0.9zM293.7 137.1h0.9v0.9h-0.9zM301.1 122.0h0.9v0.9h-0.9zM294.5 130.5h0.9v0.9h-0.9zM301.7 138.9h0.9v0.9h-0.9zM301.8 134.0h0.9v0.9h-0.9zM308.1 130.2h0.9v0.9h-0.9zM306.9 151.4h0.9v0.9h-0.9zM302.2 118.0h0.9v0.9h-0.9zM300.4 134.0h0.9v0.9h-0.9zM310.8 137.2h0.9v0.9h-0.9zM310.0 141.6h0.9v0.9h-0.9zM302.0 122.6h0.9v0.9h-0.9zM303.9 149.0h0.9v0.9h-0.9zM315.4 133.6h0.9v0.9h-0.9zM302.2 133.3h0.9v0.9h-0.9zM310.9 126.5h0.9v0.9h-0.9zM304.9 149.6h0.9v0.9h-0.9zM306.8 149.3h0.9v0.9h-0.9zM306.6 147.7h0.9v0.9h-0.9zM307.2 131.1h0.9v0.9h-0.9zM301.9 148.9h0.9v0.9h-0.9zM299.6 124.1h0.9v0.9h-0.9zM293.8 127.2h0.9v0.9h-0.9zM307.8 134.0h0.9v0.9h-0.9zM299.8 133.3h0.9v0.9h-0.9zM308.7 130.2h0.9v0.9h-0.9zM299.5 125.8h0.9v0.9h-0.9zM308.2 140.9h0.9v0.9h-0.9zM305.6 152.4h0.9v0.9h-0.9zM301.7 148.8h0.9v0.9h-0.9zM311.2 139.5h0.9v0.9h-0.9zM305.8 149.5h0.9v0.9h-0.9zM310.1 147.1h0.9v0.9h-0.9zM299.9 142.4h0.9v0.9h-0.9zM304.3 138.6h0.9v0.9h-0.9zM309.4 147.2h0.9v0.9h-0.9zM307.0 146.7h0.9v0.9h-0.9zM309.4 135.3h0.9v0.9h-0.9zM303.9 142.8h0.9v0.9h-0.9zM313.9 128.2h0.9v0.9h-0.9zM298.3 132.0h0.9v0.9h-0.9zM306.6 134.7h0.9v0.9h-0.9zM308.6 143.0h0.9v0.9h-0.9zM306.2 147.0h0.9v0.9h-0.9zM300.1 126.4h0.9v0.9h-0.9zM305.4 152.0h0.9v0.9h-0.9zM299.5 130.8h0.9v0.9h-0.9zM303.2 127.0h0.9v0.9h-0.9zM301.2 132.2h0.9v0.9h-0.9zM313.7 125.1h0.9v0.9h-0.9zM299.6 137.4h0.9v0.9h-0.9zM303.1 118.5h0.9v0.9h-0.9zM308.9 139.6h0.9v0.9h-0.9zM293.6 118.4h0.9v0.9h-0.9zM299.2 144.8h0.9v0.9h-0.9zM313.8 119.3h0.9v0.9h-0.9zM307.6 138.1h0.9v0.9h-0.9zM310.7 136.7h0.9v0.9h-0.9zM306.9 147.8h0.9v0.9h-0.9zM297.6 131.4h0.9v0.9h-0.9zM313.5 144.2h0.9v0.9h-0.9zM298.9 118.9h0.9v0.9h-0.9zM312.0 137.9h0.9v0.9h-0.9zM301.4 132.2h0.9v0.9h-0.9zM312.9 130.0h0.9v0.9h-0.9zM304.8 151.4h0.9v0.9h-0.9zM307.4 128.1h0.9v0.9h-0.9zM302.5 118.9h0.9v0.9h-0.9zM314.1 137.9h0.9v0.9h-0.9zM303.9 137.1h0.9v0.9h-0.9zM303.9 149.0h0.9v0.9h-0.9zM304.5 147.8h0.9v0.9h-0.9zM312.0 133.6h0.9v0.9h-0.9zM301.2 138.7h0.9v0.9h-0.9zM310.8 141.6h0.9v0.9h-0.9zM310.1 130.3h0.9v0.9h-0.9zM315.9 129.4h0.9v0.9h-0.9zM307.1 125.0h0.9v0.9h-0.9zM308.7 139.7h0.9v0.9h-0.9zM311.0 144.4h0.9v0.9h-0.9zM311.1 131.2h0.9v0.9h-0.9zM309.6 123.6h0.9v0.9h-0.9zM305.3 152.8h0.9v0.9h-0.9zM304.9 148.8h0.9v0.9h-0.9zM315.8 129.8h0.9v0.9h-0.9zM300.4 144.0h0.9v0.9h-0.9zM294.0 125.8h0.9v0.9h-0.9zM306.3 128.4h0.9v0.9h-0.9zM294.5 133.4h0.9v0.9h-0.9zM311.8 146.2h0.9v0.9h-0.9zM312.1 127.6h0.9v0.9h-0.9zM305.6 134.6h0.9v0.9h-0.9zM303.6 143.9h0.9v0.9h-0.9zM299.2 130.9h0.9v0.9h-0.9zM315.3 122.0h0.9v0.9h-0.9zM295.1 123.3h0.9v0.9h-0.9zM308.1 150.2h0.9v0.9h-0.9zM307.1 147.4h0.9v0.9h-0.9zM299.0 124.6h0.9v0.9h-0.9zM314.4 127.7h0.9v0.9h-0.9zM304.2 151.2h0.9v0.9h-0.9zM296.6 137.2h0.9v0.9h-0.9zM300.3 118.7h0.9v0.9h-0.9zM301.2 127.1h0.9v0.9h-0.9zM308.3 136.6h0.9v0.9h-0.9zM306.7 118.4h0.9v0.9h-0.9zM305.7 149.2h0.9v0.9h-0.9zM305.5 147.5h0.9v0.9h-0.9zM298.1 121.8h0.9v0.9h-0.9zM304.4 130.9h0.9v0.9h-0.9zM298.0 129.0h0.9v0.9h-0.9zM311.4 122.9h0.9v0.9h-0.9zM315.1 128.4h0.9v0.9h-0.9zM313.3 125.2h0.9v0.9h-0.9zM312.3 131.4h0.9v0.9h-0.9zM303.8 142.5h0.9v0.9h-0.9zM307.1 132.4h0.9v0.9h-0.9zM316.9 122.2h0.9v0.9h-0.9zM308.5 132.7h0.9v0.9h-0.9zM314.3 135.9h0.9v0.9h-0.9zM300.3 130.9h0.9v0.9h-0.9zM307.0 146.6h0.9v0.9h-0.9zM303.8 139.9h0.9v0.9h-0.9zM304.2 137.9h0.9v0.9h-0.9zM307.4 140.6h0.9v0.9h-0.9zM307.3 143.4h0.9v0.9h-0.9zM303.8 149.6h0.9v0.9h-0.9zM304.5 140.4h0.9v0.9h-0.9zM304.0 129.4h0.9v0.9h-0.9zM306.0 144.4h0.9v0.9h-0.9zM307.6 134.3h0.9v0.9h-0.9zM303.5 129.4h0.9v0.9h-0.9zM313.2 126.9h0.9v0.9h-0.9zM305.1 151.3h0.9v0.9h-0.9zM300.4 124.7h0.9v0.9h-0.9zM304.2 143.6h0.9v0.9h-0.9zM293.8 124.9h0.9v0.9h-0.9zM305.3 145.7h0.9v0.9h-0.9zM305.0 147.2h0.9v0.9h-0.9zM306.5 142.2h0.9v0.9h-0.9zM293.2 123.0h0.9v0.9h-0.9zM305.8 144.9h0.9v0.9h-0.9zM302.7 131.0h0.9v0.9h-0.9zM314.8 141.1h0.9v0.9h-0.9zM295.5 124.0h0.9v0.9h-0.9zM301.6 118.3h0.9v0.9h-0.9zM300.9 118.6h0.9v0.9h-0.9zM310.7 134.4h0.9v0.9h-0.9zM306.0 151.9h0.9v0.9h-0.9zM310.3 133.6h0.9v0.9h-0.9zM308.0 143.8h0.9v0.9h-0.9zM304.1 150.1h0.9v0.9h-0.9zM292.4 129.4h0.9v0.9h-0.9zM307.1 128.1h0.9v0.9h-0.9zM304.8 148.7h0.9v0.9h-0.9zM298.7 121.3h0.9v0.9h-0.9zM298.8 146.9h0.9v0.9h-0.9zM311.0 122.5h0.9v0.9h-0.9zM305.6 147.5h0.9v0.9h-0.9zM295.2 129.5h0.9v0.9h-0.9zM297.5 144.8h0.9v0.9h-0.9zM311.0 139.3h0.9v0.9h-0.9zM306.4 145.2h0.9v0.9h-0.9zM308.9 142.6h0.9v0.9h-0.9zM302.5 142.5h0.9v0.9h-0.9zM308.1 148.3h0.9v0.9h-0.9zM301.3 124.0h0.9v0.9h-0.9zM301.8 134.9h0.9v0.9h-0.9zM310.0 143.4h0.9v0.9h-0.9zM312.0 119.7h0.9v0.9h-0.9zM300.7 136.1h0.9v0.9h-0.9zM309.9 139.5h0.9v0.9h-0.9zM295.2 129.2h0.9v0.9h-0.9zM297.9 122.1h0.9v0.9h-0.9zM303.8 144.9h0.9v0.9h-0.9zM291.7 130.8h0.9v0.9h-0.9zM314.3 139.6h0.9v0.9h-0.9zM304.2 132.6h0.9v0.9h-0.9zM306.8 120.0h0.9v0.9h-0.9zM299.0 138.0h0.9v0.9h-0.9zM309.5 148.9h0.9v0.9h-0.9zM294.6 130.8h0.9v0.9h-0.9zM307.4 148.7h0.9v0.9h-0.9zM302.9 123.8h0.9v0.9h-0.9zM315.4 125.6h0.9v0.9h-0.9zM311.7 140.0h0.9v0.9h-0.9zM315.9 135.3h0.9v0.9h-0.9zM296.0 128.7h0.9v0.9h-0.9zM306.4 147.4h0.9v0.9h-0.9zM299.7 147.4h0.9v0.9h-0.9zM309.6 127.1h0.9v0.9h-0.9zM303.2 147.6h0.9v0.9h-0.9zM309.1 149.0h0.9v0.9h-0.9zM303.1 133.2h0.9v0.9h-0.9zM306.2 132.5h0.9v0.9h-0.9zM304.2 133.2h0.9v0.9h-0.9zM307.1 150.1h0.9v0.9h-0.9zM298.6 120.6h0.9v0.9h-0.9zM307.9 126.6h0.9v0.9h-0.9zM298.7 144.8h0.9v0.9h-0.9zM307.8 135.1h0.9v0.9h-0.9zM302.5 118.6h0.9v0.9h-0.9zM314.4 138.2h0.9v0.9h-0.9zM301.9 121.8h0.9v0.9h-0.9zM297.5 142.5h0.9v0.9h-0.9zM302.7 141.9h0.9v0.9h-0.9zM309.1 124.3h0.9v0.9h-0.9zM297.1 139.4h0.9v0.9h-0.9zM298.4 128.7h0.9v0.9h-0.9zM306.1 132.2h0.9v0.9h-0.9zM309.8 127.8h0.9v0.9h-0.9zM312.3 120.5h0.9v0.9h-0.9zM303.1 150.2h0.9v0.9h-0.9zM313.9 141.2h0.9v0.9h-0.9zM306.2 138.5h0.9v0.9h-0.9zM309.9 145.2h0.9v0.9h-0.9zM299.5 135.2h0.9v0.9h-0.9zM302.9 150.6h0.9v0.9h-0.9zM304.9 147.0h0.9v0.9h-0.9zM305.0 142.7h0.9v0.9h-0.9zM298.1 118.3h0.9v0.9h-0.9zM303.2 146.9h0.9v0.9h-0.9zM291.7 127.9h0.9v0.9h-0.9zM307.4 135.3h0.9v0.9h-0.9zM306.2 127.3h0.9v0.9h-0.9zM307.4 141.3h0.9v0.9h-0.9zM302.3 135.4h0.9v0.9h-0.9zM296.9 118.4h0.9v0.9h-0.9zM305.8 147.0h0.9v0.9h-0.9zM300.9 126.8h0.9v0.9h-0.9zM297.1 142.5h0.9v0.9h-0.9zM305.9 146.2h0.9v0.9h-0.9zM308.9 131.4h0.9v0.9h-0.9zM294.4 134.4h0.9v0.9h-0.9zM299.3 132.7h0.9v0.9h-0.9zM312.7 120.4h0.9v0.9h-0.9zM307.7 139.8h0.9v0.9h-0.9zM314.7 126.7h0.9v0.9h-0.9zM297.2 132.6h0.9v0.9h-0.9zM300.3 121.3h0.9v0.9h-0.9zM308.9 128.0h0.9v0.9h-0.9zM299.5 143.7h0.9v0.9h-0.9zM299.2 128.9h0.9v0.9h-0.9zM302.1 137.5h0.9v0.9h-0.9zM310.3 143.0h0.9v0.9h-0.9zM309.1 100.0h0.9v0.9h-0.9zM308.3 109.8h0.9v0.9h-0.9zM313.2 118.3h0.9v0.9h-0.9zM298.3 114.6h0.9v0.9h-0.9zM302.1 117.6h0.9v0.9h-0.9zM302.5 113.1h0.9v0.9h-0.9zM302.9 105.8h0.9v0.9h-0.9zM309.8 116.3h0.9v0.9h-0.9zM310.6 106.9h0.9v0.9h-0.9zM299.5 116.4h0.9v0.9h-0.9zM303.2 100.2h0.9v0.9h-0.9zM307.1 112.8h0.9v0.9h-0.9zM300.7 113.9h0.9v0.9h-0.9zM301.5 84.4h0.9v0.9h-0.9zM307.6 118.9h0.9v0.9h-0.9zM311.6 114.4h0.9v0.9h-0.9zM307.2 106.4h0.9v0.9h-0.9zM297.5 104.8h0.9v0.9h-0.9zM309.9 117.8h0.9v0.9h-0.9zM299.4 104.5h0.9v0.9h-0.9zM313.0 113.6h0.9v0.9h-0.9zM307.9 111.6h0.9v0.9h-0.9zM307.9 98.7h0.9v0.9h-0.9zM301.7 112.1h0.9v0.9h-0.9zM308.5 118.8h0.9v0.9h-0.9zM303.3 110.3h0.9v0.9h-0.9zM308.9 117.1h0.9v0.9h-0.9zM298.7 100.9h0.9v0.9h-0.9zM310.6 114.3h0.9v0.9h-0.9zM302.8 114.4h0.9v0.9h-0.9zM312.7 115.1h0.9v0.9h-0.9zM308.4 106.1h0.9v0.9h-0.9zM308.6 105.6h0.9v0.9h-0.9zM303.5 115.1h0.9v0.9h-0.9zM308.1 102.4h0.9v0.9h-0.9zM310.7 82.2h0.9v0.9h-0.9zM307.5 117.6h0.9v0.9h-0.9zM310.2 103.0h0.9v0.9h-0.9zM311.3 114.6h0.9v0.9h-0.9zM310.9 89.8h0.9v0.9h-0.9zM301.0 104.3h0.9v0.9h-0.9zM303.3 108.3h0.9v0.9h-0.9zM301.2 93.5h0.9v0.9h-0.9zM308.4 97.8h0.9v0.9h-0.9zM309.6 107.3h0.9v0.9h-0.9zM299.7 80.2h0.9v0.9h-0.9zM300.3 79.3h0.9v0.9h-0.9zM297.2 111.7h0.9v0.9h-0.9zM297.7 103.1h0.9v0.9h-0.9zM298.7 89.7h0.9v0.9h-0.9zM298.2 109.7h0.9v0.9h-0.9zM307.5 87.2h0.9v0.9h-0.9zM310.6 109.5h0.9v0.9h-0.9zM310.2 103.5h0.9v0.9h-0.9zM312.4 100.5h0.9v0.9h-0.9zM307.8 116.2h0.9v0.9h-0.9zM301.2 82.3h0.9v0.9h-0.9zM310.3 108.9h0.9v0.9h-0.9zM301.2 114.9h0.9v0.9h-0.9zM301.0 93.6h0.9v0.9h-0.9zM302.0 111.3h0.9v0.9h-0.9zM309.2 104.1h0.9v0.9h-0.9zM311.8 110.9h0.9v0.9h-0.9zM298.0 114.3h0.9v0.9h-0.9zM302.7 117.3h0.9v0.9h-0.9zM308.8 81.4h0.9v0.9h-0.9zM302.8 104.8h0.9v0.9h-0.9zM308.0 116.9h0.9v0.9h-0.9zM300.3 114.4h0.9v0.9h-0.9zM308.6 110.7h0.9v0.9h-0.9zM302.3 112.7h0.9v0.9h-0.9zM301.1 105.4h0.9v0.9h-0.9zM299.6 118.2h0.9v0.9h-0.9zM309.5 74.2h0.9v0.9h-0.9zM298.4 87.5h0.9v0.9h-0.9zM313.0 118.4h0.9v0.9h-0.9zM301.0 112.4h0.9v0.9h-0.9zM300.9 117.5h0.9v0.9h-0.9zM302.9 96.8h0.9v0.9h-0.9zM298.2 84.9h0.9v0.9h-0.9zM307.9 107.4h0.9v0.9h-0.9zM306.9 110.4h0.9v0.9h-0.9zM311.9 99.5h0.9v0.9h-0.9zM311.7 110.2h0.9v0.9h-0.9zM308.7 113.3h0.9v0.9h-0.9zM300.6 111.7h0.9v0.9h-0.9zM307.9 118.7h0.9v0.9h-0.9zM310.4 118.0h0.9v0.9h-0.9zM298.1 108.5h0.9v0.9h-0.9zM301.0 118.8h0.9v0.9h-0.9zM297.6 115.1h0.9v0.9h-0.9zM301.8 78.4h0.9v0.9h-0.9zM302.9 113.2h0.9v0.9h-0.9zM300.9 102.7h0.9v0.9h-0.9zM308.9 117.4h0.9v0.9h-0.9zM308.1 117.2h0.9v0.9h-0.9zM301.8 114.4h0.9v0.9h-0.9zM301.7 109.9h0.9v0.9h-0.9zM302.8 106.5h0.9v0.9h-0.9zM310.8 105.9h0.9v0.9h-0.9zM308.9 111.4h0.9v0.9h-0.9zM299.2 87.5h0.9v0.9h-0.9zM302.4 102.7h0.9v0.9h-0.9zM309.1 112.1h0.9v0.9h-0.9zM298.9 116.8h0.9v0.9h-0.9zM308.3 77.6h0.9v0.9h-0.9zM308.5 115.1h0.9v0.9h-0.9zM313.1 113.4h0.9v0.9h-0.9zM310.1 91.6h0.9v0.9h-0.9zM301.8 115.6h0.9v0.9h-0.9zM297.9 107.3h0.9v0.9h-0.9zM297.4 112.4h0.9v0.9h-0.9zM307.2 103.1h0.9v0.9h-0.9zM302.8 82.9h0.9v0.9h-0.9zM309.3 110.8h0.9v0.9h-0.9zM297.4 107.2h0.9v0.9h-0.9zM308.4 98.5h0.9v0.9h-0.9zM297.6 116.0h0.9v0.9h-0.9zM312.5 113.7h0.9v0.9h-0.9zM298.5 104.0h0.9v0.9h-0.9zM310.9 81.5h0.9v0.9h-0.9zM301.2 94.4h0.9v0.9h-0.9zM300.3 98.8h0.9v0.9h-0.9zM311.7 114.7h0.9v0.9h-0.9zM300.9 118.1h0.9v0.9h-0.9zM311.8 110.8h0.9v0.9h-0.9zM302.1 95.7h0.9v0.9h-0.9zM307.4 113.7h0.9v0.9h-0.9zM301.9 84.0h0.9v0.9h-0.9zM308.6 113.2h0.9v0.9h-0.9zM299.3 115.7h0.9v0.9h-0.9zM297.4 118.7h0.9v0.9h-0.9zM299.0 104.6h0.9v0.9h-0.9zM298.7 87.5h0.9v0.9h-0.9zM310.5 118.1h0.9v0.9h-0.9zM309.3 77.5h0.9v0.9h-0.9zM299.2 117.5h0.9v0.9h-0.9zM308.0 97.0h0.9v0.9h-0.9zM299.9 118.2h0.9v0.9h-0.9zM302.5 96.1h0.9v0.9h-0.9zM311.9 103.9h0.9v0.9h-0.9zM300.4 102.6h0.9v0.9h-0.9zM312.3 117.3h0.9v0.9h-0.9zM301.5 95.0h0.9v0.9h-0.9zM310.1 75.5h0.9v0.9h-0.9zM298.8 103.6h0.9v0.9h-0.9zM307.9 107.5h0.9v0.9h-0.9zM298.5 109.5h0.9v0.9h-0.9zM302.3 116.0h0.9v0.9h-0.9zM301.1 110.3h0.9v0.9h-0.9zM302.9 86.2h0.9v0.9h-0.9zM306.8 117.0h0.9v0.9h-0.9zM299.7 117.0h0.9v0.9h-0.9zM308.6 100.7h0.9v0.9h-0.9zM311.5 112.9h0.9v0.9h-0.9zM301.3 106.2h0.9v0.9h-0.9zM301.3 118.7h0.9v0.9h-0.9zM299.1 117.0h0.9v0.9h-0.9zM306.9 117.3h0.9v0.9h-0.9zM299.3 115.5h0.9v0.9h-0.9zM310.3 108.1h0.9v0.9h-0.9zM312.1 103.3h0.9v0.9h-0.9zM310.4 91.6h0.9v0.9h-0.9zM308.3 92.5h0.9v0.9h-0.9zM311.5 107.9h0.9v0.9h-0.9zM312.5 117.8h0.9v0.9h-0.9zM302.4 112.5h0.9v0.9h-0.9zM308.5 73.5h0.9v0.9h-0.9zM310.6 111.8h0.9v0.9h-0.9zM310.7 115.6h0.9v0.9h-0.9zM298.2 93.1h0.9v0.9h-0.9zM309.7 117.1h0.9v0.9h-0.9zM298.9 104.6h0.9v0.9h-0.9zM310.6 116.8h0.9v0.9h-0.9zM298.6 117.4h0.9v0.9h-0.9zM311.6 118.6h0.9v0.9h-0.9zM307.5 118.2h0.9v0.9h-0.9zM312.8 117.0h0.9v0.9h-0.9zM301.6 109.8h0.9v0.9h-0.9zM309.1 114.6h0.9v0.9h-0.9zM311.0 113.0h0.9v0.9h-0.9zM309.3 103.3h0.9v0.9h-0.9zM301.0 74.8h0.9v0.9h-0.9zM299.4 83.4h0.9v0.9h-0.9zM312.8 110.4h0.9v0.9h-0.9zM297.9 117.7h0.9v0.9h-0.9zM302.7 106.1h0.9v0.9h-0.9zM298.8 118.4h0.9v0.9h-0.9zM309.6 117.0h0.9v0.9h-0.9zM311.7 104.3h0.9v0.9h-0.9zM310.9 90.0h0.9v0.9h-0.9zM300.2 72.9h0.9v0.9h-0.9zM308.0 117.7h0.9v0.9h-0.9zM307.2 112.2h0.9v0.9h-0.9zM298.2 101.0h0.9v0.9h-0.9zM302.9 90.0h0.9v0.9h-0.9zM311.9 105.9h0.9v0.9h-0.9zM307.4 112.9h0.9v0.9h-0.9zM301.6 99.6h0.9v0.9h-0.9zM312.1 113.3h0.9v0.9h-0.9zM303.3 117.2h0.9v0.9h-0.9zM297.3 114.9h0.9v0.9h-0.9zM300.8 108.7h0.9v0.9h-0.9zM310.0 102.7h0.9v0.9h-0.9zM312.0 116.4h0.9v0.9h-0.9zM301.1 88.5h0.9v0.9h-0.9zM306.8 118.4h0.9v0.9h-0.9zM312.6 95.1h0.9v0.9h-0.9zM308.2 118.0h0.9v0.9h-0.9zM303.3 104.7h0.9v0.9h-0.9zM300.3 118.6h0.9v0.9h-0.9zM299.5 117.3h0.9v0.9h-0.9zM298.1 115.2h0.9v0.9h-0.9zM301.0 110.9h0.9v0.9h-0.9zM299.2 102.2h0.9v0.9h-0.9zM300.2 96.3h0.9v0.9h-0.9zM308.7 94.5h0.9v0.9h-0.9zM300.4 118.5h0.9v0.9h-0.9zM298.8 114.9h0.9v0.9h-0.9zM303.0 118.5h0.9v0.9h-0.9zM309.3 106.1h0.9v0.9h-0.9zM307.3 116.5h0.9v0.9h-0.9zM310.5 114.8h0.9v0.9h-0.9zM302.1 112.7h0.9v0.9h-0.9zM300.9 90.6h0.9v0.9h-0.9zM308.8 84.1h0.9v0.9h-0.9zM302.7 115.7h0.9v0.9h-0.9zM310.7 117.4h0.9v0.9h-0.9zM309.0 108.9h0.9v0.9h-0.9zM303.0 118.4h0.9v0.9h-0.9zM312.4 109.8h0.9v0.9h-0.9zM310.2 102.8h0.9v0.9h-0.9zM312.2 105.8h0.9v0.9h-0.9zM298.6 117.4h0.9v0.9h-0.9zM312.2 113.4h0.9v0.9h-0.9zM309.8 118.7h0.9v0.9h-0.9zM308.6 119.0h0.9v0.9h-0.9zM298.5 92.0h0.9v0.9h-0.9zM311.9 106.9h0.9v0.9h-0.9zM307.8 85.9h0.9v0.9h-0.9zM300.2 80.9h0.9v0.9h-0.9zM297.3 108.6h0.9v0.9h-0.9zM311.7 117.6h0.9v0.9h-0.9zM310.6 104.0h0.9v0.9h-0.9zM299.9 118.0h0.9v0.9h-0.9zM312.7 106.3h0.9v0.9h-0.9zM312.8 99.3h0.9v0.9h-0.9zM301.7 116.8h0.9v0.9h-0.9zM303.4 115.8h0.9v0.9h-0.9zM301.9 108.3h0.9v0.9h-0.9zM310.3 112.5h0.9v0.9h-0.9zM301.7 103.9h0.9v0.9h-0.9zM298.3 107.0h0.9v0.9h-0.9zM309.0 119.0h0.9v0.9h-0.9zM301.0 118.9h0.9v0.9h-0.9zM301.1 84.6h0.9v0.9h-0.9zM311.0 115.6h0.9v0.9h-0.9zM309.5 103.6h0.9v0.9h-0.9zM311.3 109.7h0.9v0.9h-0.9zM298.5 112.5h0.9v0.9h-0.9zM300.0 115.5h0.9v0.9h-0.9zM308.4 106.0h0.9v0.9h-0.9zM310.5 118.3h0.9v0.9h-0.9zM300.6 118.7h0.9v0.9h-0.9zM300.2 107.9h0.9v0.9h-0.9zM310.0 90.1h0.9v0.9h-0.9zM302.1 115.3h0.9v0.9h-0.9zM311.0 114.6h0.9v0.9h-0.9zM308.5 96.7h0.9v0.9h-0.9zM300.8 104.7h0.9v0.9h-0.9zM307.2 112.1h0.9v0.9h-0.9zM313.0 110.8h0.9v0.9h-0.9zM300.4 105.3h0.9v0.9h-0.9zM299.2 114.8h0.9v0.9h-0.9zM312.4 113.4h0.9v0.9h-0.9zM307.0 116.5h0.9v0.9h-0.9zM311.0 118.8h0.9v0.9h-0.9zM298.6 114.1h0.9v0.9h-0.9zM307.8 99.8h0.9v0.9h-0.9zM309.8 116.7h0.9v0.9h-0.9zM312.7 103.6h0.9v0.9h-0.9zM308.6 115.8h0.9v0.9h-0.9zM299.1 96.9h0.9v0.9h-0.9zM310.1 115.3h0.9v0.9h-0.9zM300.7 96.7h0.9v0.9h-0.9zM302.2 115.7h0.9v0.9h-0.9zM299.5 84.5h0.9v0.9h-0.9zM308.0 114.5h0.9v0.9h-0.9zM297.3 110.2h0.9v0.9h-0.9zM308.3 95.5h0.9v0.9h-0.9zM297.7 117.9h0.9v0.9h-0.9zM300.3 95.8h0.9v0.9h-0.9zM307.5 113.9h0.9v0.9h-0.9zM312.9 115.7h0.9v0.9h-0.9zM297.5 118.9h0.9v0.9h-0.9zM300.1 109.4h0.9v0.9h-0.9zM309.0 116.6h0.9v0.9h-0.9zM299.9 83.5h0.9v0.9h-0.9zM309.4 112.0h0.9v0.9h-0.9zM303.1 101.5h0.9v0.9h-0.9zM301.6 112.3h0.9v0.9h-0.9zM308.8 95.7h0.9v0.9h-0.9zM302.3 111.6h0.9v0.9h-0.9zM309.1 104.8h0.9v0.9h-0.9zM309.5 76.3h0.9v0.9h-0.9zM298.7 75.0h0.9v0.9h-0.9zM300.8 116.7h0.9v0.9h-0.9zM303.4 118.6h0.9v0.9h-0.9zM309.4 116.2h0.9v0.9h-0.9zM308.1 114.6h0.9v0.9h-0.9zM297.9 117.4h0.9v0.9h-0.9zM312.7 117.8h0.9v0.9h-0.9zM302.3 90.5h0.9v0.9h-0.9zM307.4 110.2h0.9v0.9h-0.9zM302.9 118.3h0.9v0.9h-0.9zM311.1 70.6h0.9v0.9h-0.9zM302.3 100.1h0.9v0.9h-0.9zM302.6 116.8h0.9v0.9h-0.9zM298.5 118.4h0.9v0.9h-0.9zM301.0 108.5h0.9v0.9h-0.9zM307.3 100.0h0.9v0.9h-0.9zM308.9 112.8h0.9v0.9h-0.9zM303.4 107.7h0.9v0.9h-0.9zM302.4 101.2h0.9v0.9h-0.9zM313.1 113.3h0.9v0.9h-0.9zM299.2 101.4h0.9v0.9h-0.9zM300.1 106.0h0.9v0.9h-0.9zM303.1 107.1h0.9v0.9h-0.9zM307.2 112.8h0.9v0.9h-0.9zM297.6 96.4h0.9v0.9h-0.9zM308.1 105.5h0.9v0.9h-0.9zM302.9 94.7h0.9v0.9h-0.9zM302.0 99.1h0.9v0.9h-0.9zM303.1 107.4h0.9v0.9h-0.9zM310.9 116.3h0.9v0.9h-0.9zM301.0 111.8h0.9v0.9h-0.9zM312.9 107.9h0.9v0.9h-0.9zM311.9 103.8h0.9v0.9h-0.9zM300.6 112.4h0.9v0.9h-0.9zM308.4 114.9h0.9v0.9h-0.9zM307.6 114.1h0.9v0.9h-0.9zM311.1 94.9h0.9v0.9h-0.9zM302.4 108.2h0.9v0.9h-0.9zM298.8 97.8h0.9v0.9h-0.9zM298.3 105.5h0.9v0.9h-0.9zM298.0 94.3h0.9v0.9h-0.9zM308.1 85.9h0.9v0.9h-0.9zM298.2 116.1h0.9v0.9h-0.9zM298.9 114.9h0.9v0.9h-0.9zM301.9 117.4h0.9v0.9h-0.9zM310.8 116.2h0.9v0.9h-0.9zM308.9 81.5h0.9v0.9h-0.9zM309.0 118.0h0.9v0.9h-0.9zM309.1 118.3h0.9v0.9h-0.9zM299.3 94.1h0.9v0.9h-0.9zM310.5 118.8h0.9v0.9h-0.9zM298.1 96.0h0.9v0.9h-0.9zM313.2 113.2h0.9v0.9h-0.9zM312.0 116.8h0.9v0.9h-0.9zM298.0 112.6h0.9v0.9h-0.9zM298.5 113.8h0.9v0.9h-0.9zM299.2 118.2h0.9v0.9h-0.9zM310.5 86.6h0.9v0.9h-0.9zM310.2 117.9h0.9v0.9h-0.9zM302.0 106.2h0.9v0.9h-0.9zM309.9 116.4h0.9v0.9h-0.9zM311.6 113.7h0.9v0.9h-0.9zM311.5 113.2h0.9v0.9h-0.9zM308.0 114.2h0.9v0.9h-0.9zM301.7 95.5h0.9v0.9h-0.9zM303.2 108.8h0.9v0.9h-0.9zM309.2 99.9h0.9v0.9h-0.9zM308.1 116.3h0.9v0.9h-0.9zM309.1 100.0h0.9v0.9h-0.9zM301.9 86.5h0.9v0.9h-0.9zM303.2 106.0h0.9v0.9h-0.9zM311.5 107.3h0.9v0.9h-0.9zM300.4 104.2h0.9v0.9h-0.9zM299.7 96.1h0.9v0.9h-0.9zM307.4 105.8h0.9v0.9h-0.9zM310.9 109.4h0.9v0.9h-0.9zM307.2 102.2h0.9v0.9h-0.9zM308.5 96.4h0.9v0.9h-0.9zM309.1 116.4h0.9v0.9h-0.9zM301.8 108.7h0.9v0.9h-0.9zM312.0 117.1h0.9v0.9h-0.9zM298.3 114.8h0.9v0.9h-0.9zM308.2 89.6h0.9v0.9h-0.9zM301.6 102.9h0.9v0.9h-0.9zM303.4 116.0h0.9v0.9h-0.9zM309.7 114.3h0.9v0.9h-0.9zM301.5 102.2h0.9v0.9h-0.9zM300.1 112.4h0.9v0.9h-0.9zM310.1 112.5h0.9v0.9h-0.9zM309.7 118.1h0.9v0.9h-0.9zM301.4 114.2h0.9v0.9h-0.9zM311.6 89.8h0.9v0.9h-0.9zM300.6 85.2h0.9v0.9h-0.9zM311.0 114.4h0.9v0.9h-0.9zM311.4 101.1h0.9v0.9h-0.9zM300.2 105.4h0.9v0.9h-0.9zM307.4 107.4h0.9v0.9h-0.9zM299.0 95.3h0.9v0.9h-0.9zM299.8 95.6h0.9v0.9h-0.9zM303.3 111.5h0.9v0.9h-0.9zM308.0 99.6h0.9v0.9h-0.9zM309.1 89.9h0.9v0.9h-0.9zM301.2 98.7h0.9v0.9h-0.9zM299.5 102.8h0.9v0.9h-0.9zM302.3 114.1h0.9v0.9h-0.9zM310.4 112.9h0.9v0.9h-0.9zM307.0 100.1h0.9v0.9h-0.9zM298.2 103.2h0.9v0.9h-0.9zM308.3 111.1h0.9v0.9h-0.9zM307.9 117.3h0.9v0.9h-0.9zM307.9 78.2h0.9v0.9h-0.9zM311.9 99.1h0.9v0.9h-0.9zM313.2 117.6h0.9v0.9h-0.9zM301.8 91.7h0.9v0.9h-0.9zM299.5 82.9h0.9v0.9h-0.9zM300.4 110.2h0.9v0.9h-0.9zM309.1 95.7h0.9v0.9h-0.9zM308.5 117.3h0.9v0.9h-0.9zM303.2 102.5h0.9v0.9h-0.9zM300.6 80.8h0.9v0.9h-0.9zM310.0 95.9h0.9v0.9h-0.9zM308.6 70.9h0.9v0.9h-0.9zM312.3 102.6h0.9v0.9h-0.9zM300.6 118.0h0.9v0.9h-0.9zM299.6 114.5h0.9v0.9h-0.9zM311.5 82.1h0.9v0.9h-0.9zM311.7 115.9h0.9v0.9h-0.9zM297.4 113.8h0.9v0.9h-0.9zM310.2 105.9h0.9v0.9h-0.9zM312.3 114.6h0.9v0.9h-0.9zM310.9 98.7h0.9v0.9h-0.9zM300.4 94.1h0.9v0.9h-0.9zM302.3 106.9h0.9v0.9h-0.9zM299.4 109.8h0.9v0.9h-0.9zM310.3 106.4h0.9v0.9h-0.9zM309.7 104.1h0.9v0.9h-0.9zM311.1 96.2h0.9v0.9h-0.9zM302.5 114.9h0.9v0.9h-0.9zM312.5 115.4h0.9v0.9h-0.9zM303.5 113.6h0.9v0.9h-0.9zM301.4 98.6h0.9v0.9h-0.9zM311.2 101.0h0.9v0.9h-0.9zM309.5 74.2h0.9v0.9h-0.9zM311.3 106.4h0.9v0.9h-0.9zM312.2 105.2h0.9v0.9h-0.9zM300.0 83.3h0.9v0.9h-0.9zM298.3 110.7h0.9v0.9h-0.9zM310.5 109.0h0.9v0.9h-0.9zM313.0 117.9h0.9v0.9h-0.9zM300.1 90.7h0.9v0.9h-0.9zM307.6 93.0h0.9v0.9h-0.9zM300.1 90.7h0.9v0.9h-0.9zM311.9 90.4h0.9v0.9h-0.9zM308.6 92.1h0.9v0.9h-0.9zM308.3 101.5h0.9v0.9h-0.9zM303.4 116.9h0.9v0.9h-0.9zM301.9 95.5h0.9v0.9h-0.9zM299.5 111.6h0.9v0.9h-0.9zM310.8 115.9h0.9v0.9h-0.9zM308.6 114.6h0.9v0.9h-0.9zM302.3 85.2h0.9v0.9h-0.9zM309.3 107.1h0.9v0.9h-0.9zM297.7 117.9h0.9v0.9h-0.9zM311.4 114.9h0.9v0.9h-0.9zM302.4 117.3h0.9v0.9h-0.9zM300.1 106.0h0.9v0.9h-0.9zM312.4 118.9h0.9v0.9h-0.9zM302.2 104.7h0.9v0.9h-0.9zM298.0 104.7h0.9v0.9h-0.9zM301.2 114.7h0.9v0.9h-0.9zM303.0 99.8h0.9v0.9h-0.9zM302.1 103.3h0.9v0.9h-0.9zM313.1 111.0h0.9v0.9h-0.9zM302.4 79.9h0.9v0.9h-0.9zM308.2 118.8h0.9v0.9h-0.9zM310.8 89.8h0.9v0.9h-0.9zM298.1 110.1h0.9v0.9h-0.9zM299.4 112.5h0.9v0.9h-0.9zM311.8 98.1h0.9v0.9h-0.9zM310.8 86.1h0.9v0.9h-0.9zM310.0 118.6h0.9v0.9h-0.9zM312.2 105.4h0.9v0.9h-0.9zM310.3 71.0h0.9v0.9h-0.9zM303.2 108.5h0.9v0.9h-0.9zM310.9 118.6h0.9v0.9h-0.9zM309.0 116.2h0.9v0.9h-0.9zM303.0 105.2h0.9v0.9h-0.9zM310.7 89.2h0.9v0.9h-0.9zM302.2 112.3h0.9v0.9h-0.9zM299.8 101.3h0.9v0.9h-0.9zM297.8 108.3h0.9v0.9h-0.9zM312.8 103.1h0.9v0.9h-0.9zM311.0 80.4h0.9v0.9h-0.9zM301.6 116.3h0.9v0.9h-0.9zM312.0 117.9h0.9v0.9h-0.9zM297.3 111.1h0.9v0.9h-0.9zM310.5 112.0h0.9v0.9h-0.9zM310.9 116.0h0.9v0.9h-0.9zM300.2 106.3h0.9v0.9h-0.9zM301.6 104.6h0.9v0.9h-0.9zM299.7 118.5h0.9v0.9h-0.9zM308.9 117.6h0.9v0.9h-0.9zM307.0 114.2h0.9v0.9h-0.9zM298.1 117.0h0.9v0.9h-0.9zM301.4 108.8h0.9v0.9h-0.9zM299.4 104.9h0.9v0.9h-0.9zM301.1 81.0h0.9v0.9h-0.9zM300.3 118.2h0.9v0.9h-0.9zM299.8 100.9h0.9v0.9h-0.9zM298.7 98.9h0.9v0.9h-0.9zM299.1 86.4h0.9v0.9h-0.9zM298.5 110.1h0.9v0.9h-0.9zM299.4 109.0h0.9v0.9h-0.9zM300.7 97.9h0.9v0.9h-0.9zM298.5 114.7h0.9v0.9h-0.9zM307.9 116.6h0.9v0.9h-0.9zM301.3 81.4h0.9v0.9h-0.9zM300.8 118.3h0.9v0.9h-0.9zM298.2 93.0h0.9v0.9h-0.9zM309.4 113.5h0.9v0.9h-0.9zM298.0 95.3h0.9v0.9h-0.9zM312.7 117.8h0.9v0.9h-0.9zM298.2 108.0h0.9v0.9h-0.9zM301.6 113.6h0.9v0.9h-0.9zM298.6 88.3h0.9v0.9h-0.9zM310.4 87.7h0.9v0.9h-0.9zM312.0 114.6h0.9v0.9h-0.9zM303.4 113.0h0.9v0.9h-0.9zM309.1 118.2h0.9v0.9h-0.9zM300.9 118.7h0.9v0.9h-0.9zM298.2 101.6h0.9v0.9h-0.9zM308.1 114.5h0.9v0.9h-0.9zM303.3 111.2h0.9v0.9h-0.9zM301.4 116.2h0.9v0.9h-0.9zM299.9 116.7h0.9v0.9h-0.9zM312.4 94.7h0.9v0.9h-0.9zM309.8 92.0h0.9v0.9h-0.9zM300.1 103.3h0.9v0.9h-0.9zM298.7 93.1h0.9v0.9h-0.9zM302.5 101.5h0.9v0.9h-0.9zM302.4 112.3h0.9v0.9h-0.9zM312.6 107.1h0.9v0.9h-0.9zM311.9 80.2h0.9v0.9h-0.9zM307.5 113.9h0.9v0.9h-0.9zM298.1 74.9h0.9v0.9h-0.9zM312.5 94.5h0.9v0.9h-0.9zM310.2 103.4h0.9v0.9h-0.9zM307.7 98.8h0.9v0.9h-0.9zM310.7 78.4h0.9v0.9h-0.9zM301.5 95.0h0.9v0.9h-0.9zM301.6 113.6h0.9v0.9h-0.9zM307.2 117.8h0.9v0.9h-0.9zM312.7 116.2h0.9v0.9h-0.9zM307.8 110.9h0.9v0.9h-0.9zM310.5 113.6h0.9v0.9h-0.9zM311.2 79.1h0.9v0.9h-0.9zM308.2 114.7h0.9v0.9h-0.9zM300.8 110.9h0.9v0.9h-0.9zM306.8 118.1h0.9v0.9h-0.9zM302.3 102.0h0.9v0.9h-0.9zM299.0 110.9h0.9v0.9h-0.9zM309.9 115.6h0.9v0.9h-0.9zM311.5 108.4h0.9v0.9h-0.9zM312.2 111.3h0.9v0.9h-0.9zM312.5 114.5h0.9v0.9h-0.9zM297.5 114.3h0.9v0.9h-0.9zM309.7 117.3h0.9v0.9h-0.9zM310.3 103.7h0.9v0.9h-0.9zM312.2 106.9h0.9v0.9h-0.9zM307.1 104.0h0.9v0.9h-0.9zM308.0 116.2h0.9v0.9h-0.9zM313.1 110.7h0.9v0.9h-0.9zM307.3 118.7h0.9v0.9h-0.9zM309.1 87.6h0.9v0.9h-0.9zM301.6 108.4h0.9v0.9h-0.9zM299.7 114.4h0.9v0.9h-0.9zM303.1 119.0h0.9v0.9h-0.9zM298.4 106.7h0.9v0.9h-0.9zM299.3 101.1h0.9v0.9h-0.9zM309.1 112.6h0.9v0.9h-0.9zM303.4 107.2h0.9v0.9h-0.9zM302.9 113.5h0.9v0.9h-0.9zM302.4 88.2h0.9v0.9h-0.9zM312.6 111.6h0.9v0.9h-0.9zM311.8 115.1h0.9v0.9h-0.9zM302.5 85.8h0.9v0.9h-0.9zM302.8 117.5h0.9v0.9h-0.9zM312.1 107.6h0.9v0.9h-0.9zM312.5 97.9h0.9v0.9h-0.9zM300.7 88.2h0.9v0.9h-0.9zM298.4 104.1h0.9v0.9h-0.9zM301.3 110.2h0.9v0.9h-0.9zM310.0 115.3h0.9v0.9h-0.9zM308.9 105.3h0.9v0.9h-0.9zM312.1 112.9h0.9v0.9h-0.9zM298.6 91.8h0.9v0.9h-0.9zM298.9 115.8h0.9v0.9h-0.9zM302.9 103.8h0.9v0.9h-0.9zM297.9 106.3h0.9v0.9h-0.9zM298.2 81.6h0.9v0.9h-0.9zM300.8 112.7h0.9v0.9h-0.9zM311.0 111.0h0.9v0.9h-0.9zM309.6 115.2h0.9v0.9h-0.9zM299.7 92.4h0.9v0.9h-0.9zM298.4 118.4h0.9v0.9h-0.9zM308.1 108.7h0.9v0.9h-0.9zM297.9 115.3h0.9v0.9h-0.9zM299.9 111.6h0.9v0.9h-0.9zM299.1 77.7h0.9v0.9h-0.9zM310.7 109.0h0.9v0.9h-0.9zM312.0 79.9h0.9v0.9h-0.9zM311.4 106.6h0.9v0.9h-0.9zM312.5 110.3h0.9v0.9h-0.9zM308.3 111.7h0.9v0.9h-0.9zM307.1 112.6h0.9v0.9h-0.9zM308.7 101.9h0.9v0.9h-0.9zM302.9 99.5h0.9v0.9h-0.9zM300.9 115.8h0.9v0.9h-0.9zM309.4 104.0h0.9v0.9h-0.9zM299.3 118.8h0.9v0.9h-0.9zM310.2 110.0h0.9v0.9h-0.9zM307.5 105.7h0.9v0.9h-0.9zM300.0 90.8h0.9v0.9h-0.9zM307.2 97.2h0.9v0.9h-0.9zM312.2 111.9h0.9v0.9h-0.9zM308.9 103.8h0.9v0.9h-0.9zM312.9 104.6h0.9v0.9h-0.9zM310.1 100.7h0.9v0.9h-0.9zM302.4 111.5h0.9v0.9h-0.9zM302.2 71.2h0.9v0.9h-0.9zM307.4 107.5h0.9v0.9h-0.9zM311.1 104.7h0.9v0.9h-0.9zM309.8 114.9h0.9v0.9h-0.9zM310.1 106.6h0.9v0.9h-0.9zM299.3 96.3h0.9v0.9h-0.9zM303.2 118.5h0.9v0.9h-0.9zM313.0 110.0h0.9v0.9h-0.9zM298.9 96.2h0.9v0.9h-0.9zM301.7 106.3h0.9v0.9h-0.9zM308.6 108.8h0.9v0.9h-0.9zM301.6 92.4h0.9v0.9h-0.9zM302.6 114.4h0.9v0.9h-0.9zM307.7 115.3h0.9v0.9h-0.9zM301.5 118.3h0.9v0.9h-0.9zM312.9 106.4h0.9v0.9h-0.9z" fill="#a4a4a4" fill-opacity="0.5"/>
<path d="M277.3 116.7h1.0v1.0h-1.0zM281.2 114.0h1.0v1.0h-1.0zM296.7 73.1h1.0v1.0h-1.0zM291.4 109.5h1.0v1.0h-1.0zM295.4 100.5h1.0v1.0h-1.0zM297.3 69.7h1.0v1.0h-1.0zM273.6 106.2h1.0v1.0h-1.0zM282.9 78.6h1.0v1.0h-1.0zM269.0 106.0h1.0v1.0h-1.0zM276.3 117.8h1.0v1.0h-1.0zM281.4 116.8h1.0v1.0h-1.0zM282.1 95.7h1.0v1.0h-1.0zM297.7 60.4h1.0v1.0h-1.0zM295.1 116.9h1.0v1.0h-1.0zM284.8 78.9h1.0v1.0h-1.0zM297.4 110.1h1.0v1.0h-1.0zM291.5 112.3h1.0v1.0h-1.0zM289.9 114.8h1.0v1.0h-1.0zM293.3 112.7h1.0v1.0h-1.0zM294.6 110.2h1.0v1.0h-1.0zM280.8 116.5h1.0v1.0h-1.0zM287.3 114.9h1.0v1.0h-1.0zM285.4 110.2h1.0v1.0h-1.0zM291.2 118.7h1.0v1.0h-1.0zM295.5 110.1h1.0v1.0h-1.0zM273.4 101.8h1.0v1.0h-1.0zM279.7 108.6h1.0v1.0h-1.0zM273.7 118.4h1.0v1.0h-1.0zM293.4 63.5h1.0v1.0h-1.0zM288.6 116.5h1.0v1.0h-1.0zM283.7 117.9h1.0v1.0h-1.0zM297.4 100.0h1.0v1.0h-1.0zM295.3 99.5h1.0v1.0h-1.0zM295.9 110.7h1.0v1.0h-1.0zM297.0 108.7h1.0v1.0h-1.0zM288.2 104.2h1.0v1.0h-1.0zM296.4 101.7h1.0v1.0h-1.0zM282.6 114.7h1.0v1.0h-1.0zM291.3 108.7h1.0v1.0h-1.0zM293.6 105.7h1.0v1.0h-1.0zM297.5 113.7h1.0v1.0h-1.0zM290.4 107.2h1.0v1.0h-1.0zM295.6 72.8h1.0v1.0h-1.0zM297.4 51.9h1.0v1.0h-1.0zM286.2 106.7h1.0v1.0h-1.0zM276.0 117.7h1.0v1.0h-1.0zM295.6 114.8h1.0v1.0h-1.0zM296.6 118.5h1.0v1.0h-1.0zM290.5 117.7h1.0v1.0h-1.0zM279.5 117.9h1.0v1.0h-1.0zM290.9 113.4h1.0v1.0h-1.0zM291.8 80.5h1.0v1.0h-1.0zM291.1 118.6h1.0v1.0h-1.0zM295.9 104.2h1.0v1.0h-1.0zM294.2 113.0h1.0v1.0h-1.0zM285.3 114.6h1.0v1.0h-1.0zM283.0 99.4h1.0v1.0h-1.0zM289.8 103.1h1.0v1.0h-1.0zM284.8 93.4h1.0v1.0h-1.0zM297.0 92.6h1.0v1.0h-1.0zM297.2 115.9h1.0v1.0h-1.0zM294.1 116.9h1.0v1.0h-1.0zM286.3 91.9h1.0v1.0h-1.0zM282.9 113.4h1.0v1.0h-1.0zM278.1 116.2h1.0v1.0h-1.0zM294.3 113.1h1.0v1.0h-1.0zM284.3 116.9h1.0v1.0h-1.0zM286.1 111.4h1.0v1.0h-1.0zM290.6 114.3h1.0v1.0h-1.0zM281.9 109.4h1.0v1.0h-1.0zM295.9 110.8h1.0v1.0h-1.0zM297.0 111.5h1.0v1.0h-1.0zM285.3 92.6h1.0v1.0h-1.0zM288.4 104.7h1.0v1.0h-1.0zM287.7 114.4h1.0v1.0h-1.0zM291.1 110.3h1.0v1.0h-1.0zM293.7 112.1h1.0v1.0h-1.0zM279.9 111.0h1.0v1.0h-1.0zM287.2 90.5h1.0v1.0h-1.0zM285.6 117.9h1.0v1.0h-1.0zM290.3 104.0h1.0v1.0h-1.0zM296.5 109.2h1.0v1.0h-1.0zM293.4 104.0h1.0v1.0h-1.0zM289.6 118.8h1.0v1.0h-1.0zM297.2 99.9h1.0v1.0h-1.0zM292.3 103.7h1.0v1.0h-1.0zM297.1 102.0h1.0v1.0h-1.0zM291.5 101.2h1.0v1.0h-1.0zM294.0 71.0h1.0v1.0h-1.0zM276.9 118.1h1.0v1.0h-1.0zM296.7 95.3h1.0v1.0h-1.0zM285.9 116.1h1.0v1.0h-1.0zM292.0 118.5h1.0v1.0h-1.0zM287.9 101.6h1.0v1.0h-1.0zM287.8 116.2h1.0v1.0h-1.0zM293.1 114.1h1.0v1.0h-1.0zM285.4 117.7h1.0v1.0h-1.0zM291.2 99.0h1.0v1.0h-1.0zM282.0 94.0h1.0v1.0h-1.0zM283.4 118.8h1.0v1.0h-1.0zM293.7 100.7h1.0v1.0h-1.0zM278.7 77.2h1.0v1.0h-1.0zM291.9 114.1h1.0v1.0h-1.0zM292.9 118.9h1.0v1.0h-1.0zM287.1 99.6h1.0v1.0h-1.0zM296.2 110.8h1.0v1.0h-1.0zM294.1 112.0h1.0v1.0h-1.0zM292.3 117.4h1.0v1.0h-1.0zM278.1 114.0h1.0v1.0h-1.0zM289.6 118.4h1.0v1.0h-1.0zM296.2 116.7h1.0v1.0h-1.0zM292.5 113.6h1.0v1.0h-1.0zM274.9 96.8h1.0v1.0h-1.0zM290.6 97.5h1.0v1.0h-1.0zM290.2 79.0h1.0v1.0h-1.0zM294.5 115.6h1.0v1.0h-1.0zM287.7 76.2h1.0v1.0h-1.0zM286.0 107.4h1.0v1.0h-1.0zM284.8 117.1h1.0v1.0h-1.0zM283.1 97.9h1.0v1.0h-1.0zM297.0 53.2h1.0v1.0h-1.0zM280.4 118.2h1.0v1.0h-1.0zM292.1 90.7h1.0v1.0h-1.0zM294.1 108.5h1.0v1.0h-1.0zM293.7 99.9h1.0v1.0h-1.0zM284.1 101.9h1.0v1.0h-1.0zM282.9 110.0h1.0v1.0h-1.0zM278.7 103.7h1.0v1.0h-1.0zM285.9 116.2h1.0v1.0h-1.0zM294.6 117.8h1.0v1.0h-1.0zM292.2 109.9h1.0v1.0h-1.0zM293.1 110.3h1.0v1.0h-1.0zM297.6 118.2h1.0v1.0h-1.0zM274.6 113.6h1.0v1.0h-1.0zM274.7 107.7h1.0v1.0h-1.0zM280.0 117.3h1.0v1.0h-1.0zM294.8 54.8h1.0v1.0h-1.0zM280.3 118.3h1.0v1.0h-1.0zM293.2 44.6h1.0v1.0h-1.0zM286.1 112.4h1.0v1.0h-1.0zM297.3 92.5h1.0v1.0h-1.0zM293.5 94.8h1.0v1.0h-1.0zM291.8 118.9h1.0v1.0h-1.0zM288.7 93.1h1.0v1.0h-1.0zM283.9 108.1h1.0v1.0h-1.0zM295.7 81.6h1.0v1.0h-1.0zM289.1 110.1h1.0v1.0h-1.0zM284.5 115.5h1.0v1.0h-1.0zM294.5 117.6h1.0v1.0h-1.0zM267.7 110.1h1.0v1.0h-1.0zM283.1 118.8h1.0v1.0h-1.0zM268.2 118.3h1.0v1.0h-1.0zM297.4 80.6h1.0v1.0h-1.0zM271.8 118.8h1.0v1.0h-1.0zM296.8 111.4h1.0v1.0h-1.0zM294.2 117.6h1.0v1.0h-1.0zM289.6 97.6h1.0v1.0h-1.0zM293.7 114.0h1.0v1.0h-1.0zM280.2 109.4h1.0v1.0h-1.0zM292.1 117.8h1.0v1.0h-1.0zM289.1 117.8h1.0v1.0h-1.0zM293.5 111.3h1.0v1.0h-1.0zM287.6 118.6h1.0v1.0h-1.0zM283.0 114.1h1.0v1.0h-1.0zM282.7 118.6h1.0v1.0h-1.0zM296.3 102.9h1.0v1.0h-1.0zM287.6 106.4h1.0v1.0h-1.0zM293.9 83.6h1.0v1.0h-1.0zM288.5 91.5h1.0v1.0h-1.0zM293.2 97.1h1.0v1.0h-1.0zM293.8 116.2h1.0v1.0h-1.0zM285.3 91.6h1.0v1.0h-1.0zM284.1 104.6h1.0v1.0h-1.0zM273.0 92.2h1.0v1.0h-1.0zM292.9 106.2h1.0v1.0h-1.0zM288.2 107.0h1.0v1.0h-1.0zM293.9 108.9h1.0v1.0h-1.0zM282.1 90.4h1.0v1.0h-1.0zM289.6 89.4h1.0v1.0h-1.0zM287.1 110.3h1.0v1.0h-1.0zM296.0 113.4h1.0v1.0h-1.0zM285.9 108.6h1.0v1.0h-1.0zM288.2 100.3h1.0v1.0h-1.0zM277.7 117.8h1.0v1.0h-1.0zM278.5 119.0h1.0v1.0h-1.0zM291.2 117.9h1.0v1.0h-1.0zM286.7 98.8h1.0v1.0h-1.0zM295.8 93.9h1.0v1.0h-1.0zM283.7 117.7h1.0v1.0h-1.0zM293.0 115.4h1.0v1.0h-1.0zM294.3 92.7h1.0v1.0h-1.0zM292.7 105.5h1.0v1.0h-1.0zM289.1 114.8h1.0v1.0h-1.0zM270.4 115.8h1.0v1.0h-1.0zM296.1 69.0h1.0v1.0h-1.0zM280.3 107.0h1.0v1.0h-1.0zM278.2 118.6h1.0v1.0h-1.0zM287.1 116.9h1.0v1.0h-1.0zM290.6 112.4h1.0v1.0h-1.0zM293.0 110.1h1.0v1.0h-1.0zM295.9 86.8h1.0v1.0h-1.0zM276.8 116.6h1.0v1.0h-1.0zM288.8 116.4h1.0v1.0h-1.0zM291.9 111.1h1.0v1.0h-1.0zM268.3 113.0h1.0v1.0h-1.0zM296.7 117.5h1.0v1.0h-1.0zM287.3 102.7h1.0v1.0h-1.0zM288.9 114.0h1.0v1.0h-1.0zM297.2 72.2h1.0v1.0h-1.0zM288.9 113.7h1.0v1.0h-1.0zM295.5 107.5h1.0v1.0h-1.0zM288.9 110.2h1.0v1.0h-1.0zM286.1 84.6h1.0v1.0h-1.0zM279.7 87.8h1.0v1.0h-1.0zM271.8 110.3h1.0v1.0h-1.0zM290.1 105.4h1.0v1.0h-1.0zM295.8 110.2h1.0v1.0h-1.0zM279.2 99.2h1.0v1.0h-1.0zM290.1 54.9h1.0v1.0h-1.0zM281.9 105.2h1.0v1.0h-1.0zM269.6 101.3h1.0v1.0h-1.0zM287.1 100.1h1.0v1.0h-1.0zM294.3 112.8h1.0v1.0h-1.0zM289.2 117.5h1.0v1.0h-1.0zM288.6 116.0h1.0v1.0h-1.0zM295.3 48.1h1.0v1.0h-1.0zM297.5 103.0h1.0v1.0h-1.0zM293.8 102.3h1.0v1.0h-1.0zM291.5 89.8h1.0v1.0h-1.0zM295.6 104.7h1.0v1.0h-1.0zM293.1 98.2h1.0v1.0h-1.0zM297.4 111.8h1.0v1.0h-1.0zM289.8 116.3h1.0v1.0h-1.0zM278.5 113.6h1.0v1.0h-1.0zM274.2 112.2h1.0v1.0h-1.0zM290.8 87.0h1.0v1.0h-1.0zM288.6 103.9h1.0v1.0h-1.0zM282.1 95.0h1.0v1.0h-1.0zM297.2 97.7h1.0v1.0h-1.0zM286.7 118.8h1.0v1.0h-1.0zM284.1 105.0h1.0v1.0h-1.0zM290.6 49.3h1.0v1.0h-1.0zM284.0 106.5h1.0v1.0h-1.0zM285.2 111.5h1.0v1.0h-1.0zM279.3 115.3h1.0v1.0h-1.0zM277.3 118.3h1.0v1.0h-1.0zM288.1 106.4h1.0v1.0h-1.0zM292.1 108.3h1.0v1.0h-1.0zM289.0 106.5h1.0v1.0h-1.0zM288.0 83.5h1.0v1.0h-1.0zM285.8 114.0h1.0v1.0h-1.0zM286.1 87.8h1.0v1.0h-1.0zM264.2 117.3h1.0v1.0h-1.0zM293.0 110.0h1.0v1.0h-1.0zM295.0 112.5h1.0v1.0h-1.0zM288.6 100.6h1.0v1.0h-1.0zM295.8 112.6h1.0v1.0h-1.0zM269.2 117.0h1.0v1.0h-1.0zM286.2 96.6h1.0v1.0h-1.0zM291.5 117.4h1.0v1.0h-1.0zM284.2 108.0h1.0v1.0h-1.0zM291.6 118.8h1.0v1.0h-1.0zM289.7 115.6h1.0v1.0h-1.0zM280.7 109.3h1.0v1.0h-1.0zM292.5 110.0h1.0v1.0h-1.0zM283.5 94.7h1.0v1.0h-1.0zM290.6 118.7h1.0v1.0h-1.0zM287.6 103.1h1.0v1.0h-1.0zM286.7 117.1h1.0v1.0h-1.0zM279.0 115.7h1.0v1.0h-1.0zM291.2 108.5h1.0v1.0h-1.0zM291.6 116.8h1.0v1.0h-1.0zM289.0 99.3h1.0v1.0h-1.0zM264.2 114.4h1.0v1.0h-1.0zM296.2 103.2h1.0v1.0h-1.0zM295.0 111.9h1.0v1.0h-1.0zM284.8 98.8h1.0v1.0h-1.0zM277.4 108.8h1.0v1.0h-1.0zM280.0 113.5h1.0v1.0h-1.0zM289.4 94.1h1.0v1.0h-1.0zM271.5 117.8h1.0v1.0h-1.0zM291.6 116.8h1.0v1.0h-1.0zM291.9 116.8h1.0v1.0h-1.0zM287.0 80.7h1.0v1.0h-1.0zM297.6 81.6h1.0v1.0h-1.0zM295.6 92.2h1.0v1.0h-1.0zM272.3 117.5h1.0v1.0h-1.0zM289.9 113.0h1.0v1.0h-1.0zM296.0 98.8h1.0v1.0h-1.0zM288.4 109.8h1.0v1.0h-1.0zM281.4 118.3h1.0v1.0h-1.0zM274.4 111.1h1.0v1.0h-1.0zM294.2 111.0h1.0v1.0h-1.0zM279.9 116.7h1.0v1.0h-1.0zM294.9 118.6h1.0v1.0h-1.0zM288.4 111.3h1.0v1.0h-1.0zM290.7 118.4h1.0v1.0h-1.0zM274.8 96.4h1.0v1.0h-1.0zM297.0 109.6h1.0v1.0h-1.0zM293.9 116.3h1.0v1.0h-1.0zM290.8 107.2h1.0v1.0h-1.0zM291.5 114.8h1.0v1.0h-1.0zM292.0 52.1h1.0v1.0h-1.0zM289.0 107.5h1.0v1.0h-1.0zM294.5 70.3h1.0v1.0h-1.0zM291.1 113.0h1.0v1.0h-1.0zM295.5 112.4h1.0v1.0h-1.0zM280.1 106.2h1.0v1.0h-1.0zM284.5 112.4h1.0v1.0h-1.0zM285.2 110.3h1.0v1.0h-1.0zM294.7 108.5h1.0v1.0h-1.0zM293.9 51.4h1.0v1.0h-1.0zM292.8 116.3h1.0v1.0h-1.0zM267.5 107.3h1.0v1.0h-1.0zM291.7 107.4h1.0v1.0h-1.0zM284.3 110.1h1.0v1.0h-1.0zM293.6 109.1h1.0v1.0h-1.0zM291.3 117.8h1.0v1.0h-1.0zM294.8 118.8h1.0v1.0h-1.0zM281.9 116.6h1.0v1.0h-1.0zM281.7 91.8h1.0v1.0h-1.0zM293.5 112.0h1.0v1.0h-1.0zM295.3 99.9h1.0v1.0h-1.0zM295.5 72.4h1.0v1.0h-1.0zM292.5 67.0h1.0v1.0h-1.0zM296.9 46.6h1.0v1.0h-1.0zM291.7 118.3h1.0v1.0h-1.0zM289.7 74.4h1.0v1.0h-1.0zM288.0 117.6h1.0v1.0h-1.0zM293.4 112.2h1.0v1.0h-1.0zM278.3 82.4h1.0v1.0h-1.0zM295.7 117.2h1.0v1.0h-1.0zM289.9 112.4h1.0v1.0h-1.0zM277.4 108.1h1.0v1.0h-1.0zM284.1 110.1h1.0v1.0h-1.0zM295.4 70.7h1.0v1.0h-1.0zM294.3 117.5h1.0v1.0h-1.0zM293.4 100.4h1.0v1.0h-1.0zM296.7 101.4h1.0v1.0h-1.0zM285.5 101.1h1.0v1.0h-1.0zM290.5 115.1h1.0v1.0h-1.0zM274.3 96.4h1.0v1.0h-1.0zM275.1 117.8h1.0v1.0h-1.0zM293.7 71.0h1.0v1.0h-1.0zM289.0 85.3h1.0v1.0h-1.0zM294.3 118.7h1.0v1.0h-1.0zM281.1 118.3h1.0v1.0h-1.0zM284.5 107.9h1.0v1.0h-1.0zM279.9 114.7h1.0v1.0h-1.0zM295.8 71.7h1.0v1.0h-1.0zM280.0 109.9h1.0v1.0h-1.0zM285.7 118.4h1.0v1.0h-1.0zM271.1 118.5h1.0v1.0h-1.0zM288.4 113.3h1.0v1.0h-1.0zM293.4 118.0h1.0v1.0h-1.0zM287.0 85.9h1.0v1.0h-1.0zM276.7 116.7h1.0v1.0h-1.0zM291.8 83.5h1.0v1.0h-1.0zM277.2 110.1h1.0v1.0h-1.0zM286.1 112.5h1.0v1.0h-1.0zM292.7 105.2h1.0v1.0h-1.0zM280.6 97.4h1.0v1.0h-1.0zM293.8 69.5h1.0v1.0h-1.0zM294.8 104.5h1.0v1.0h-1.0zM277.1 100.6h1.0v1.0h-1.0zM292.9 114.6h1.0v1.0h-1.0zM295.9 114.2h1.0v1.0h-1.0zM291.4 111.6h1.0v1.0h-1.0zM294.8 118.7h1.0v1.0h-1.0zM296.8 116.2h1.0v1.0h-1.0zM293.9 100.8h1.0v1.0h-1.0zM293.1 113.1h1.0v1.0h-1.0zM296.5 73.0h1.0v1.0h-1.0zM283.8 116.6h1.0v1.0h-1.0zM283.4 112.2h1.0v1.0h-1.0zM270.9 113.1h1.0v1.0h-1.0zM285.7 114.2h1.0v1.0h-1.0zM296.1 68.0h1.0v1.0h-1.0zM293.3 80.2h1.0v1.0h-1.0zM288.6 117.4h1.0v1.0h-1.0zM289.7 52.4h1.0v1.0h-1.0zM279.7 115.0h1.0v1.0h-1.0zM289.6 112.2h1.0v1.0h-1.0zM295.1 117.3h1.0v1.0h-1.0zM278.0 115.8h1.0v1.0h-1.0zM273.3 118.0h1.0v1.0h-1.0zM280.8 102.5h1.0v1.0h-1.0zM296.6 111.1h1.0v1.0h-1.0zM276.0 118.3h1.0v1.0h-1.0zM296.2 116.7h1.0v1.0h-1.0zM295.6 111.2h1.0v1.0h-1.0zM277.1 98.1h1.0v1.0h-1.0zM297.4 96.0h1.0v1.0h-1.0zM294.1 112.9h1.0v1.0h-1.0zM282.3 101.3h1.0v1.0h-1.0zM282.9 106.1h1.0v1.0h-1.0zM279.5 111.0h1.0v1.0h-1.0zM281.0 115.0h1.0v1.0h-1.0zM281.4 118.5h1.0v1.0h-1.0zM287.2 115.8h1.0v1.0h-1.0zM296.6 118.6h1.0v1.0h-1.0zM290.6 69.4h1.0v1.0h-1.0zM282.9 116.0h1.0v1.0h-1.0zM292.1 84.5h1.0v1.0h-1.0zM296.2 117.7h1.0v1.0h-1.0zM297.5 112.8h1.0v1.0h-1.0zM274.3 118.6h1.0v1.0h-1.0zM291.7 96.8h1.0v1.0h-1.0zM291.4 112.2h1.0v1.0h-1.0zM283.3 76.7h1.0v1.0h-1.0zM289.9 118.3h1.0v1.0h-1.0zM295.7 117.9h1.0v1.0h-1.0zM294.7 114.1h1.0v1.0h-1.0zM293.2 118.7h1.0v1.0h-1.0zM288.4 103.2h1.0v1.0h-1.0zM282.2 103.7h1.0v1.0h-1.0zM272.2 112.7h1.0v1.0h-1.0zM278.6 113.7h1.0v1.0h-1.0zM296.3 117.9h1.0v1.0h-1.0zM295.8 118.4h1.0v1.0h-1.0zM291.7 114.9h1.0v1.0h-1.0zM294.2 115.9h1.0v1.0h-1.0zM294.6 59.7h1.0v1.0h-1.0zM282.9 98.6h1.0v1.0h-1.0zM287.3 103.9h1.0v1.0h-1.0zM278.2 115.3h1.0v1.0h-1.0zM291.0 115.7h1.0v1.0h-1.0zM291.9 45.0h1.0v1.0h-1.0zM286.6 105.5h1.0v1.0h-1.0zM287.7 101.2h1.0v1.0h-1.0zM224.1 101.0h1.0v1.0h-1.0zM243.2 108.2h1.0v1.0h-1.0zM250.5 96.5h1.0v1.0h-1.0zM252.5 91.5h1.0v1.0h-1.0zM234.5 111.5h1.0v1.0h-1.0zM263.5 85.5h1.0v1.0h-1.0zM261.5 103.5h1.0v1.0h-1.0zM257.5 110.5h1.0v1.0h-1.0zM267.5 75.5h1.0v1.0h-1.0zM274.5 56.5h1.0v1.0h-1.0z" fill="#2a2aff" fill-opacity="0.72"/>
<path d="M313.7 111.6h1.0v1.0h-1.0zM322.0 114.0h1.0v1.0h-1.0zM316.1 107.3h1.0v1.0h-1.0zM318.0 63.8h1.0v1.0h-1.0zM314.4 81.6h1.0v1.0h-1.0zM320.5 104.9h1.0v1.0h-1.0zM323.7 110.8h1.0v1.0h-1.0zM317.3 105.8h1.0v1.0h-1.0zM328.0 112.6h1.0v1.0h-1.0zM327.8 87.3h1.0v1.0h-1.0zM327.9 114.9h1.0v1.0h-1.0zM313.3 118.7h1.0v1.0h-1.0zM318.3 115.8h1.0v1.0h-1.0zM316.5 117.4h1.0v1.0h-1.0zM321.8 87.1h1.0v1.0h-1.0zM323.4 114.9h1.0v1.0h-1.0zM330.2 98.9h1.0v1.0h-1.0zM319.9 95.8h1.0v1.0h-1.0zM316.5 114.8h1.0v1.0h-1.0zM319.9 94.8h1.0v1.0h-1.0zM316.4 98.6h1.0v1.0h-1.0zM323.6 97.2h1.0v1.0h-1.0zM318.7 116.6h1.0v1.0h-1.0zM326.7 111.6h1.0v1.0h-1.0zM313.4 115.6h1.0v1.0h-1.0zM317.6 118.9h1.0v1.0h-1.0zM322.7 112.7h1.0v1.0h-1.0zM317.2 57.0h1.0v1.0h-1.0zM323.4 112.1h1.0v1.0h-1.0zM319.1 116.3h1.0v1.0h-1.0zM321.7 114.4h1.0v1.0h-1.0zM327.7 106.3h1.0v1.0h-1.0zM313.4 109.7h1.0v1.0h-1.0zM324.9 118.4h1.0v1.0h-1.0zM320.0 67.9h1.0v1.0h-1.0zM319.4 106.4h1.0v1.0h-1.0zM315.7 86.7h1.0v1.0h-1.0zM319.8 107.0h1.0v1.0h-1.0zM330.5 105.6h1.0v1.0h-1.0zM323.1 107.6h1.0v1.0h-1.0zM324.4 109.6h1.0v1.0h-1.0zM319.9 72.5h1.0v1.0h-1.0zM323.7 102.8h1.0v1.0h-1.0zM314.4 117.6h1.0v1.0h-1.0zM322.3 114.5h1.0v1.0h-1.0zM318.0 106.4h1.0v1.0h-1.0zM318.1 93.1h1.0v1.0h-1.0zM314.6 117.1h1.0v1.0h-1.0zM317.7 115.4h1.0v1.0h-1.0zM313.7 115.3h1.0v1.0h-1.0zM314.2 110.6h1.0v1.0h-1.0zM321.0 115.5h1.0v1.0h-1.0zM326.8 114.5h1.0v1.0h-1.0zM313.9 110.1h1.0v1.0h-1.0zM325.3 105.2h1.0v1.0h-1.0zM313.8 115.4h1.0v1.0h-1.0zM319.4 115.4h1.0v1.0h-1.0zM316.0 85.5h1.0v1.0h-1.0zM320.7 81.4h1.0v1.0h-1.0zM318.4 118.5h1.0v1.0h-1.0zM314.1 119.0h1.0v1.0h-1.0zM332.3 115.9h1.0v1.0h-1.0zM315.7 113.5h1.0v1.0h-1.0zM326.9 115.9h1.0v1.0h-1.0zM315.6 117.4h1.0v1.0h-1.0zM329.5 114.5h1.0v1.0h-1.0zM316.5 97.8h1.0v1.0h-1.0zM323.5 105.3h1.0v1.0h-1.0zM315.8 112.8h1.0v1.0h-1.0zM313.1 54.9h1.0v1.0h-1.0zM316.0 117.0h1.0v1.0h-1.0zM328.5 106.9h1.0v1.0h-1.0zM314.7 103.9h1.0v1.0h-1.0zM318.8 119.0h1.0v1.0h-1.0zM316.1 113.6h1.0v1.0h-1.0zM314.2 110.1h1.0v1.0h-1.0zM315.7 77.9h1.0v1.0h-1.0zM315.0 114.2h1.0v1.0h-1.0zM325.2 115.1h1.0v1.0h-1.0zM323.3 108.3h1.0v1.0h-1.0zM316.5 110.3h1.0v1.0h-1.0zM320.3 99.1h1.0v1.0h-1.0zM328.6 107.0h1.0v1.0h-1.0zM323.7 107.1h1.0v1.0h-1.0zM325.7 116.3h1.0v1.0h-1.0zM318.8 93.3h1.0v1.0h-1.0zM322.1 85.5h1.0v1.0h-1.0zM323.2 105.8h1.0v1.0h-1.0zM313.9 101.9h1.0v1.0h-1.0zM321.0 105.5h1.0v1.0h-1.0zM321.5 116.5h1.0v1.0h-1.0zM317.2 88.1h1.0v1.0h-1.0zM329.2 102.1h1.0v1.0h-1.0zM315.9 115.7h1.0v1.0h-1.0zM315.1 117.4h1.0v1.0h-1.0zM322.0 60.1h1.0v1.0h-1.0zM319.3 99.1h1.0v1.0h-1.0zM329.0 116.0h1.0v1.0h-1.0zM316.6 118.3h1.0v1.0h-1.0zM313.4 115.8h1.0v1.0h-1.0zM315.8 118.7h1.0v1.0h-1.0zM314.8 100.1h1.0v1.0h-1.0zM328.2 110.4h1.0v1.0h-1.0zM322.5 102.2h1.0v1.0h-1.0zM325.0 116.6h1.0v1.0h-1.0zM320.3 113.8h1.0v1.0h-1.0zM314.8 113.8h1.0v1.0h-1.0zM325.2 85.4h1.0v1.0h-1.0zM320.4 117.0h1.0v1.0h-1.0zM324.6 118.4h1.0v1.0h-1.0zM321.5 117.5h1.0v1.0h-1.0zM328.3 110.0h1.0v1.0h-1.0zM315.5 100.1h1.0v1.0h-1.0zM317.0 104.6h1.0v1.0h-1.0zM328.0 95.2h1.0v1.0h-1.0zM321.7 117.7h1.0v1.0h-1.0zM324.4 108.0h1.0v1.0h-1.0zM325.5 106.9h1.0v1.0h-1.0zM314.8 113.1h1.0v1.0h-1.0zM323.8 104.8h1.0v1.0h-1.0zM317.0 114.8h1.0v1.0h-1.0zM313.7 113.0h1.0v1.0h-1.0zM318.5 60.3h1.0v1.0h-1.0zM325.1 112.0h1.0v1.0h-1.0zM318.1 97.8h1.0v1.0h-1.0zM322.5 115.8h1.0v1.0h-1.0zM316.3 108.5h1.0v1.0h-1.0zM313.5 116.6h1.0v1.0h-1.0zM314.6 84.8h1.0v1.0h-1.0zM321.2 101.0h1.0v1.0h-1.0zM314.1 96.3h1.0v1.0h-1.0zM312.9 112.0h1.0v1.0h-1.0zM325.8 111.5h1.0v1.0h-1.0zM318.3 116.9h1.0v1.0h-1.0zM314.5 117.9h1.0v1.0h-1.0zM322.2 118.3h1.0v1.0h-1.0zM326.1 118.7h1.0v1.0h-1.0zM314.6 68.3h1.0v1.0h-1.0zM333.0 117.0h1.0v1.0h-1.0zM318.4 117.2h1.0v1.0h-1.0zM326.8 112.9h1.0v1.0h-1.0zM333.7 110.8h1.0v1.0h-1.0zM330.0 110.8h1.0v1.0h-1.0zM314.9 99.0h1.0v1.0h-1.0zM327.1 117.6h1.0v1.0h-1.0zM317.1 109.0h1.0v1.0h-1.0zM316.4 95.9h1.0v1.0h-1.0zM315.9 107.4h1.0v1.0h-1.0zM326.2 115.1h1.0v1.0h-1.0zM313.9 90.1h1.0v1.0h-1.0zM319.6 117.4h1.0v1.0h-1.0zM314.0 117.8h1.0v1.0h-1.0zM322.9 114.0h1.0v1.0h-1.0zM336.0 112.4h1.0v1.0h-1.0zM317.8 116.1h1.0v1.0h-1.0zM317.5 114.4h1.0v1.0h-1.0zM327.7 115.7h1.0v1.0h-1.0zM324.5 117.6h1.0v1.0h-1.0zM325.4 112.8h1.0v1.0h-1.0zM314.1 99.4h1.0v1.0h-1.0zM322.3 115.1h1.0v1.0h-1.0zM322.8 118.2h1.0v1.0h-1.0zM313.0 108.7h1.0v1.0h-1.0zM324.2 116.6h1.0v1.0h-1.0zM319.1 116.1h1.0v1.0h-1.0zM333.8 118.1h1.0v1.0h-1.0zM323.8 93.8h1.0v1.0h-1.0zM323.0 116.8h1.0v1.0h-1.0zM315.8 105.0h1.0v1.0h-1.0zM315.3 115.5h1.0v1.0h-1.0zM313.7 111.4h1.0v1.0h-1.0zM317.9 99.5h1.0v1.0h-1.0zM320.9 118.8h1.0v1.0h-1.0zM317.4 112.0h1.0v1.0h-1.0zM316.8 100.5h1.0v1.0h-1.0zM313.3 104.9h1.0v1.0h-1.0zM316.2 94.8h1.0v1.0h-1.0zM319.6 105.2h1.0v1.0h-1.0zM322.1 118.0h1.0v1.0h-1.0zM313.9 118.6h1.0v1.0h-1.0zM320.4 117.5h1.0v1.0h-1.0zM314.5 115.5h1.0v1.0h-1.0zM323.1 113.8h1.0v1.0h-1.0zM321.3 117.3h1.0v1.0h-1.0zM316.7 116.3h1.0v1.0h-1.0zM313.0 118.1h1.0v1.0h-1.0zM314.3 114.2h1.0v1.0h-1.0zM313.3 118.2h1.0v1.0h-1.0zM316.9 116.2h1.0v1.0h-1.0zM313.6 106.3h1.0v1.0h-1.0zM313.4 103.6h1.0v1.0h-1.0zM313.4 108.2h1.0v1.0h-1.0zM315.9 103.2h1.0v1.0h-1.0zM331.7 108.2h1.0v1.0h-1.0zM325.6 115.0h1.0v1.0h-1.0zM329.8 117.4h1.0v1.0h-1.0zM319.6 116.3h1.0v1.0h-1.0zM327.5 108.6h1.0v1.0h-1.0zM315.8 117.0h1.0v1.0h-1.0zM325.1 117.1h1.0v1.0h-1.0zM325.2 101.7h1.0v1.0h-1.0zM329.3 107.6h1.0v1.0h-1.0zM320.1 117.4h1.0v1.0h-1.0zM318.9 74.1h1.0v1.0h-1.0zM334.5 115.6h1.0v1.0h-1.0zM317.1 119.0h1.0v1.0h-1.0zM314.7 114.3h1.0v1.0h-1.0zM331.4 111.5h1.0v1.0h-1.0zM328.6 115.4h1.0v1.0h-1.0zM315.8 115.8h1.0v1.0h-1.0zM314.2 97.1h1.0v1.0h-1.0zM320.2 112.6h1.0v1.0h-1.0zM328.0 112.2h1.0v1.0h-1.0zM318.4 75.6h1.0v1.0h-1.0zM315.1 116.3h1.0v1.0h-1.0zM327.8 96.1h1.0v1.0h-1.0zM315.2 114.4h1.0v1.0h-1.0zM318.8 118.3h1.0v1.0h-1.0zM321.3 114.9h1.0v1.0h-1.0zM338.6 99.0h1.0v1.0h-1.0zM324.3 98.7h1.0v1.0h-1.0zM313.8 110.2h1.0v1.0h-1.0zM324.8 98.7h1.0v1.0h-1.0zM320.4 106.5h1.0v1.0h-1.0zM320.7 115.3h1.0v1.0h-1.0zM317.9 83.9h1.0v1.0h-1.0zM329.0 115.2h1.0v1.0h-1.0zM317.7 117.1h1.0v1.0h-1.0zM323.4 112.4h1.0v1.0h-1.0zM320.2 85.6h1.0v1.0h-1.0zM321.0 97.5h1.0v1.0h-1.0zM321.3 110.9h1.0v1.0h-1.0zM320.4 108.8h1.0v1.0h-1.0zM319.3 115.6h1.0v1.0h-1.0zM325.8 110.9h1.0v1.0h-1.0zM313.8 118.9h1.0v1.0h-1.0zM315.0 101.8h1.0v1.0h-1.0zM328.6 98.4h1.0v1.0h-1.0zM317.2 55.4h1.0v1.0h-1.0zM326.7 89.1h1.0v1.0h-1.0zM324.6 99.8h1.0v1.0h-1.0zM339.2 116.7h1.0v1.0h-1.0zM319.6 91.6h1.0v1.0h-1.0zM327.1 115.3h1.0v1.0h-1.0zM326.9 93.8h1.0v1.0h-1.0zM317.8 104.2h1.0v1.0h-1.0zM314.6 119.0h1.0v1.0h-1.0zM321.5 87.1h1.0v1.0h-1.0zM313.3 97.4h1.0v1.0h-1.0zM335.4 109.4h1.0v1.0h-1.0zM326.1 114.0h1.0v1.0h-1.0zM330.7 117.3h1.0v1.0h-1.0zM315.1 88.6h1.0v1.0h-1.0zM321.1 86.2h1.0v1.0h-1.0zM319.5 75.2h1.0v1.0h-1.0zM320.5 46.5h1.0v1.0h-1.0zM316.5 50.5h1.0v1.0h-1.0zM323.5 56.5h1.0v1.0h-1.0zM346.5 47.5h1.0v1.0h-1.0zM347.5 64.5h1.0v1.0h-1.0zM367.5 95.5h1.0v1.0h-1.0zM358.5 97.5h1.0v1.0h-1.0zM375.5 115.5h1.0v1.0h-1.0zM351.5 104.5h1.0v1.0h-1.0zM356.5 104.5h1.0v1.0h-1.0zM338.5 102.5h1.0v1.0h-1.0zM330.5 94.5h1.0v1.0h-1.0zM335.5 109.5h1.0v1.0h-1.0zM344.5 111.5h1.0v1.0h-1.0z" fill="#ff2e2e" fill-opacity="0.72"/>
<rect x="377.00" y="88.00" width="14.00" height="19.00" fill="#ffffff" />
<text x="378.00" y="93.20" font-family="Liberation Sans" font-size="2.8" fill="#444" >change</text>
<rect x="378.30" y="95.00" width="2.20" height="2.20" fill="#9999ff" />
<text x="381.50" y="96.80" font-family="Liberation Sans" font-size="2.4" fill="#777" >down</text>
<rect x="378.30" y="98.60" width="2.20" height="2.20" fill="#dddddd" />
<text x="381.50" y="100.40" font-family="Liberation Sans" font-size="2.4" fill="#777" >not</text>
<rect x="378.30" y="102.20" width="2.20" height="2.20" fill="#ff9999" />
<text x="381.50" y="104.00" font-family="Liberation Sans" font-size="2.4" fill="#777" >up</text>
<text x="240.90" y="31.60" font-family="Liberation Serif" font-size="6.8" fill="#111" textLength="114.70" lengthAdjust="spacingAndGlyphs" >Differentially expressional genes of spesis</text>
<text x="283.90" y="170.10" font-family="Liberation Sans" font-size="8.2" fill="#111" textLength="59.90" lengthAdjust="spacingAndGlyphs" >log2 fold change</text>
<text x="206.30" y="90.80" font-family="Liberation Sans" font-size="4.4" fill="#222" text-anchor="middle" transform="rotate(-90 206.3 90.8)">-log10 p-value</text>
<path d="M525.70 86.00A48.4 48.4 0 1 1 525.70 85.99L510.30 85.99A33.0 33.0 0 1 0 510.30 86.00Z" fill="#e0d6f9"/>
<path d="M512.99 85.93A35.68666666666666 35.68666666666666 0 0 1 512.89 88.62L510.09 88.41A32.88 32.88 0 0 0 510.18 85.93ZM515.55 85.92A38.25333333333333 38.25333333333333 0 0 1 515.45 88.81L512.65 88.60A35.446666666666665 35.446666666666665 0 0 0 512.75 85.93ZM518.12 85.91A40.82 40.82 0 0 1 518.01 89.00L515.21 88.79A38.013333333333335 38.013333333333335 0 0 0 515.31 85.92ZM520.69 85.91A43.38666666666666 43.38666666666666 0 0 1 520.57 89.19L517.77 88.98A40.580000000000005 40.580000000000005 0 0 0 517.88 85.92ZM523.25 85.90A45.953333333333326 45.953333333333326 0 0 1 523.13 89.37L520.33 89.17A43.14666666666667 43.14666666666667 0 0 0 520.45 85.91ZM525.82 85.90A48.519999999999996 48.519999999999996 0 0 1 525.69 89.56L522.89 89.36A45.71333333333333 45.71333333333333 0 0 0 523.01 85.90ZM512.90 88.47A35.68666666666666 35.68666666666666 0 0 1 512.61 91.15L509.84 90.75A32.88 32.88 0 0 0 510.10 88.28ZM515.46 88.65A38.25333333333333 38.25333333333333 0 0 1 515.15 91.52L512.38 91.12A35.446666666666665 35.446666666666665 0 0 0 512.66 88.45ZM518.02 88.83A40.82 40.82 0 0 1 517.69 91.89L514.91 91.49A38.013333333333335 38.013333333333335 0 0 0 515.22 88.63ZM520.58 89.00A43.38666666666666 43.38666666666666 0 0 1 520.23 92.26L517.45 91.86A40.580000000000005 40.580000000000005 0 0 0 517.78 88.81ZM523.14 89.18A45.953333333333326 45.953333333333326 0 0 1 522.77 92.64L519.99 92.23A43.14666666666667 43.14666666666667 0 0 0 520.34 88.99ZM525.70 89.36A48.519999999999996 48.519999999999996 0 0 1 525.31 93.01L522.53 92.60A45.71333333333333 45.71333333333333 0 0 0 522.90 89.17ZM512.63 91.00A35.68666666666666 35.68666666666666 0 0 1 512.16 93.66L509.41 93.06A32.88 32.88 0 0 0 509.86 90.61ZM515.18 91.36A38.25333333333333 38.25333333333333 0 0 1 514.66 94.21L511.92 93.61A35.446666666666665 35.446666666666665 0 0 0 512.40 90.97ZM517.72 91.72A40.82 40.82 0 0 1 517.17 94.76L514.43 94.16A38.013333333333335 38.013333333333335 0 0 0 514.94 91.33ZM520.26 92.08A43.38666666666666 43.38666666666666 0 0 1 519.68 95.31L516.93 94.71A40.580000000000005 40.580000000000005 0 0 0 517.48 91.69ZM522.80 92.44A45.953333333333326 45.953333333333326 0 0 1 522.18 95.86L519.44 95.26A43.14666666666667 43.14666666666667 0 0 0 520.02 92.05ZM525.34 92.80A48.519999999999996 48.519999999999996 0 0 1 524.69 96.41L521.95 95.81A45.71333333333333 45.71333333333333 0 0 0 522.56 92.41ZM512.19 93.51A35.68666666666666 35.68666666666666 0 0 1 511.52 96.13L508.83 95.33A32.88 32.88 0 0 0 509.44 92.92ZM514.70 94.05A38.25333333333333 38.25333333333333 0 0 1 513.98 96.85L511.29 96.06A35.446666666666665 35.446666666666665 0 0 0 511.95 93.46ZM517.21 94.59A40.82 40.82 0 0 1 516.44 97.58L513.75 96.79A38.013333333333335 38.013333333333335 0 0 0 514.46 94.00ZM519.71 95.13A43.38666666666666 43.38666666666666 0 0 1 518.90 98.31L516.21 97.51A40.580000000000005 40.580000000000005 0 0 0 516.97 94.54ZM522.22 95.67A45.953333333333326 45.953333333333326 0 0 1 521.36 99.04L518.67 98.24A43.14666666666667 43.14666666666667 0 0 0 519.48 95.08ZM524.73 96.21A48.519999999999996 48.519999999999996 0 0 1 523.83 99.77L521.13 98.97A45.71333333333333 45.71333333333333 0 0 0 521.99 95.62ZM511.56 95.98A35.68666666666666 35.68666666666666 0 0 1 510.71 98.54L508.08 97.55A32.88 32.88 0 0 0 508.87 95.20ZM514.03 96.70A38.25333333333333 38.25333333333333 0 0 1 513.11 99.44L510.49 98.46A35.446666666666665 35.446666666666665 0 0 0 511.33 95.92ZM516.49 97.42A40.82 40.82 0 0 1 515.52 100.35L512.89 99.36A38.013333333333335 38.013333333333335 0 0 0 513.80 96.63ZM518.95 98.14A43.38666666666666 43.38666666666666 0 0 1 517.92 101.25L515.29 100.26A40.580000000000005 40.580000000000005 0 0 0 516.26 97.35ZM521.42 98.85A45.953333333333326 45.953333333333326 0 0 1 520.32 102.15L517.69 101.16A43.14666666666667 43.14666666666667 0 0 0 518.72 98.07ZM523.88 99.57A48.519999999999996 48.519999999999996 0 0 1 522.73 103.05L520.10 102.06A45.71333333333333 45.71333333333333 0 0 0 521.19 98.79ZM510.76 98.40A35.68666666666666 35.68666666666666 0 0 1 509.73 100.89L507.18 99.72A32.88 32.88 0 0 0 508.13 97.43ZM513.17 99.29A38.25333333333333 38.25333333333333 0 0 1 512.06 101.96L509.51 100.79A35.446666666666665 35.446666666666665 0 0 0 510.54 98.32ZM515.58 100.18A40.82 40.82 0 0 1 514.40 103.03L511.84 101.86A38.013333333333335 38.013333333333335 0 0 0 512.94 99.21ZM517.98 101.08A43.38666666666666 43.38666666666666 0 0 1 516.73 104.11L514.18 102.93A40.580000000000005 40.580000000000005 0 0 0 515.35 100.10ZM520.39 101.97A45.953333333333326 45.953333333333326 0 0 1 519.06 105.18L516.51 104.01A43.14666666666667 43.14666666666667 0 0 0 517.76 100.99ZM522.80 102.86A48.519999999999996 48.519999999999996 0 0 1 521.39 106.25L518.84 105.08A45.71333333333333 45.71333333333333 0 0 0 520.16 101.89ZM509.79 100.76A35.68666666666666 35.68666666666666 0 0 1 508.59 103.17L506.13 101.82A32.88 32.88 0 0 0 507.24 99.60ZM512.13 101.82A38.25333333333333 38.25333333333333 0 0 1 510.84 104.40L508.38 103.05A35.446666666666665 35.446666666666665 0 0 0 509.57 100.66ZM514.47 102.88A40.82 40.82 0 0 1 513.09 105.64L510.63 104.29A38.013333333333335 38.013333333333335 0 0 0 511.91 101.72ZM516.80 103.94A43.38666666666666 43.38666666666666 0 0 1 515.34 106.87L512.88 105.52A40.580000000000005 40.580000000000005 0 0 0 514.25 102.78ZM519.14 105.00A45.953333333333326 45.953333333333326 0 0 1 517.59 108.11L515.13 106.76A43.14666666666667 43.14666666666667 0 0 0 516.59 103.84ZM521.48 106.06A48.519999999999996 48.519999999999996 0 0 1 519.84 109.34L517.38 107.99A45.71333333333333 45.71333333333333 0 0 0 518.92 104.90ZM508.66 103.04A35.68666666666666 35.68666666666666 0 0 1 507.28 105.36L504.92 103.83A32.88 32.88 0 0 0 506.19 101.70ZM510.91 104.26A38.25333333333333 38.25333333333333 0 0 1 509.44 106.75L507.08 105.23A35.446666666666665 35.446666666666665 0 0 0 508.45 102.92ZM513.17 105.49A40.82 40.82 0 0 1 511.59 108.14L509.24 106.62A38.013333333333335 38.013333333333335 0 0 0 510.70 104.15ZM515.42 106.71A43.38666666666666 43.38666666666666 0 0 1 513.75 109.53L511.39 108.01A40.580000000000005 40.580000000000005 0 0 0 512.96 105.37ZM517.68 107.94A45.953333333333326 45.953333333333326 0 0 1 515.91 110.93L513.55 109.40A43.14666666666667 43.14666666666667 0 0 0 515.21 106.60ZM519.93 109.16A48.519999999999996 48.519999999999996 0 0 1 518.06 112.32L515.70 110.79A45.71333333333333 45.71333333333333 0 0 0 517.47 107.82ZM507.36 105.23A35.68666666666666 35.68666666666666 0 0 1 505.82 107.45L503.58 105.76A32.88 32.88 0 0 0 505.00 103.72ZM509.52 106.61A38.25333333333333 38.25333333333333 0 0 1 507.88 108.99L505.63 107.30A35.446666666666665 35.446666666666665 0 0 0 507.16 105.10ZM511.69 108.00A40.82 40.82 0 0 1 509.93 110.53L507.68 108.84A38.013333333333335 38.013333333333335 0 0 0 509.32 106.48ZM513.85 109.38A43.38666666666666 43.38666666666666 0 0 1 511.98 112.07L509.73 110.39A40.580000000000005 40.580000000000005 0 0 0 511.48 107.87ZM516.01 110.76A45.953333333333326 45.953333333333326 0 0 1 514.03 113.62L511.79 111.93A43.14666666666667 43.14666666666667 0 0 0 513.65 109.25ZM518.17 112.15A48.519999999999996 48.519999999999996 0 0 1 516.08 115.16L513.84 113.47A45.71333333333333 45.71333333333333 0 0 0 515.81 110.63ZM505.91 107.33A35.68666666666666 35.68666666666666 0 0 1 504.22 109.43L502.10 107.58A32.88 32.88 0 0 0 503.66 105.65ZM507.97 108.86A38.25333333333333 38.25333333333333 0 0 1 506.16 111.11L504.04 109.27A35.446666666666665 35.446666666666665 0 0 0 505.72 107.18ZM510.03 110.39A40.82 40.82 0 0 1 508.09 112.80L505.98 110.95A38.013333333333335 38.013333333333335 0 0 0 507.78 108.72ZM512.09 111.93A43.38666666666666 43.38666666666666 0 0 1 510.03 114.48L507.91 112.64A40.580000000000005 40.580000000000005 0 0 0 509.84 110.25ZM514.15 113.46A45.953333333333326 45.953333333333326 0 0 1 511.97 116.17L509.85 114.32A43.14666666666667 43.14666666666667 0 0 0 511.89 111.78ZM516.20 115.00A48.519999999999996 48.519999999999996 0 0 1 513.90 117.85L511.79 116.01A45.71333333333333 45.71333333333333 0 0 0 513.95 113.32ZM504.32 109.31A35.68666666666666 35.68666666666666 0 0 1 502.48 111.29L500.50 109.30A32.88 32.88 0 0 0 502.19 107.48ZM506.26 110.99A38.25333333333333 38.25333333333333 0 0 1 504.29 113.11L502.31 111.12A35.446666666666665 35.446666666666665 0 0 0 504.14 109.16ZM508.21 112.67A40.82 40.82 0 0 1 506.10 114.92L504.12 112.94A38.013333333333335 38.013333333333335 0 0 0 506.08 110.83ZM510.15 114.34A43.38666666666666 43.38666666666666 0 0 1 507.91 116.74L505.93 114.75A40.580000000000005 40.580000000000005 0 0 0 508.02 112.51ZM512.09 116.02A45.953333333333326 45.953333333333326 0 0 1 509.73 118.56L507.75 116.57A43.14666666666667 43.14666666666667 0 0 0 509.97 114.19ZM514.04 117.70A48.519999999999996 48.519999999999996 0 0 1 511.54 120.38L509.56 118.39A45.71333333333333 45.71333333333333 0 0 0 511.91 115.86ZM502.59 111.18A35.68666666666666 35.68666666666666 0 0 1 500.61 113.02L498.78 110.89A32.88 32.88 0 0 0 500.60 109.20ZM504.41 112.99A38.25333333333333 38.25333333333333 0 0 1 502.29 114.96L500.46 112.84A35.446666666666665 35.446666666666665 0 0 0 502.42 111.01ZM506.22 114.80A40.82 40.82 0 0 1 503.97 116.91L502.13 114.78A38.013333333333335 38.013333333333335 0 0 0 504.24 112.82ZM508.04 116.61A43.38666666666666 43.38666666666666 0 0 1 505.64 118.85L503.81 116.72A40.580000000000005 40.580000000000005 0 0 0 506.05 114.63ZM509.86 118.43A45.953333333333326 45.953333333333326 0 0 1 507.32 120.79L505.49 118.67A43.14666666666667 43.14666666666667 0 0 0 507.87 116.45ZM511.68 120.24A48.519999999999996 48.519999999999996 0 0 1 509.00 122.74L507.16 120.61A45.71333333333333 45.71333333333333 0 0 0 509.69 118.26ZM500.73 112.92A35.68666666666666 35.68666666666666 0 0 1 498.63 114.61L496.95 112.36A32.88 32.88 0 0 0 498.88 110.80ZM502.41 114.86A38.25333333333333 38.25333333333333 0 0 1 500.16 116.67L498.48 114.42A35.446666666666665 35.446666666666665 0 0 0 500.57 112.74ZM509.15 122.60A48.519999999999996 48.519999999999996 0 0 1 506.30 124.90L504.62 122.65A45.71333333333333 45.71333333333333 0 0 0 507.31 120.49ZM498.75 114.52A35.68666666666666 35.68666666666666 0 0 1 496.53 116.06L495.02 113.70A32.88 32.88 0 0 0 497.06 112.28ZM500.29 116.58A38.25333333333333 38.25333333333333 0 0 1 497.91 118.22L496.40 115.86A35.446666666666665 35.446666666666665 0 0 0 498.60 114.33ZM506.46 124.78A48.519999999999996 48.519999999999996 0 0 1 503.45 126.87L501.93 124.51A45.71333333333333 45.71333333333333 0 0 0 504.77 122.54ZM496.66 115.98A35.68666666666666 35.68666666666666 0 0 1 494.34 117.36L493.00 114.89A32.88 32.88 0 0 0 495.13 113.62ZM498.05 118.14A38.25333333333333 38.25333333333333 0 0 1 495.56 119.61L494.22 117.15A35.446666666666665 35.446666666666665 0 0 0 496.53 115.78ZM503.62 126.76A48.519999999999996 48.519999999999996 0 0 1 500.46 128.63L499.12 126.17A45.71333333333333 45.71333333333333 0 0 0 502.09 124.40ZM494.47 117.29A35.68666666666666 35.68666666666666 0 0 1 492.06 118.49L490.90 115.94A32.88 32.88 0 0 0 493.12 114.83ZM495.70 119.54A38.25333333333333 38.25333333333333 0 0 1 493.12 120.83L491.96 118.27A35.446666666666665 35.446666666666665 0 0 0 494.35 117.08ZM496.94 121.79A40.82 40.82 0 0 1 494.18 123.17L493.02 120.61A38.013333333333335 38.013333333333335 0 0 0 495.59 119.33ZM498.17 124.04A43.38666666666666 43.38666666666666 0 0 1 495.24 125.50L494.08 122.95A40.580000000000005 40.580000000000005 0 0 0 496.82 121.58ZM499.41 126.29A45.953333333333326 45.953333333333326 0 0 1 496.30 127.84L495.14 125.29A43.14666666666667 43.14666666666667 0 0 0 498.06 123.83ZM500.64 128.54A48.519999999999996 48.519999999999996 0 0 1 497.36 130.18L496.20 127.62A45.71333333333333 45.71333333333333 0 0 0 499.29 126.08ZM492.19 118.43A35.68666666666666 35.68666666666666 0 0 1 489.70 119.46L488.73 116.83A32.88 32.88 0 0 0 491.02 115.88ZM496.48 127.76A45.953333333333326 45.953333333333326 0 0 1 493.27 129.09L492.29 126.46A43.14666666666667 43.14666666666667 0 0 0 495.31 125.21ZM497.55 130.09A48.519999999999996 48.519999999999996 0 0 1 494.16 131.50L493.19 128.86A45.71333333333333 45.71333333333333 0 0 0 496.38 127.54ZM489.84 119.41A35.68666666666666 35.68666666666666 0 0 1 487.28 120.26L486.50 117.57A32.88 32.88 0 0 0 488.85 116.78ZM493.45 129.02A45.953333333333326 45.953333333333326 0 0 1 490.15 130.12L489.37 127.42A43.14666666666667 43.14666666666667 0 0 0 492.46 126.39ZM494.35 131.43A48.519999999999996 48.519999999999996 0 0 1 490.87 132.58L490.09 129.89A45.71333333333333 45.71333333333333 0 0 0 493.36 128.80ZM487.43 120.22A35.68666666666666 35.68666666666666 0 0 1 484.81 120.89L484.22 118.14A32.88 32.88 0 0 0 486.63 117.53ZM490.34 130.06A45.953333333333326 45.953333333333326 0 0 1 486.97 130.92L486.38 128.18A43.14666666666667 43.14666666666667 0 0 0 489.54 127.37ZM491.07 132.53A48.519999999999996 48.519999999999996 0 0 1 487.51 133.43L486.92 130.69A45.71333333333333 45.71333333333333 0 0 0 490.27 129.83ZM484.96 120.86A35.68666666666666 35.68666666666666 0 0 1 482.30 121.33L481.91 118.56A32.88 32.88 0 0 0 484.36 118.11ZM487.16 130.88A45.953333333333326 45.953333333333326 0 0 1 483.74 131.50L483.35 128.72A43.14666666666667 43.14666666666667 0 0 0 486.56 128.14ZM487.71 133.39A48.519999999999996 48.519999999999996 0 0 1 484.10 134.04L483.71 131.26A45.71333333333333 45.71333333333333 0 0 0 487.11 130.65ZM474.65 124.16A38.25333333333333 38.25333333333333 0 0 1 471.78 123.85L472.18 121.08A35.446666666666665 35.446666666666665 0 0 0 474.85 121.36ZM471.94 123.88A38.25333333333333 38.25333333333333 0 0 1 469.09 123.36L469.69 120.62A35.446666666666665 35.446666666666665 0 0 0 472.33 121.10ZM469.25 123.40A38.25333333333333 38.25333333333333 0 0 1 466.45 122.68L467.24 119.99A35.446666666666665 35.446666666666665 0 0 0 469.84 120.65ZM466.60 122.73A38.25333333333333 38.25333333333333 0 0 1 463.86 121.81L464.84 119.19A35.446666666666665 35.446666666666665 0 0 0 467.38 120.03ZM456.59 124.12A43.38666666666666 43.38666666666666 0 0 1 453.77 122.45L455.29 120.09A40.580000000000005 40.580000000000005 0 0 0 457.93 121.66ZM453.92 122.55A43.38666666666666 43.38666666666666 0 0 1 451.23 120.68L452.91 118.43A40.580000000000005 40.580000000000005 0 0 0 455.43 120.18ZM451.37 120.79A43.38666666666666 43.38666666666666 0 0 1 448.82 118.73L450.66 116.61A40.580000000000005 40.580000000000005 0 0 0 453.05 118.54Z" fill="#ff0000"/>
<path d="M504.10 116.79A40.82 40.82 0 0 1 501.69 118.73L500.02 116.48A38.013333333333335 38.013333333333335 0 0 0 502.25 114.68Z" fill="#ff4415"/>
<path d="M505.78 118.73A43.38666666666666 43.38666666666666 0 0 1 503.23 120.79L501.55 118.54A40.580000000000005 40.580000000000005 0 0 0 503.94 116.61Z" fill="#ff3603"/>
<path d="M507.47 120.67A45.953333333333326 45.953333333333326 0 0 1 504.76 122.85L503.08 120.59A43.14666666666667 43.14666666666667 0 0 0 505.62 118.55Z" fill="#ff5125"/>
<path d="M501.83 118.63A40.82 40.82 0 0 1 499.30 120.39L497.78 118.02A38.013333333333335 38.013333333333335 0 0 0 500.14 116.38Z" fill="#ff3908"/>
<path d="M503.37 120.68A43.38666666666666 43.38666666666666 0 0 1 500.68 122.55L499.17 120.18A40.580000000000005 40.580000000000005 0 0 0 501.69 118.43Z" fill="#ff4618"/>
<path d="M504.92 122.73A45.953333333333326 45.953333333333326 0 0 1 502.06 124.71L500.55 122.35A43.14666666666667 43.14666666666667 0 0 0 503.23 120.49Z" fill="#ff4c1f"/>
<path d="M499.44 120.29A40.82 40.82 0 0 1 496.79 121.87L495.45 119.40A38.013333333333335 38.013333333333335 0 0 0 497.92 117.94ZM493.26 120.76A38.25333333333333 38.25333333333333 0 0 1 490.59 121.87L489.62 119.24A35.446666666666665 35.446666666666665 0 0 0 492.09 118.21ZM480.11 124.15A38.25333333333333 38.25333333333333 0 0 1 477.22 124.25L477.23 121.45A35.446666666666665 35.446666666666665 0 0 0 479.90 121.35ZM477.39 126.82A40.82 40.82 0 0 1 474.30 126.71L474.51 123.91A38.013333333333335 38.013333333333335 0 0 0 477.38 124.01ZM468.17 128.41A43.38666666666666 43.38666666666666 0 0 1 464.99 127.60L465.79 124.91A40.580000000000005 40.580000000000005 0 0 0 468.76 125.67ZM463.12 124.28A40.82 40.82 0 0 1 460.27 123.10L461.44 120.54A38.013333333333335 38.013333333333335 0 0 0 464.09 121.64ZM458.30 127.84A45.953333333333326 45.953333333333326 0 0 1 455.19 126.29L456.54 123.83A43.14666666666667 43.14666666666667 0 0 0 459.46 125.29ZM457.24 130.18A48.519999999999996 48.519999999999996 0 0 1 453.96 128.54L455.31 126.08A45.71333333333333 45.71333333333333 0 0 0 458.40 127.62ZM457.81 121.87A40.82 40.82 0 0 1 455.16 120.29L456.68 117.94A38.013333333333335 38.013333333333335 0 0 0 459.15 119.40ZM454.14 128.63A48.519999999999996 48.519999999999996 0 0 1 450.98 126.76L452.51 124.40A45.71333333333333 45.71333333333333 0 0 0 455.48 126.17ZM451.15 126.87A48.519999999999996 48.519999999999996 0 0 1 448.14 124.78L449.83 122.54A45.71333333333333 45.71333333333333 0 0 0 452.67 124.51ZM452.91 118.73A40.82 40.82 0 0 1 450.50 116.79L452.35 114.68A38.013333333333335 38.013333333333335 0 0 0 454.58 116.48ZM445.60 122.74A48.519999999999996 48.519999999999996 0 0 1 442.92 120.24L444.91 118.26A45.71333333333333 45.71333333333333 0 0 0 447.44 120.61ZM446.69 116.74A43.38666666666666 43.38666666666666 0 0 1 444.45 114.34L446.58 112.51A40.580000000000005 40.580000000000005 0 0 0 448.67 114.75Z" fill="#ff552a"/>
<path d="M500.83 122.45A43.38666666666666 43.38666666666666 0 0 1 498.01 124.12L496.67 121.66A40.580000000000005 40.580000000000005 0 0 0 499.31 120.09Z" fill="#ff491c"/>
<path d="M502.23 124.61A45.953333333333326 45.953333333333326 0 0 1 499.24 126.38L497.90 123.91A43.14666666666667 43.14666666666667 0 0 0 500.70 122.25Z" fill="#ff3705"/>
<path d="M494.33 123.10A40.82 40.82 0 0 1 491.48 124.28L490.51 121.64A38.013333333333335 38.013333333333335 0 0 0 493.16 120.54Z" fill="#ff5930"/>
<path d="M495.41 125.43A43.38666666666666 43.38666666666666 0 0 1 492.38 126.68L491.40 124.05A40.580000000000005 40.580000000000005 0 0 0 494.23 122.88Z" fill="#ff3e0e"/>
<path d="M490.74 121.81A38.25333333333333 38.25333333333333 0 0 1 488.00 122.73L487.22 120.03A35.446666666666665 35.446666666666665 0 0 0 489.76 119.19Z" fill="#ff3f0f"/>
<path d="M491.65 124.22A40.82 40.82 0 0 1 488.72 125.19L487.93 122.50A38.013333333333335 38.013333333333335 0 0 0 490.66 121.59Z" fill="#ff5227"/>
<path d="M492.55 126.62A43.38666666666666 43.38666666666666 0 0 1 489.44 127.65L488.65 124.96A40.580000000000005 40.580000000000005 0 0 0 491.56 123.99Z" fill="#ff4010"/>
<path d="M488.15 122.68A38.25333333333333 38.25333333333333 0 0 1 485.35 123.40L484.76 120.65A35.446666666666665 35.446666666666665 0 0 0 487.36 119.99Z" fill="#ff3c0b"/>
<path d="M488.88 125.14A40.82 40.82 0 0 1 485.89 125.91L485.30 123.16A38.013333333333335 38.013333333333335 0 0 0 488.09 122.45ZM486.06 125.87A40.82 40.82 0 0 1 483.02 126.42L482.63 123.64A38.013333333333335 38.013333333333335 0 0 0 485.46 123.13Z" fill="#ff4f23"/>
<path d="M489.61 127.60A43.38666666666666 43.38666666666666 0 0 1 486.43 128.41L485.84 125.67A40.580000000000005 40.580000000000005 0 0 0 488.81 124.91Z" fill="#ff4112"/>
<path d="M485.51 123.36A38.25333333333333 38.25333333333333 0 0 1 482.66 123.88L482.27 121.10A35.446666666666665 35.446666666666665 0 0 0 484.91 120.62Z" fill="#ff542a"/>
<path d="M486.61 128.38A43.38666666666666 43.38666666666666 0 0 1 483.38 128.96L482.99 126.18A40.580000000000005 40.580000000000005 0 0 0 486.01 125.63Z" fill="#ff3300"/>
<path d="M482.45 121.31A35.68666666666666 35.68666666666666 0 0 1 479.77 121.60L479.58 118.80A32.88 32.88 0 0 0 482.05 118.54ZM482.82 123.85A38.25333333333333 38.25333333333333 0 0 1 479.95 124.16L479.75 121.36A35.446666666666665 35.446666666666665 0 0 0 482.42 121.08ZM483.19 126.39A40.82 40.82 0 0 1 480.13 126.72L479.93 123.92A38.013333333333335 38.013333333333335 0 0 0 482.79 123.61ZM483.56 128.93A43.38666666666666 43.38666666666666 0 0 1 480.30 129.28L480.11 126.48A40.580000000000005 40.580000000000005 0 0 0 483.16 126.15ZM483.94 131.47A45.953333333333326 45.953333333333326 0 0 1 480.48 131.84L480.29 129.04A43.14666666666667 43.14666666666667 0 0 0 483.53 128.69ZM484.31 134.01A48.519999999999996 48.519999999999996 0 0 1 480.66 134.40L480.47 131.60A45.71333333333333 45.71333333333333 0 0 0 483.90 131.23Z" fill="#e3daf9"/>
<path d="M479.92 121.59A35.68666666666666 35.68666666666666 0 0 1 477.23 121.69L477.23 118.88A32.88 32.88 0 0 0 479.71 118.79ZM480.49 129.27A43.38666666666666 43.38666666666666 0 0 1 477.21 129.39L477.22 126.58A40.580000000000005 40.580000000000005 0 0 0 480.28 126.47ZM477.37 121.69A35.68666666666666 35.68666666666666 0 0 1 474.68 121.59L474.89 118.79A32.88 32.88 0 0 0 477.37 118.88ZM477.39 129.39A43.38666666666666 43.38666666666666 0 0 1 474.11 129.27L474.32 126.47A40.580000000000005 40.580000000000005 0 0 0 477.38 126.58ZM474.47 126.72A40.82 40.82 0 0 1 471.41 126.39L471.81 123.61A38.013333333333335 38.013333333333335 0 0 0 474.67 123.92ZM471.58 126.42A40.82 40.82 0 0 1 468.54 125.87L469.14 123.13A38.013333333333335 38.013333333333335 0 0 0 471.97 123.64ZM463.73 132.58A48.519999999999996 48.519999999999996 0 0 1 460.25 131.43L461.24 128.80A45.71333333333333 45.71333333333333 0 0 0 464.51 129.89ZM464.01 121.87A38.25333333333333 38.25333333333333 0 0 1 461.34 120.76L462.51 118.21A35.446666666666665 35.446666666666665 0 0 0 464.98 119.24ZM461.33 129.09A45.953333333333326 45.953333333333326 0 0 1 458.12 127.76L459.29 125.21A43.14666666666667 43.14666666666667 0 0 0 462.31 126.46ZM460.44 131.50A48.519999999999996 48.519999999999996 0 0 1 457.05 130.09L458.22 127.54A45.71333333333333 45.71333333333333 0 0 0 461.41 128.86ZM460.42 123.17A40.82 40.82 0 0 1 457.66 121.79L459.01 119.33A38.013333333333335 38.013333333333335 0 0 0 461.58 120.61ZM449.84 122.85A45.953333333333326 45.953333333333326 0 0 1 447.13 120.67L448.98 118.55A43.14666666666667 43.14666666666667 0 0 0 451.52 120.59ZM450.63 116.91A40.82 40.82 0 0 1 448.38 114.80L450.36 112.82A38.013333333333335 38.013333333333335 0 0 0 452.47 114.78ZM447.28 120.79A45.953333333333326 45.953333333333326 0 0 1 444.74 118.43L446.73 116.45A43.14666666666667 43.14666666666667 0 0 0 449.11 118.67ZM443.06 120.38A48.519999999999996 48.519999999999996 0 0 1 440.56 117.70L442.69 115.86A45.71333333333333 45.71333333333333 0 0 0 445.04 118.39Z" fill="#ff7f5f"/>
<path d="M480.30 126.71A40.82 40.82 0 0 1 477.21 126.82L477.22 124.01A38.013333333333335 38.013333333333335 0 0 0 480.09 123.91ZM477.38 124.25A38.25333333333333 38.25333333333333 0 0 1 474.49 124.15L474.70 121.35A35.446666666666665 35.446666666666665 0 0 0 477.37 121.45ZM468.71 125.91A40.82 40.82 0 0 1 465.72 125.14L466.51 122.45A38.013333333333335 38.013333333333335 0 0 0 469.30 123.16ZM465.88 125.19A40.82 40.82 0 0 1 462.95 124.22L463.94 121.59A38.013333333333335 38.013333333333335 0 0 0 466.67 122.50ZM465.16 127.65A43.38666666666666 43.38666666666666 0 0 1 462.05 126.62L463.04 123.99A40.580000000000005 40.580000000000005 0 0 0 465.95 124.96ZM462.22 126.68A43.38666666666666 43.38666666666666 0 0 1 459.19 125.43L460.37 122.88A40.580000000000005 40.580000000000005 0 0 0 463.20 124.05ZM459.36 125.50A43.38666666666666 43.38666666666666 0 0 1 456.43 124.04L457.78 121.58A40.580000000000005 40.580000000000005 0 0 0 460.52 122.95ZM455.36 126.38A45.953333333333326 45.953333333333326 0 0 1 452.37 124.61L453.90 122.25A43.14666666666667 43.14666666666667 0 0 0 456.70 123.91ZM455.30 120.39A40.82 40.82 0 0 1 452.77 118.63L454.46 116.38A38.013333333333335 38.013333333333335 0 0 0 456.82 118.02ZM452.54 124.71A45.953333333333326 45.953333333333326 0 0 1 449.68 122.73L451.37 120.49A43.14666666666667 43.14666666666667 0 0 0 454.05 122.35ZM448.30 124.90A48.519999999999996 48.519999999999996 0 0 1 445.45 122.60L447.29 120.49A45.71333333333333 45.71333333333333 0 0 0 449.98 122.65ZM448.96 118.85A43.38666666666666 43.38666666666666 0 0 1 446.56 116.61L448.55 114.63A40.580000000000005 40.580000000000005 0 0 0 450.79 116.72Z" fill="#ff2a00"/>
<path d="M480.67 131.83A45.953333333333326 45.953333333333326 0 0 1 477.20 131.95L477.21 129.15A43.14666666666667 43.14666666666667 0 0 0 480.47 129.03ZM477.40 131.95A45.953333333333326 45.953333333333326 0 0 1 473.93 131.83L474.13 129.03A43.14666666666667 43.14666666666667 0 0 0 477.39 129.15ZM474.12 131.84A45.953333333333326 45.953333333333326 0 0 1 470.66 131.47L471.07 128.69A43.14666666666667 43.14666666666667 0 0 0 474.31 129.04ZM470.86 131.50A45.953333333333326 45.953333333333326 0 0 1 467.44 130.88L468.04 128.14A43.14666666666667 43.14666666666667 0 0 0 471.25 128.72ZM470.50 134.04A48.519999999999996 48.519999999999996 0 0 1 466.89 133.39L467.49 130.65A45.71333333333333 45.71333333333333 0 0 0 470.89 131.26ZM469.79 120.89A35.68666666666666 35.68666666666666 0 0 1 467.17 120.22L467.97 117.53A32.88 32.88 0 0 0 470.38 118.14ZM467.32 120.26A35.68666666666666 35.68666666666666 0 0 1 464.76 119.41L465.75 116.78A32.88 32.88 0 0 0 468.10 117.57ZM462.54 118.49A35.68666666666666 35.68666666666666 0 0 1 460.13 117.29L461.48 114.83A32.88 32.88 0 0 0 463.70 115.94ZM461.48 120.83A38.25333333333333 38.25333333333333 0 0 1 458.90 119.54L460.25 117.08A35.446666666666665 35.446666666666665 0 0 0 462.64 118.27ZM460.26 117.36A35.68666666666666 35.68666666666666 0 0 1 457.94 115.98L459.47 113.62A32.88 32.88 0 0 0 461.60 114.89ZM459.04 119.61A38.25333333333333 38.25333333333333 0 0 1 456.55 118.14L458.07 115.78A35.446666666666665 35.446666666666665 0 0 0 460.38 117.15ZM456.69 118.22A38.25333333333333 38.25333333333333 0 0 1 454.31 116.58L456.00 114.33A35.446666666666665 35.446666666666665 0 0 0 458.20 115.86ZM454.44 116.67A38.25333333333333 38.25333333333333 0 0 1 452.19 114.86L454.03 112.74A35.446666666666665 35.446666666666665 0 0 0 456.12 114.42ZM442.63 116.17A45.953333333333326 45.953333333333326 0 0 1 440.45 113.46L442.71 111.78A43.14666666666667 43.14666666666667 0 0 0 444.75 114.32ZM436.54 112.32A48.519999999999996 48.519999999999996 0 0 1 434.67 109.16L437.13 107.82A45.71333333333333 45.71333333333333 0 0 0 438.90 110.79Z" fill="#ffd4c9"/>
<path d="M480.86 134.39A48.519999999999996 48.519999999999996 0 0 1 477.20 134.52L477.20 131.71A45.71333333333333 45.71333333333333 0 0 0 480.66 131.59ZM477.40 134.52A48.519999999999996 48.519999999999996 0 0 1 473.74 134.39L473.94 131.59A45.71333333333333 45.71333333333333 0 0 0 477.40 131.71ZM474.83 121.60A35.68666666666666 35.68666666666666 0 0 1 472.15 121.31L472.55 118.54A32.88 32.88 0 0 0 475.02 118.80ZM474.30 129.28A43.38666666666666 43.38666666666666 0 0 1 471.04 128.93L471.44 126.15A40.580000000000005 40.580000000000005 0 0 0 474.49 126.48ZM473.94 134.40A48.519999999999996 48.519999999999996 0 0 1 470.29 134.01L470.70 131.23A45.71333333333333 45.71333333333333 0 0 0 474.13 131.60ZM472.30 121.33A35.68666666666666 35.68666666666666 0 0 1 469.64 120.86L470.24 118.11A32.88 32.88 0 0 0 472.69 118.56ZM471.22 128.96A43.38666666666666 43.38666666666666 0 0 1 467.99 128.38L468.59 125.63A40.580000000000005 40.580000000000005 0 0 0 471.61 126.18ZM467.63 130.92A45.953333333333326 45.953333333333326 0 0 1 464.26 130.06L465.06 127.37A43.14666666666667 43.14666666666667 0 0 0 468.22 128.18ZM467.09 133.43A48.519999999999996 48.519999999999996 0 0 1 463.53 132.53L464.33 129.83A45.71333333333333 45.71333333333333 0 0 0 467.68 130.69ZM464.45 130.12A45.953333333333326 45.953333333333326 0 0 1 461.15 129.02L462.14 126.39A43.14666666666667 43.14666666666667 0 0 0 465.23 127.42ZM464.90 119.46A35.68666666666666 35.68666666666666 0 0 1 462.41 118.43L463.58 115.88A32.88 32.88 0 0 0 465.87 116.83ZM448.50 114.92A40.82 40.82 0 0 1 446.39 112.67L448.52 110.83A38.013333333333335 38.013333333333335 0 0 0 450.48 112.94ZM444.87 118.56A45.953333333333326 45.953333333333326 0 0 1 442.51 116.02L444.63 114.19A43.14666666666667 43.14666666666667 0 0 0 446.85 116.57ZM444.57 114.48A43.38666666666666 43.38666666666666 0 0 1 442.51 111.93L444.76 110.25A40.580000000000005 40.580000000000005 0 0 0 446.69 112.64ZM440.70 117.85A48.519999999999996 48.519999999999996 0 0 1 438.40 115.00L440.65 113.32A45.71333333333333 45.71333333333333 0 0 0 442.81 116.01ZM442.62 112.07A43.38666666666666 43.38666666666666 0 0 1 440.75 109.38L443.12 107.87A40.580000000000005 40.580000000000005 0 0 0 444.87 110.39ZM438.52 115.16A48.519999999999996 48.519999999999996 0 0 1 436.43 112.15L438.79 110.63A45.71333333333333 45.71333333333333 0 0 0 440.76 113.47Z" fill="#ffaa94"/>
<path d="M458.07 116.06A35.68666666666666 35.68666666666666 0 0 1 455.85 114.52L457.54 112.28A32.88 32.88 0 0 0 459.58 113.70ZM452.31 114.96A38.25333333333333 38.25333333333333 0 0 1 450.19 112.99L452.18 111.01A35.446666666666665 35.446666666666665 0 0 0 454.14 112.84ZM446.51 112.80A40.82 40.82 0 0 1 444.57 110.39L446.82 108.72A38.013333333333335 38.013333333333335 0 0 0 448.62 110.95ZM440.57 113.62A45.953333333333326 45.953333333333326 0 0 1 438.59 110.76L440.95 109.25A43.14666666666667 43.14666666666667 0 0 0 442.81 111.93ZM440.85 109.53A43.38666666666666 43.38666666666666 0 0 1 439.18 106.71L441.64 105.37A40.580000000000005 40.580000000000005 0 0 0 443.21 108.01ZM485.35 48.60A38.25333333333333 38.25333333333333 0 0 1 488.15 49.32L487.36 52.01A35.446666666666665 35.446666666666665 0 0 0 484.76 51.35ZM490.59 50.13A38.25333333333333 38.25333333333333 0 0 1 493.26 51.24L492.09 53.79A35.446666666666665 35.446666666666665 0 0 0 489.62 52.76ZM492.38 45.32A43.38666666666666 43.38666666666666 0 0 1 495.41 46.57L494.23 49.12A40.580000000000005 40.580000000000005 0 0 0 491.40 47.95ZM495.24 46.50A43.38666666666666 43.38666666666666 0 0 1 498.17 47.96L496.82 50.42A40.580000000000005 40.580000000000005 0 0 0 494.08 49.05ZM498.01 47.88A43.38666666666666 43.38666666666666 0 0 1 500.83 49.55L499.31 51.91A40.580000000000005 40.580000000000005 0 0 0 496.67 50.34ZM500.68 49.45A43.38666666666666 43.38666666666666 0 0 1 503.37 51.32L501.69 53.57A40.580000000000005 40.580000000000005 0 0 0 499.17 51.82ZM505.64 53.15A43.38666666666666 43.38666666666666 0 0 1 508.04 55.39L506.05 57.37A40.580000000000005 40.580000000000005 0 0 0 503.81 55.28ZM505.82 64.55A35.68666666666666 35.68666666666666 0 0 1 507.36 66.77L505.00 68.28A32.88 32.88 0 0 0 503.58 66.24ZM507.28 66.64A35.68666666666666 35.68666666666666 0 0 1 508.66 68.96L506.19 70.30A32.88 32.88 0 0 0 504.92 68.17ZM508.59 68.83A35.68666666666666 35.68666666666666 0 0 1 509.79 71.24L507.24 72.40A32.88 32.88 0 0 0 506.13 70.18ZM512.16 78.34A35.68666666666666 35.68666666666666 0 0 1 512.63 81.00L509.86 81.39A32.88 32.88 0 0 0 509.41 78.94ZM520.57 82.81A43.38666666666666 43.38666666666666 0 0 1 520.69 86.09L517.88 86.08A40.580000000000005 40.580000000000005 0 0 0 517.77 83.02Z" fill="#ffffff"/>
<path d="M455.97 114.61A35.68666666666666 35.68666666666666 0 0 1 453.87 112.92L455.72 110.80A32.88 32.88 0 0 0 457.65 112.36ZM450.31 113.11A38.25333333333333 38.25333333333333 0 0 1 448.34 110.99L450.46 109.16A35.446666666666665 35.446666666666665 0 0 0 452.29 111.12ZM444.67 110.53A40.82 40.82 0 0 1 442.91 108.00L445.28 106.48A38.013333333333335 38.013333333333335 0 0 0 446.92 108.84ZM438.69 110.93A45.953333333333326 45.953333333333326 0 0 1 436.92 107.94L439.39 106.60A43.14666666666667 43.14666666666667 0 0 0 441.05 109.40Z" fill="#f9f8fe"/>
<path d="M453.99 113.02A35.68666666666666 35.68666666666666 0 0 1 452.01 111.18L454.00 109.20A32.88 32.88 0 0 0 455.82 110.89ZM448.44 111.11A38.25333333333333 38.25333333333333 0 0 1 446.63 108.86L448.88 107.18A35.446666666666665 35.446666666666665 0 0 0 450.56 109.27Z" fill="#f4f1fd"/>
<path d="M452.12 111.29A35.68666666666666 35.68666666666666 0 0 1 450.28 109.31L452.41 107.48A32.88 32.88 0 0 0 454.10 109.30ZM450.38 109.43A35.68666666666666 35.68666666666666 0 0 1 448.69 107.33L450.94 105.65A32.88 32.88 0 0 0 452.50 107.58ZM448.78 107.45A35.68666666666666 35.68666666666666 0 0 1 447.24 105.23L449.60 103.72A32.88 32.88 0 0 0 451.02 105.76Z" fill="#eae3fb"/>
<path d="M446.72 108.99A38.25333333333333 38.25333333333333 0 0 1 445.08 106.61L447.44 105.10A35.446666666666665 35.446666666666665 0 0 0 448.97 107.30ZM447.32 105.36A35.68666666666666 35.68666666666666 0 0 1 445.94 103.04L448.41 101.70A32.88 32.88 0 0 0 449.68 103.83ZM443.01 108.14A40.82 40.82 0 0 1 441.43 105.49L443.90 104.15A38.013333333333335 38.013333333333335 0 0 0 445.36 106.62ZM522.77 79.36A45.953333333333326 45.953333333333326 0 0 1 523.14 82.82L520.34 83.01A43.14666666666667 43.14666666666667 0 0 0 519.99 79.77Z" fill="#efeafc"/>
<path d="M445.16 106.75A38.25333333333333 38.25333333333333 0 0 1 443.69 104.26L446.15 102.92A35.446666666666665 35.446666666666665 0 0 0 447.52 105.23Z" fill="#e5dcfa"/>
<path d="M446.01 103.17A35.68666666666666 35.68666666666666 0 0 1 444.81 100.76L447.36 99.60A32.88 32.88 0 0 0 448.47 101.82ZM434.76 109.34A48.519999999999996 48.519999999999996 0 0 1 433.12 106.06L435.68 104.90A45.71333333333333 45.71333333333333 0 0 0 437.22 107.99ZM440.20 103.03A40.82 40.82 0 0 1 439.02 100.18L441.66 99.21A38.013333333333335 38.013333333333335 0 0 0 442.76 101.86ZM431.83 92.64A45.953333333333326 45.953333333333326 0 0 1 431.46 89.18L434.26 88.99A43.14666666666667 43.14666666666667 0 0 0 434.61 92.23ZM436.88 80.28A40.82 40.82 0 0 1 437.43 77.24L440.17 77.84A38.013333333333335 38.013333333333335 0 0 0 439.66 80.67ZM431.80 79.56A45.953333333333326 45.953333333333326 0 0 1 432.42 76.14L435.16 76.74A43.14666666666667 43.14666666666667 0 0 0 434.58 79.95ZM437.39 77.41A40.82 40.82 0 0 1 438.16 74.42L440.85 75.21A38.013333333333335 38.013333333333335 0 0 0 440.14 78.00ZM447.24 66.77A35.68666666666666 35.68666666666666 0 0 1 448.78 64.55L451.02 66.24A32.88 32.88 0 0 0 449.60 68.28ZM448.82 53.27A43.38666666666666 43.38666666666666 0 0 1 451.37 51.21L453.05 53.46A40.580000000000005 40.580000000000005 0 0 0 450.66 55.39ZM454.31 55.42A38.25333333333333 38.25333333333333 0 0 1 456.69 53.78L458.20 56.14A35.446666666666665 35.446666666666665 0 0 0 456.00 57.67ZM456.55 53.86A38.25333333333333 38.25333333333333 0 0 1 459.04 52.39L460.38 54.85A35.446666666666665 35.446666666666665 0 0 0 458.07 56.22ZM453.77 49.55A43.38666666666666 43.38666666666666 0 0 1 456.59 47.88L457.93 50.34A40.580000000000005 40.580000000000005 0 0 0 455.29 51.91ZM450.98 45.24A48.519999999999996 48.519999999999996 0 0 1 454.14 43.37L455.48 45.83A45.71333333333333 45.71333333333333 0 0 0 452.51 47.60ZM457.05 41.91A48.519999999999996 48.519999999999996 0 0 1 460.44 40.50L461.41 43.14A45.71333333333333 45.71333333333333 0 0 0 458.22 44.46ZM474.49 47.85A38.25333333333333 38.25333333333333 0 0 1 477.38 47.75L477.37 50.55A35.446666666666665 35.446666666666665 0 0 0 474.70 50.65ZM483.74 40.50A45.953333333333326 45.953333333333326 0 0 1 487.16 41.12L486.56 43.86A43.14666666666667 43.14666666666667 0 0 0 483.35 43.28ZM509.00 49.26A48.519999999999996 48.519999999999996 0 0 1 511.68 51.76L509.69 53.74A45.71333333333333 45.71333333333333 0 0 0 507.16 51.39ZM513.90 54.15A48.519999999999996 48.519999999999996 0 0 1 516.20 57.00L513.95 58.68A45.71333333333333 45.71333333333333 0 0 0 511.79 55.99Z" fill="#ebe5fb"/>
<path d="M441.51 105.64A40.82 40.82 0 0 1 440.13 102.88L442.69 101.72A38.013333333333335 38.013333333333335 0 0 0 443.97 104.29ZM439.26 106.87A43.38666666666666 43.38666666666666 0 0 1 437.80 103.94L440.35 102.78A40.580000000000005 40.580000000000005 0 0 0 441.72 105.52ZM433.21 106.25A48.519999999999996 48.519999999999996 0 0 1 431.80 102.86L434.44 101.89A45.71333333333333 45.71333333333333 0 0 0 435.76 105.08ZM439.08 100.35A40.82 40.82 0 0 1 438.11 97.42L440.80 96.63A38.013333333333335 38.013333333333335 0 0 0 441.71 99.36ZM431.87 103.05A48.519999999999996 48.519999999999996 0 0 1 430.72 99.57L433.41 98.79A45.71333333333333 45.71333333333333 0 0 0 434.50 102.06ZM433.24 99.04A45.953333333333326 45.953333333333326 0 0 1 432.38 95.67L435.12 95.08A43.14666666666667 43.14666666666667 0 0 0 435.93 98.24ZM432.42 95.86A45.953333333333326 45.953333333333326 0 0 1 431.80 92.44L434.58 92.05A43.14666666666667 43.14666666666667 0 0 0 435.16 95.26ZM439.45 91.52A38.25333333333333 38.25333333333333 0 0 1 439.14 88.65L441.94 88.45A35.446666666666665 35.446666666666665 0 0 0 442.22 91.12ZM441.61 86.07A35.68666666666666 35.68666666666666 0 0 1 441.71 83.38L444.51 83.59A32.88 32.88 0 0 0 444.42 86.07ZM436.58 83.17A40.82 40.82 0 0 1 436.91 80.11L439.69 80.51A38.013333333333335 38.013333333333335 0 0 0 439.38 83.37ZM441.97 81.00A35.68666666666666 35.68666666666666 0 0 1 442.44 78.34L445.19 78.94A32.88 32.88 0 0 0 444.74 81.39ZM442.41 78.49A35.68666666666666 35.68666666666666 0 0 1 443.08 75.87L445.77 76.67A32.88 32.88 0 0 0 445.16 79.08ZM432.38 76.33A45.953333333333326 45.953333333333326 0 0 1 433.24 72.96L435.93 73.76A43.14666666666667 43.14666666666667 0 0 0 435.12 76.92ZM438.11 74.58A40.82 40.82 0 0 1 439.08 71.65L441.71 72.64A38.013333333333335 38.013333333333335 0 0 0 440.80 75.37ZM436.92 64.06A45.953333333333326 45.953333333333326 0 0 1 438.69 61.07L441.05 62.60A43.14666666666667 43.14666666666667 0 0 0 439.39 65.40ZM434.67 62.84A48.519999999999996 48.519999999999996 0 0 1 436.54 59.68L438.90 61.21A45.71333333333333 45.71333333333333 0 0 0 437.13 64.18ZM438.59 61.24A45.953333333333326 45.953333333333326 0 0 1 440.57 58.38L442.81 60.07A43.14666666666667 43.14666666666667 0 0 0 440.95 62.75ZM440.45 58.54A45.953333333333326 45.953333333333326 0 0 1 442.63 55.83L444.75 57.68A43.14666666666667 43.14666666666667 0 0 0 442.71 60.22ZM444.45 57.66A43.38666666666666 43.38666666666666 0 0 1 446.69 55.26L448.67 57.25A40.580000000000005 40.580000000000005 0 0 0 446.58 59.49ZM446.56 55.39A43.38666666666666 43.38666666666666 0 0 1 448.96 53.15L450.79 55.28A40.580000000000005 40.580000000000005 0 0 0 448.55 57.37ZM452.19 57.14A38.25333333333333 38.25333333333333 0 0 1 454.44 55.33L456.12 57.58A35.446666666666665 35.446666666666665 0 0 0 454.03 59.26ZM445.45 49.40A48.519999999999996 48.519999999999996 0 0 1 448.30 47.10L449.98 49.35A45.71333333333333 45.71333333333333 0 0 0 447.29 51.51ZM451.23 51.32A43.38666666666666 43.38666666666666 0 0 1 453.92 49.45L455.43 51.82A40.580000000000005 40.580000000000005 0 0 0 452.91 53.57ZM448.14 47.22A48.519999999999996 48.519999999999996 0 0 1 451.15 45.13L452.67 47.49A45.71333333333333 45.71333333333333 0 0 0 449.83 49.46ZM455.16 51.71A40.82 40.82 0 0 1 457.81 50.13L459.15 52.60A38.013333333333335 38.013333333333335 0 0 0 456.68 54.06ZM458.90 52.46A38.25333333333333 38.25333333333333 0 0 1 461.48 51.17L462.64 53.73A35.446666666666665 35.446666666666665 0 0 0 460.25 54.92ZM457.66 50.21A40.82 40.82 0 0 1 460.42 48.83L461.58 51.39A38.013333333333335 38.013333333333335 0 0 0 459.01 52.67ZM453.96 43.46A48.519999999999996 48.519999999999996 0 0 1 457.24 41.82L458.40 44.38A45.71333333333333 45.71333333333333 0 0 0 455.31 45.92ZM458.12 44.24A45.953333333333326 45.953333333333326 0 0 1 461.33 42.91L462.31 45.54A43.14666666666667 43.14666666666667 0 0 0 459.29 46.79ZM464.76 52.59A35.68666666666666 35.68666666666666 0 0 1 467.32 51.74L468.10 54.43A32.88 32.88 0 0 0 465.75 55.22ZM477.21 42.61A43.38666666666666 43.38666666666666 0 0 1 480.49 42.73L480.28 45.53A40.580000000000005 40.580000000000005 0 0 0 477.22 45.42ZM480.30 42.72A43.38666666666666 43.38666666666666 0 0 1 483.56 43.07L483.16 45.85A40.580000000000005 40.580000000000005 0 0 0 480.11 45.52ZM486.97 41.08A45.953333333333326 45.953333333333326 0 0 1 490.34 41.94L489.54 44.63A43.14666666666667 43.14666666666667 0 0 0 486.38 43.82ZM499.24 45.62A45.953333333333326 45.953333333333326 0 0 1 502.23 47.39L500.70 49.75A43.14666666666667 43.14666666666667 0 0 0 497.90 48.09ZM500.46 43.37A48.519999999999996 48.519999999999996 0 0 1 503.62 45.24L502.09 47.60A45.71333333333333 45.71333333333333 0 0 0 499.12 45.83ZM503.45 45.13A48.519999999999996 48.519999999999996 0 0 1 506.46 47.22L504.77 49.46A45.71333333333333 45.71333333333333 0 0 0 501.93 47.49ZM506.30 47.10A48.519999999999996 48.519999999999996 0 0 1 509.15 49.40L507.31 51.51A45.71333333333333 45.71333333333333 0 0 0 504.62 49.35ZM511.54 51.62A48.519999999999996 48.519999999999996 0 0 1 514.04 54.30L511.91 56.14A45.71333333333333 45.71333333333333 0 0 0 509.56 53.61ZM522.18 76.14A45.953333333333326 45.953333333333326 0 0 1 522.80 79.56L520.02 79.95A43.14666666666667 43.14666666666667 0 0 0 519.44 76.74ZM523.13 82.63A45.953333333333326 45.953333333333326 0 0 1 523.25 86.10L520.45 86.09A43.14666666666667 43.14666666666667 0 0 0 520.33 82.83Z" fill="#e7e0fa"/>
<path d="M444.87 100.89A35.68666666666666 35.68666666666666 0 0 1 443.84 98.40L446.47 97.43A32.88 32.88 0 0 0 447.42 99.72ZM434.28 102.15A45.953333333333326 45.953333333333326 0 0 1 433.18 98.85L435.88 98.07A43.14666666666667 43.14666666666667 0 0 0 436.91 101.16ZM438.16 97.58A40.82 40.82 0 0 1 437.39 94.59L440.14 94.00A38.013333333333335 38.013333333333335 0 0 0 440.85 96.79ZM430.77 99.77A48.519999999999996 48.519999999999996 0 0 1 429.87 96.21L432.61 95.62A45.71333333333333 45.71333333333333 0 0 0 433.47 98.97ZM439.94 94.21A38.25333333333333 38.25333333333333 0 0 1 439.42 91.36L442.20 90.97A35.446666666666665 35.446666666666665 0 0 0 442.68 93.61ZM434.92 95.31A43.38666666666666 43.38666666666666 0 0 1 434.34 92.08L437.12 91.69A40.580000000000005 40.580000000000005 0 0 0 437.67 94.71ZM434.37 92.26A43.38666666666666 43.38666666666666 0 0 1 434.02 89.00L436.82 88.81A40.580000000000005 40.580000000000005 0 0 0 437.15 91.86ZM439.15 88.81A38.25333333333333 38.25333333333333 0 0 1 439.05 85.92L441.85 85.93A35.446666666666665 35.446666666666665 0 0 0 441.95 88.60ZM431.47 89.37A45.953333333333326 45.953333333333326 0 0 1 431.35 85.90L434.15 85.91A43.14666666666667 43.14666666666667 0 0 0 434.27 89.17ZM439.05 86.08A38.25333333333333 38.25333333333333 0 0 1 439.15 83.19L441.95 83.40A35.446666666666665 35.446666666666665 0 0 0 441.85 86.07ZM431.35 86.10A45.953333333333326 45.953333333333326 0 0 1 431.47 82.63L434.27 82.83A43.14666666666667 43.14666666666667 0 0 0 434.15 86.09ZM441.70 83.53A35.68666666666666 35.68666666666666 0 0 1 441.99 80.85L444.76 81.25A32.88 32.88 0 0 0 444.50 83.72ZM431.46 82.82A45.953333333333326 45.953333333333326 0 0 1 431.83 79.36L434.61 79.77A43.14666666666667 43.14666666666667 0 0 0 434.26 83.01ZM434.34 79.92A43.38666666666666 43.38666666666666 0 0 1 434.92 76.69L437.67 77.29A40.580000000000005 40.580000000000005 0 0 0 437.12 80.31ZM429.87 75.79A48.519999999999996 48.519999999999996 0 0 1 430.77 72.23L433.47 73.03A45.71333333333333 45.71333333333333 0 0 0 432.61 76.38ZM443.04 76.02A35.68666666666666 35.68666666666666 0 0 1 443.89 73.46L446.52 74.45A32.88 32.88 0 0 0 445.73 76.80ZM434.21 70.03A45.953333333333326 45.953333333333326 0 0 1 435.54 66.82L438.09 67.99A43.14666666666667 43.14666666666667 0 0 0 436.84 71.01ZM431.80 69.14A48.519999999999996 48.519999999999996 0 0 1 433.21 65.75L435.76 66.92A45.71333333333333 45.71333333333333 0 0 0 434.44 70.11ZM433.12 65.94A48.519999999999996 48.519999999999996 0 0 1 434.76 62.66L437.22 64.01A45.71333333333333 45.71333333333333 0 0 0 435.68 67.10ZM445.94 68.96A35.68666666666666 35.68666666666666 0 0 1 447.32 66.64L449.68 68.17A32.88 32.88 0 0 0 448.41 70.30ZM436.43 59.85A48.519999999999996 48.519999999999996 0 0 1 438.52 56.84L440.76 58.53A45.71333333333333 45.71333333333333 0 0 0 438.79 61.37ZM448.69 64.67A35.68666666666666 35.68666666666666 0 0 1 450.38 62.57L452.50 64.42A32.88 32.88 0 0 0 450.94 66.35ZM438.40 57.00A48.519999999999996 48.519999999999996 0 0 1 440.70 54.15L442.81 55.99A45.71333333333333 45.71333333333333 0 0 0 440.65 58.68ZM440.56 54.30A48.519999999999996 48.519999999999996 0 0 1 443.06 51.62L445.04 53.61A45.71333333333333 45.71333333333333 0 0 0 442.69 56.14ZM455.85 57.48A35.68666666666666 35.68666666666666 0 0 1 458.07 55.94L459.58 58.30A32.88 32.88 0 0 0 457.54 59.72ZM452.77 53.37A40.82 40.82 0 0 1 455.30 51.61L456.82 53.98A38.013333333333335 38.013333333333335 0 0 0 454.46 55.62ZM460.25 40.57A48.519999999999996 48.519999999999996 0 0 1 463.73 39.42L464.51 42.11A45.71333333333333 45.71333333333333 0 0 0 461.24 43.20ZM467.17 51.78A35.68666666666666 35.68666666666666 0 0 1 469.79 51.11L470.38 53.86A32.88 32.88 0 0 0 467.97 54.47ZM463.53 39.47A48.519999999999996 48.519999999999996 0 0 1 467.09 38.57L467.68 41.31A45.71333333333333 45.71333333333333 0 0 0 464.33 42.17ZM467.99 43.62A43.38666666666666 43.38666666666666 0 0 1 471.22 43.04L471.61 45.82A40.580000000000005 40.580000000000005 0 0 0 468.59 46.37ZM471.78 48.15A38.25333333333333 38.25333333333333 0 0 1 474.65 47.84L474.85 50.64A35.446666666666665 35.446666666666665 0 0 0 472.18 50.92ZM471.41 45.61A40.82 40.82 0 0 1 474.47 45.28L474.67 48.08A38.013333333333335 38.013333333333335 0 0 0 471.81 48.39ZM471.04 43.07A43.38666666666666 43.38666666666666 0 0 1 474.30 42.72L474.49 45.52A40.580000000000005 40.580000000000005 0 0 0 471.44 45.85ZM470.29 37.99A48.519999999999996 48.519999999999996 0 0 1 473.94 37.60L474.13 40.40A45.71333333333333 45.71333333333333 0 0 0 470.70 40.77ZM474.11 42.73A43.38666666666666 43.38666666666666 0 0 1 477.39 42.61L477.38 45.42A40.580000000000005 40.580000000000005 0 0 0 474.32 45.53ZM477.22 47.75A38.25333333333333 38.25333333333333 0 0 1 480.11 47.85L479.90 50.65A35.446666666666665 35.446666666666665 0 0 0 477.23 50.55ZM477.21 45.18A40.82 40.82 0 0 1 480.30 45.29L480.09 48.09A38.013333333333335 38.013333333333335 0 0 0 477.22 47.99ZM479.95 47.84A38.25333333333333 38.25333333333333 0 0 1 482.82 48.15L482.42 50.92A35.446666666666665 35.446666666666665 0 0 0 479.75 50.64ZM480.13 45.28A40.82 40.82 0 0 1 483.19 45.61L482.79 48.39A38.013333333333335 38.013333333333335 0 0 0 479.93 48.08ZM480.48 40.16A45.953333333333326 45.953333333333326 0 0 1 483.94 40.53L483.53 43.31A43.14666666666667 43.14666666666667 0 0 0 480.29 42.96ZM490.15 41.88A45.953333333333326 45.953333333333326 0 0 1 493.45 42.98L492.46 45.61A43.14666666666667 43.14666666666667 0 0 0 489.37 44.58ZM496.30 44.16A45.953333333333326 45.953333333333326 0 0 1 499.41 45.71L498.06 48.17A43.14666666666667 43.14666666666667 0 0 0 495.14 46.71ZM497.36 41.82A48.519999999999996 48.519999999999996 0 0 1 500.64 43.46L499.29 45.92A45.71333333333333 45.71333333333333 0 0 0 496.20 44.38ZM515.91 61.07A45.953333333333326 45.953333333333326 0 0 1 517.68 64.06L515.21 65.40A43.14666666666667 43.14666666666667 0 0 0 513.55 62.60ZM522.73 68.95A48.519999999999996 48.519999999999996 0 0 1 523.88 72.43L521.19 73.21A45.71333333333333 45.71333333333333 0 0 0 520.10 69.94ZM524.69 75.59A48.519999999999996 48.519999999999996 0 0 1 525.34 79.20L522.56 79.59A45.71333333333333 45.71333333333333 0 0 0 521.95 76.19Z" fill="#e3dbf9"/>
<path d="M482.30 50.67A35.68666666666666 35.68666666666666 0 0 1 484.96 51.14L484.36 53.89A32.88 32.88 0 0 0 481.91 53.44ZM483.38 43.04A43.38666666666666 43.38666666666666 0 0 1 486.61 43.62L486.01 46.37A40.580000000000005 40.580000000000005 0 0 0 482.99 45.82ZM488.00 49.27A38.25333333333333 38.25333333333333 0 0 1 490.74 50.19L489.76 52.81A35.446666666666665 35.446666666666665 0 0 0 487.22 51.97ZM489.44 44.35A43.38666666666666 43.38666666666666 0 0 1 492.55 45.38L491.56 48.01A40.580000000000005 40.580000000000005 0 0 0 488.65 47.04ZM493.12 51.17A38.25333333333333 38.25333333333333 0 0 1 495.70 52.46L494.35 54.92A35.446666666666665 35.446666666666665 0 0 0 491.96 53.73ZM494.34 54.64A35.68666666666666 35.68666666666666 0 0 1 496.66 56.02L495.13 58.38A32.88 32.88 0 0 0 493.00 57.11ZM495.56 52.39A38.25333333333333 38.25333333333333 0 0 1 498.05 53.86L496.53 56.22A35.446666666666665 35.446666666666665 0 0 0 494.22 54.85ZM504.22 62.57A35.68666666666666 35.68666666666666 0 0 1 505.91 64.67L503.66 66.35A32.88 32.88 0 0 0 502.10 64.42ZM508.09 59.20A40.82 40.82 0 0 1 510.03 61.61L507.78 63.28A38.013333333333335 38.013333333333335 0 0 0 505.98 61.05ZM509.73 71.11A35.68666666666666 35.68666666666666 0 0 1 510.76 73.60L508.13 74.57A32.88 32.88 0 0 0 507.18 72.28ZM510.71 73.46A35.68666666666666 35.68666666666666 0 0 1 511.56 76.02L508.87 76.80A32.88 32.88 0 0 0 508.08 74.45ZM511.52 75.87A35.68666666666666 35.68666666666666 0 0 1 512.19 78.49L509.44 79.08A32.88 32.88 0 0 0 508.83 76.67ZM512.61 80.85A35.68666666666666 35.68666666666666 0 0 1 512.90 83.53L510.10 83.72A32.88 32.88 0 0 0 509.84 81.25ZM512.89 83.38A35.68666666666666 35.68666666666666 0 0 1 512.99 86.07L510.18 86.07A32.88 32.88 0 0 0 510.09 83.59Z" fill="#fbf9fe"/>
<path d="M489.70 52.54A35.68666666666666 35.68666666666666 0 0 1 492.19 53.57L491.02 56.12A32.88 32.88 0 0 0 488.73 55.17ZM497.91 53.78A38.25333333333333 38.25333333333333 0 0 1 500.29 55.42L498.60 57.67A35.446666666666665 35.446666666666665 0 0 0 496.40 56.14ZM516.44 74.42A40.82 40.82 0 0 1 517.21 77.41L514.46 78.00A38.013333333333335 38.013333333333335 0 0 0 513.75 75.21Z" fill="#f7f4fd"/>
<path d="M500.16 55.33A38.25333333333333 38.25333333333333 0 0 1 502.41 57.14L500.57 59.26A35.446666666666665 35.446666666666665 0 0 0 498.48 57.58ZM503.23 51.21A43.38666666666666 43.38666666666666 0 0 1 505.78 53.27L503.94 55.39A40.580000000000005 40.580000000000005 0 0 0 501.55 53.46ZM502.29 57.04A38.25333333333333 38.25333333333333 0 0 1 504.41 59.01L502.42 60.99A35.446666666666665 35.446666666666665 0 0 0 500.46 59.16ZM504.29 58.89A38.25333333333333 38.25333333333333 0 0 1 506.26 61.01L504.14 62.84A35.446666666666665 35.446666666666665 0 0 0 502.31 60.88ZM506.16 60.89A38.25333333333333 38.25333333333333 0 0 1 507.97 63.14L505.72 64.82A35.446666666666665 35.446666666666665 0 0 0 504.04 62.73ZM515.45 83.19A38.25333333333333 38.25333333333333 0 0 1 515.55 86.08L512.75 86.07A35.446666666666665 35.446666666666665 0 0 0 512.65 83.40Z" fill="#ffdfd7"/>
<path d="M507.88 63.01A38.25333333333333 38.25333333333333 0 0 1 509.52 65.39L507.16 66.90A35.446666666666665 35.446666666666665 0 0 0 505.63 64.70ZM509.44 65.25A38.25333333333333 38.25333333333333 0 0 1 510.91 67.74L508.45 69.08A35.446666666666665 35.446666666666665 0 0 0 507.08 66.77ZM511.59 63.86A40.82 40.82 0 0 1 513.17 66.51L510.70 67.85A38.013333333333335 38.013333333333335 0 0 0 509.24 65.38ZM513.09 66.36A40.82 40.82 0 0 1 514.47 69.12L511.91 70.28A38.013333333333335 38.013333333333335 0 0 0 510.63 67.71ZM514.40 68.97A40.82 40.82 0 0 1 515.58 71.82L512.94 72.79A38.013333333333335 38.013333333333335 0 0 0 511.84 70.14ZM513.11 72.56A38.25333333333333 38.25333333333333 0 0 1 514.03 75.30L511.33 76.08A35.446666666666665 35.446666666666665 0 0 0 510.49 73.54ZM513.98 75.15A38.25333333333333 38.25333333333333 0 0 1 514.70 77.95L511.95 78.54A35.446666666666665 35.446666666666665 0 0 0 511.29 75.94ZM514.66 77.79A38.25333333333333 38.25333333333333 0 0 1 515.18 80.64L512.40 81.03A35.446666666666665 35.446666666666665 0 0 0 511.92 78.39ZM515.15 80.48A38.25333333333333 38.25333333333333 0 0 1 515.46 83.35L512.66 83.55A35.446666666666665 35.446666666666665 0 0 0 512.38 80.88Z" fill="#ff9f87"/>
<path d="M509.93 61.47A40.82 40.82 0 0 1 511.69 64.00L509.32 65.52A38.013333333333335 38.013333333333335 0 0 0 507.68 63.16ZM513.75 62.47A43.38666666666666 43.38666666666666 0 0 1 515.42 65.29L512.96 66.63A40.580000000000005 40.580000000000005 0 0 0 511.39 63.99ZM510.84 67.60A38.25333333333333 38.25333333333333 0 0 1 512.13 70.18L509.57 71.34A35.446666666666665 35.446666666666665 0 0 0 508.38 68.95ZM512.06 70.04A38.25333333333333 38.25333333333333 0 0 1 513.17 72.71L510.54 73.68A35.446666666666665 35.446666666666665 0 0 0 509.51 71.21ZM516.73 67.89A43.38666666666666 43.38666666666666 0 0 1 517.98 70.92L515.35 71.90A40.580000000000005 40.580000000000005 0 0 0 514.18 69.07ZM515.52 71.65A40.82 40.82 0 0 1 516.49 74.58L513.80 75.37A38.013333333333335 38.013333333333335 0 0 0 512.89 72.64ZM517.92 70.75A43.38666666666666 43.38666666666666 0 0 1 518.95 73.86L516.26 74.65A40.580000000000005 40.580000000000005 0 0 0 515.29 71.74ZM518.90 73.69A43.38666666666666 43.38666666666666 0 0 1 519.71 76.87L516.97 77.46A40.580000000000005 40.580000000000005 0 0 0 516.21 74.49ZM519.68 76.69A43.38666666666666 43.38666666666666 0 0 1 520.26 79.92L517.48 80.31A40.580000000000005 40.580000000000005 0 0 0 516.93 77.29ZM520.23 79.74A43.38666666666666 43.38666666666666 0 0 1 520.58 83.00L517.78 83.19A40.580000000000005 40.580000000000005 0 0 0 517.45 80.14Z" fill="#ffbfaf"/>
<circle cx="477.3" cy="86.0" r="31.7" fill="none" stroke="#333" stroke-width="0.6"/>
<path d="M507.44 91.31A30.6 30.6 0 0 1 480.50 116.43" fill="none" stroke="#333" stroke-width="0.45"/>
<path d="M506.31 93.23A29.9 29.9 0 0 1 482.49 115.45" fill="none" stroke="#333" stroke-width="0.4"/>
<path d="M504.74 95.99A29.2 29.2 0 0 1 486.32 113.77" fill="none" stroke="#333" stroke-width="0.35"/>
<path d="M502.83 98.45A28.4 28.4 0 0 1 491.50 110.60" fill="none" stroke="#333" stroke-width="0.3"/>
<path d="M501.20 99.80A27.6 27.6 0 0 1 495.04 107.14" fill="none" stroke="#333" stroke-width="0.3"/>
<path d="M508.8 87.1H500.8V93.8H503.6L505.5 96.2M506 90.5L504.5 93.5" fill="none" stroke="#444" stroke-width="0.45"/>
<path d="M526.87 87.77L533.86 88.02M526.62 91.30L534.07 92.10M526.11 94.81L534.97 96.40M525.36 98.27L530.20 99.50M524.36 101.66L531.00 103.87M523.12 104.98L528.67 107.28M521.65 108.20L526.12 110.44M519.96 111.31L524.69 114.12M518.04 114.29L523.79 118.28M515.92 117.12L521.76 121.83M513.60 119.80L517.26 123.21M511.10 122.30L515.53 127.06M508.42 124.62L512.81 130.07M505.59 126.74L509.01 131.67M502.61 128.66L506.18 134.68M499.50 130.35L502.19 135.72M496.28 131.82L499.34 139.22M492.96 133.06L495.02 139.23M489.57 134.06L491.17 140.36M486.11 134.81L487.08 140.22M482.60 135.32L483.40 142.77M479.07 135.57L479.34 143.06M475.53 135.57L475.35 140.57M472.00 135.32L471.41 140.78M468.49 134.81L467.61 139.73M465.03 134.06L463.55 139.87M461.64 133.06L459.11 140.65M458.32 131.82L455.45 138.75M455.10 130.35L452.19 136.17M451.99 128.66L449.44 132.96M449.01 126.74L445.30 132.08M446.18 124.62L443.04 128.51M443.50 122.30L438.73 127.43M441.00 119.80L435.87 124.57M438.68 117.12L433.23 121.51M436.56 114.29L430.81 118.28M434.64 111.31L429.48 114.37M432.95 108.20L428.03 110.66M431.48 104.98L419.93 109.76M430.24 101.66L422.65 104.19M429.24 98.27L423.43 99.75M428.49 94.81L420.62 96.23M427.98 91.30L421.52 92.00M427.73 87.77L420.24 88.04M427.73 84.23L422.24 84.03M427.98 80.70L423.01 80.16M428.49 77.19L422.58 76.13M429.24 73.73L422.46 72.00M430.24 70.34L424.55 68.44M431.48 67.02L425.01 64.34M432.95 63.80L421.77 58.20M434.64 60.69L429.48 57.63M436.56 57.71L431.22 54.00M438.68 54.88L434.79 51.74M441.00 52.20L435.87 47.43M443.50 49.70L438.73 44.57M446.18 47.38L441.16 41.15M449.01 45.26L444.73 39.10M451.99 43.34L448.42 37.32M455.10 41.65L451.52 34.49M458.32 40.18L455.64 33.71M461.64 38.94L459.90 33.72M465.03 37.94L461.94 25.83M468.49 37.19L467.25 30.30M472.00 36.68L471.30 30.22M475.53 36.43L475.26 28.94M479.07 36.43L479.32 29.44M482.60 36.68L483.46 28.73M486.11 37.19L487.17 31.28M489.57 37.94L491.05 32.13M492.96 38.94L495.49 31.35M496.28 40.18L498.77 34.17M499.50 41.65L503.08 34.49M502.61 43.34L506.69 36.46M505.59 45.26L509.58 39.51M508.42 47.38L512.19 42.71M511.10 49.70L514.85 45.67M513.60 52.20L519.46 46.75M515.92 54.88L520.98 50.80M518.04 57.71L524.20 53.43M519.96 60.69L525.55 57.37M521.65 63.80L528.81 60.22M523.12 67.02L531.44 63.57M524.36 70.34L531.95 67.81M525.36 73.73L533.11 71.76M526.11 77.19L531.52 76.22M526.62 80.70L533.08 80.00M526.87 84.23L534.36 83.96" stroke="#767676" stroke-width="1.05" fill="none" stroke-dasharray="2.6 0.5"/>
<rect x="27.10" y="189.00" width="157.50" height="119.50" fill="#ebebeb" />
<line x1="27.10" y1="205.10" x2="184.60" y2="205.10" stroke="#f4f4f4" stroke-width="0.5" />
<line x1="27.10" y1="227.30" x2="184.60" y2="227.30" stroke="#f4f4f4" stroke-width="0.5" />
<line x1="27.10" y1="249.50" x2="184.60" y2="249.50" stroke="#f4f4f4" stroke-width="0.5" />
<line x1="27.10" y1="271.70" x2="184.60" y2="271.70" stroke="#f4f4f4" stroke-width="0.5" />
<line x1="27.10" y1="293.90" x2="184.60" y2="293.90" stroke="#f4f4f4" stroke-width="0.5" />
<line x1="27.10" y1="194.00" x2="184.60" y2="194.00" stroke="#ffffff" stroke-width="0.8" />
<line x1="27.10" y1="216.20" x2="184.60" y2="216.20" stroke="#ffffff" stroke-width="0.8" />
<line x1="27.10" y1="238.40" x2="184.60" y2="238.40" stroke="#ffffff" stroke-width="0.8" />
<line x1="27.10" y1="260.60" x2="184.60" y2="260.60" stroke="#ffffff" stroke-width="0.8" />
<line x1="27.10" y1="282.80" x2="184.60" y2="282.80" stroke="#ffffff" stroke-width="0.8" />
<line x1="27.10" y1="305.00" x2="184.60" y2="305.00" stroke="#ffffff" stroke-width="0.8" />
<line x1="35.50" y1="189.00" x2="35.50" y2="308.50" stroke="#ffffff" stroke-width="0.8" />
<line x1="49.56" y1="189.00" x2="49.56" y2="308.50" stroke="#ffffff" stroke-width="0.8" />
<line x1="63.62" y1="189.00" x2="63.62" y2="308.50" stroke="#ffffff" stroke-width="0.8" />
<line x1="77.68" y1="189.00" x2="77.68" y2="308.50" stroke="#ffffff" stroke-width="0.8" />
<line x1="91.74" y1="189.00" x2="91.74" y2="308.50" stroke="#ffffff" stroke-width="0.8" />
<line x1="105.80" y1="189.00" x2="105.80" y2="308.50" stroke="#ffffff" stroke-width="0.8" />
<line x1="119.86" y1="189.00" x2="119.86" y2="308.50" stroke="#ffffff" stroke-width="0.8" />
<line x1="133.92" y1="189.00" x2="133.92" y2="308.50" stroke="#ffffff" stroke-width="0.8" />
<line x1="147.98" y1="189.00" x2="147.98" y2="308.50" stroke="#ffffff" stroke-width="0.8" />
<line x1="162.04" y1="189.00" x2="162.04" y2="308.50" stroke="#ffffff" stroke-width="0.8" />
<line x1="176.10" y1="189.00" x2="176.10" y2="308.50" stroke="#ffffff" stroke-width="0.8" />
<line x1="27.60" y1="194.00" x2="29.00" y2="194.00" stroke="#aaa" stroke-width="0.5" />
<line x1="27.60" y1="216.20" x2="29.00" y2="216.20" stroke="#aaa" stroke-width="0.5" />
<line x1="27.60" y1="238.40" x2="29.00" y2="238.40" stroke="#aaa" stroke-width="0.5" />
<line x1="27.60" y1="260.60" x2="29.00" y2="260.60" stroke="#aaa" stroke-width="0.5" />
<line x1="27.60" y1="282.80" x2="29.00" y2="282.80" stroke="#aaa" stroke-width="0.5" />
<line x1="27.60" y1="305.00" x2="29.00" y2="305.00" stroke="#aaa" stroke-width="0.5" />
<line x1="35.50" y1="254.50" x2="35.50" y2="303.50" stroke="#555" stroke-width="0.45" />
<line x1="35.50" y1="196.00" x2="35.50" y2="254.50" stroke="#2a2a2a" stroke-width="1.35" />
<rect x="30.25" y="280.40" width="10.50" height="17.20" fill="#619cff" stroke="#444" stroke-width="0.3"/>
<line x1="30.25" y1="295.60" x2="40.75" y2="295.60" stroke="#333" stroke-width="0.6" />
<text x="35.50" y="312.00" font-family="Liberation Sans" font-size="2.4" fill="#666" text-anchor="middle" textLength="13.20" lengthAdjust="spacingAndGlyphs" >CLP6h_03</text>
<line x1="49.56" y1="254.50" x2="49.56" y2="303.50" stroke="#555" stroke-width="0.45" />
<line x1="49.56" y1="193.70" x2="49.56" y2="254.50" stroke="#2a2a2a" stroke-width="1.35" />
<rect x="44.31" y="280.40" width="10.50" height="17.20" fill="#619cff" stroke="#444" stroke-width="0.3"/>
<line x1="44.31" y1="295.60" x2="54.81" y2="295.60" stroke="#333" stroke-width="0.6" />
<text x="49.56" y="312.00" font-family="Liberation Sans" font-size="2.4" fill="#666" text-anchor="middle" textLength="13.20" lengthAdjust="spacingAndGlyphs" >CLP6h_03</text>
<line x1="63.62" y1="254.50" x2="63.62" y2="303.50" stroke="#555" stroke-width="0.45" />
<line x1="63.62" y1="195.50" x2="63.62" y2="254.50" stroke="#2a2a2a" stroke-width="1.35" />
<rect x="58.37" y="280.40" width="10.50" height="17.20" fill="#619cff" stroke="#444" stroke-width="0.3"/>
<line x1="58.37" y1="295.60" x2="68.87" y2="295.60" stroke="#333" stroke-width="0.6" />
<text x="63.62" y="312.00" font-family="Liberation Sans" font-size="2.4" fill="#666" text-anchor="middle" textLength="13.20" lengthAdjust="spacingAndGlyphs" >CLP6h_03</text>
<line x1="77.68" y1="254.50" x2="77.68" y2="303.50" stroke="#555" stroke-width="0.45" />
<line x1="77.68" y1="197.70" x2="77.68" y2="254.50" stroke="#2a2a2a" stroke-width="1.35" />
<rect x="72.43" y="280.40" width="10.50" height="17.20" fill="#f8766d" stroke="#444" stroke-width="0.3"/>
<line x1="72.43" y1="295.60" x2="82.93" y2="295.60" stroke="#333" stroke-width="0.6" />
<text x="77.68" y="312.00" font-family="Liberation Sans" font-size="2.4" fill="#666" text-anchor="middle" textLength="13.20" lengthAdjust="spacingAndGlyphs" >CLP6h_03</text>
<line x1="91.74" y1="254.50" x2="91.74" y2="303.50" stroke="#555" stroke-width="0.45" />
<line x1="91.74" y1="197.40" x2="91.74" y2="254.50" stroke="#2a2a2a" stroke-width="1.35" />
<rect x="86.49" y="280.40" width="10.50" height="17.20" fill="#f8766d" stroke="#444" stroke-width="0.3"/>
<line x1="86.49" y1="295.60" x2="96.99" y2="295.60" stroke="#333" stroke-width="0.6" />
<text x="91.74" y="312.00" font-family="Liberation Sans" font-size="2.4" fill="#666" text-anchor="middle" textLength="13.20" lengthAdjust="spacingAndGlyphs" >CLP6h_03</text>
<line x1="105.80" y1="254.50" x2="105.80" y2="303.50" stroke="#555" stroke-width="0.45" />
<line x1="105.80" y1="196.50" x2="105.80" y2="254.50" stroke="#2a2a2a" stroke-width="1.35" />
<rect x="100.55" y="280.40" width="10.50" height="17.20" fill="#f8766d" stroke="#444" stroke-width="0.3"/>
<line x1="100.55" y1="295.60" x2="111.05" y2="295.60" stroke="#333" stroke-width="0.6" />
<text x="105.80" y="312.00" font-family="Liberation Sans" font-size="2.4" fill="#666" text-anchor="middle" textLength="13.20" lengthAdjust="spacingAndGlyphs" >CLP6h_03</text>
<line x1="119.86" y1="254.50" x2="119.86" y2="303.50" stroke="#555" stroke-width="0.45" />
<line x1="119.86" y1="196.00" x2="119.86" y2="254.50" stroke="#2a2a2a" stroke-width="1.35" />
<rect x="114.61" y="280.40" width="10.50" height="17.20" fill="#f8766d" stroke="#444" stroke-width="0.3"/>
<line x1="114.61" y1="295.60" x2="125.11" y2="295.60" stroke="#333" stroke-width="0.6" />
<text x="119.86" y="312.00" font-family="Liberation Sans" font-size="2.4" fill="#666" text-anchor="middle" textLength="13.20" lengthAdjust="spacingAndGlyphs" >CLP6h_03</text>
<line x1="133.92" y1="254.50" x2="133.92" y2="303.50" stroke="#555" stroke-width="0.45" />
<line x1="133.92" y1="199.00" x2="133.92" y2="254.50" stroke="#2a2a2a" stroke-width="1.35" />
<rect x="128.67" y="280.40" width="10.50" height="17.20" fill="#00ba38" stroke="#444" stroke-width="0.3"/>
<line x1="128.67" y1="295.60" x2="139.17" y2="295.60" stroke="#333" stroke-width="0.6" />
<text x="133.92" y="312.00" font-family="Liberation Sans" font-size="2.4" fill="#666" text-anchor="middle" textLength="13.20" lengthAdjust="spacingAndGlyphs" >CLP6h_03</text>
<line x1="147.98" y1="254.50" x2="147.98" y2="303.50" stroke="#555" stroke-width="0.45" />
<line x1="147.98" y1="195.60" x2="147.98" y2="254.50" stroke="#2a2a2a" stroke-width="1.35" />
<rect x="142.73" y="280.40" width="10.50" height="17.20" fill="#00ba38" stroke="#444" stroke-width="0.3"/>
<line x1="142.73" y1="295.60" x2="153.23" y2="295.60" stroke="#333" stroke-width="0.6" />
<text x="147.98" y="312.00" font-family="Liberation Sans" font-size="2.4" fill="#666" text-anchor="middle" textLength="13.20" lengthAdjust="spacingAndGlyphs" >CLP6h_03</text>
<line x1="162.04" y1="254.50" x2="162.04" y2="303.50" stroke="#555" stroke-width="0.45" />
<line x1="162.04" y1="196.40" x2="162.04" y2="254.50" stroke="#2a2a2a" stroke-width="1.35" />
<rect x="156.79" y="280.40" width="10.50" height="17.20" fill="#00ba38" stroke="#444" stroke-width="0.3"/>
<line x1="156.79" y1="295.60" x2="167.29" y2="295.60" stroke="#333" stroke-width="0.6" />
<text x="162.04" y="312.00" font-family="Liberation Sans" font-size="2.4" fill="#666" text-anchor="middle" textLength="13.20" lengthAdjust="spacingAndGlyphs" >CLP6h_03</text>
<line x1="176.10" y1="254.50" x2="176.10" y2="303.50" stroke="#555" stroke-width="0.45" />
<line x1="176.10" y1="197.30" x2="176.10" y2="254.50" stroke="#2a2a2a" stroke-width="1.35" />
<rect x="170.85" y="280.40" width="10.50" height="17.20" fill="#00ba38" stroke="#444" stroke-width="0.3"/>
<line x1="170.85" y1="295.60" x2="181.35" y2="295.60" stroke="#333" stroke-width="0.6" />
<text x="176.10" y="312.00" font-family="Liberation Sans" font-size="2.4" fill="#666" text-anchor="middle" textLength="13.20" lengthAdjust="spacingAndGlyphs" >CLP6h_03</text>
<text x="24.60" y="242.00" font-family="Liberation Serif" font-size="9.2" fill="#222" text-anchor="middle" transform="rotate(-90 24.6 242)">value</text>
<text x="102.60" y="322.50" font-family="Liberation Sans" font-size="10.3" fill="#222" text-anchor="middle" >sample</text>
<text x="184.20" y="232.30" font-family="Liberation Serif" font-size="6.6" fill="#222" >group</text>
<ellipse cx="188.5" cy="236.40" rx="1.45" ry="1.25" fill="#e06060"/>
<text x="190.60" y="238.00" font-family="Liberation Serif" font-size="6.7" fill="#222" textLength="15.20" lengthAdjust="spacingAndGlyphs" >clp 6h</text>
<ellipse cx="188.5" cy="240.35" rx="1.45" ry="1.25" fill="#10a040"/>
<text x="190.60" y="242.30" font-family="Liberation Serif" font-size="6.7" fill="#222" textLength="15.20" lengthAdjust="spacingAndGlyphs" >clp 8h</text>
<ellipse cx="188.5" cy="244.30" rx="1.45" ry="1.25" fill="#4a80e0"/>
<text x="190.60" y="246.60" font-family="Liberation Serif" font-size="6.7" fill="#222" textLength="13.60" lengthAdjust="spacingAndGlyphs" >sham</text>
<text x="348.00" y="184.20" font-family="Liberation Sans" font-size="5.2" fill="#111" font-weight="bold" textLength="96.50" lengthAdjust="spacingAndGlyphs" >Sample dendrogram and trait heatmap</text>
<path d="M333.3 189.5L409.7 189.5M333.3 189.5L333.3 219.6M325.5 219.6L340.8 219.6M409.7 189.5L409.7 215.4M374.7 215.4L444.0 215.4M374.7 215.4L374.7 241.9M355.6 241.9L393.8 241.9M393.8 241.9L393.8 252.4M378.5 252.4L408.4 252.4M378.5 252.4L378.5 255.6M370.5 255.6L386.2 255.6M408.4 252.4L408.4 254.1M401.0 254.1L416.0 254.1M444.0 215.4L444.0 220.8M431.4 220.8L457.1 220.8M457.1 220.8L457.1 239.4M446.6 239.4L469.1 239.4M469.1 239.4L469.1 254.0M461.5 254.0L475.6 254.0" stroke="#5e5e5e" stroke-width="0.55" fill="none"/>
<path d="M325.5 219.6L325.5 227.7M340.8 219.6L340.8 227.7M355.6 241.9L355.6 250.3M370.5 255.6L370.5 264.0M386.2 255.6L386.2 264.0M401.0 254.1L401.0 263.5M416.0 254.1L416.0 263.5M431.4 220.8L431.4 229.3M446.6 239.4L446.6 248.5M461.5 254.0L461.5 262.3M475.6 254.0L475.6 262.3" stroke="#5e5e5e" stroke-width="0.55" fill="none"/>
<path d="M325.5 227.7L325.5 236.7M340.8 227.7L340.8 236.7M355.6 250.3L355.6 259.3M370.5 264.0L370.5 273.0M386.2 264.0L386.2 273.0M401.0 263.5L401.0 272.5M416.0 263.5L416.0 272.5M431.4 229.3L431.4 238.3M446.6 248.5L446.6 257.5M461.5 262.3L461.5 271.3M475.6 262.3L475.6 271.3" stroke="#6a6a6a" stroke-width="0.75" stroke-dasharray="2.0 0.9" fill="none"/>
<path d="M316.9 195.2L316.9 268.7M316.9 195.20L314.4 195.20M316.9 207.45L314.4 207.45M316.9 219.70L314.4 219.70M316.9 231.95L314.4 231.95M316.9 244.20L314.4 244.20M316.9 256.45L314.4 256.45M316.9 268.70L314.4 268.70" stroke="#666" stroke-width="0.45" fill="none"/>
<text x="312.20" y="195.20" font-family="Liberation Sans" font-size="2.6" fill="#777" text-anchor="middle" transform="rotate(-90 312.2 195.20)">6</text>
<text x="312.20" y="207.45" font-family="Liberation Sans" font-size="2.6" fill="#777" text-anchor="middle" transform="rotate(-90 312.2 207.45)">5</text>
<text x="312.20" y="219.70" font-family="Liberation Sans" font-size="2.6" fill="#777" text-anchor="middle" transform="rotate(-90 312.2 219.70)">4</text>
<text x="312.20" y="231.95" font-family="Liberation Sans" font-size="2.6" fill="#777" text-anchor="middle" transform="rotate(-90 312.2 231.95)">3</text>
<text x="312.20" y="244.20" font-family="Liberation Sans" font-size="2.6" fill="#777" text-anchor="middle" transform="rotate(-90 312.2 244.20)">2</text>
<text x="312.20" y="256.45" font-family="Liberation Sans" font-size="2.6" fill="#777" text-anchor="middle" transform="rotate(-90 312.2 256.45)">1</text>
<text x="312.20" y="268.70" font-family="Liberation Sans" font-size="2.6" fill="#777" text-anchor="middle" transform="rotate(-90 312.2 268.70)">0</text>
<text x="306.90" y="232.30" font-family="Liberation Sans" font-size="6.9" fill="#111" text-anchor="middle" transform="rotate(-90 306.9 232.3)">Height</text>
<rect x="333.20" y="277.30" width="30.10" height="12.20" fill="#ff3300" />
<rect x="363.30" y="277.30" width="60.30" height="12.20" fill="#ffcabd" />
<rect x="454.20" y="277.30" width="28.90" height="12.20" fill="#ff3300" />
<rect x="333.20" y="289.50" width="90.40" height="12.20" fill="#ff3300" />
<rect x="454.20" y="289.50" width="28.90" height="12.20" fill="#ff3300" />
<line x1="319.60" y1="277.30" x2="483.10" y2="277.30" stroke="#555" stroke-width="0.5" />
<line x1="319.60" y1="289.50" x2="483.10" y2="289.50" stroke="#555" stroke-width="0.5" />
<line x1="319.60" y1="301.70" x2="483.10" y2="301.70" stroke="#555" stroke-width="0.5" />
<text x="309.00" y="285.50" font-family="Liberation Sans" font-size="6.4" fill="#111" >Time</text>
<text x="306.10" y="297.60" font-family="Liberation Sans" font-size="6.95" fill="#111" >Disease</text>
<rect x="70.90" y="354.20" width="8.40" height="32.70" fill="#0000ff" />
<rect x="70.90" y="386.90" width="8.40" height="32.70" fill="#a52a2a" />
<rect x="70.90" y="419.60" width="8.40" height="32.60" fill="#40e0d0" />
<rect x="70.90" y="452.20" width="8.40" height="32.30" fill="#bebebe" />
<rect x="81.20" y="354.20" width="81.60" height="32.70" fill="#cde4fb" />
<text x="124.00" y="370.05" font-family="Liberation Serif" font-size="5.5" fill="#1a1a1a" text-anchor="middle" >−0.2</text>
<text x="124.00" y="373.75" font-family="Liberation Serif" font-size="5.5" fill="#1a1a1a" text-anchor="middle" >(0.5)</text>
<rect x="162.80" y="354.20" width="84.00" height="32.70" fill="#b4d6f8" />
<text x="206.80" y="370.05" font-family="Liberation Serif" font-size="5.5" fill="#1a1a1a" text-anchor="middle" >−0.31</text>
<text x="206.80" y="373.75" font-family="Liberation Serif" font-size="5.5" fill="#1a1a1a" text-anchor="middle" >(0.3)</text>
<rect x="81.20" y="386.90" width="81.60" height="32.70" fill="#fc6b4b" />
<text x="124.00" y="402.75" font-family="Liberation Serif" font-size="5.5" fill="#1a1a1a" text-anchor="middle" >0.7</text>
<text x="124.00" y="406.45" font-family="Liberation Serif" font-size="5.5" fill="#1a1a1a" text-anchor="middle" >(0.02)</text>
<rect x="162.80" y="386.90" width="84.00" height="32.70" fill="#f7481c" />
<text x="206.80" y="402.75" font-family="Liberation Serif" font-size="5.5" fill="#1a1a1a" text-anchor="middle" >0.87</text>
<text x="206.80" y="406.45" font-family="Liberation Serif" font-size="5.5" fill="#1a1a1a" text-anchor="middle" >(5.0×10<tspan dy="-1.6" font-size="3.6">−4</tspan><tspan dy="1.6">)</tspan></text>
<rect x="81.20" y="419.60" width="81.60" height="32.60" fill="#ffffff" />
<text x="124.00" y="435.40" font-family="Liberation Serif" font-size="5.5" fill="#1a1a1a" text-anchor="middle" >−0.018</text>
<text x="124.00" y="439.10" font-family="Liberation Serif" font-size="5.5" fill="#1a1a1a" text-anchor="middle" >(1)</text>
<rect x="162.80" y="419.60" width="84.00" height="32.60" fill="#f99b85" />
<text x="206.80" y="435.40" font-family="Liberation Serif" font-size="5.5" fill="#1a1a1a" text-anchor="middle" >0.46</text>
<text x="206.80" y="439.10" font-family="Liberation Serif" font-size="5.5" fill="#1a1a1a" text-anchor="middle" >(0.1)</text>
<rect x="81.20" y="452.20" width="81.60" height="32.30" fill="#fdddd5" />
<text x="124.00" y="467.85" font-family="Liberation Serif" font-size="5.5" fill="#1a1a1a" text-anchor="middle" >0.19</text>
<text x="124.00" y="471.55" font-family="Liberation Serif" font-size="5.5" fill="#1a1a1a" text-anchor="middle" >(0.6)</text>
<rect x="162.80" y="452.20" width="84.00" height="32.30" fill="#ffffff" />
<text x="206.80" y="467.85" font-family="Liberation Serif" font-size="5.5" fill="#1a1a1a" text-anchor="middle" >−0.0054</text>
<text x="206.80" y="471.55" font-family="Liberation Serif" font-size="5.5" fill="#1a1a1a" text-anchor="middle" >(1)</text>
<rect x="81.20" y="354.20" width="165.60" height="130.30" fill="none" stroke="#bbb" stroke-width="0.5"/>
<text x="23.90" y="373.00" font-family="Liberation Serif" font-size="10.0" fill="#111" textLength="32.80" lengthAdjust="spacingAndGlyphs" >MEblue</text>
<text x="21.60" y="405.90" font-family="Liberation Serif" font-size="10.0" fill="#111" textLength="41.40" lengthAdjust="spacingAndGlyphs" >MEbrown</text>
<text x="16.90" y="438.30" font-family="Liberation Serif" font-size="10.0" fill="#111" textLength="54.00" lengthAdjust="spacingAndGlyphs" >MEturquoise</text>
<text x="23.90" y="470.80" font-family="Liberation Serif" font-size="10.0" fill="#111" textLength="32.80" lengthAdjust="spacingAndGlyphs" >MEgrey</text>
<text x="118.20" y="351.50" font-family="Liberation Serif" font-size="8.0" fill="#111" font-weight="bold" textLength="98.60" lengthAdjust="spacingAndGlyphs" >Module−trait relationships</text>
<defs><linearGradient id="g249" x1="0" y1="0" x2="0" y2="1"><stop offset="0" stop-color="#e8381a"/><stop offset="0.25" stop-color="#f7a08c"/><stop offset="0.5" stop-color="#ffffff"/><stop offset="0.75" stop-color="#8fc0f0"/><stop offset="1" stop-color="#1b82e0"/></linearGradient></defs>
<rect x="249.00" y="362.20" width="4.40" height="114.40" fill="url(#g249)" />
<line x1="253.40" y1="362.20" x2="254.60" y2="362.20" stroke="#666" stroke-width="0.4" />
<text x="256.60" y="364.10" font-family="Liberation Sans" font-size="5.4" fill="#222" >1</text>
<line x1="253.40" y1="390.80" x2="254.60" y2="390.80" stroke="#666" stroke-width="0.4" />
<text x="256.60" y="392.70" font-family="Liberation Sans" font-size="5.4" fill="#222" >0.5</text>
<line x1="253.40" y1="419.40" x2="254.60" y2="419.40" stroke="#666" stroke-width="0.4" />
<text x="256.60" y="421.30" font-family="Liberation Sans" font-size="5.4" fill="#222" >0</text>
<line x1="253.40" y1="448.00" x2="254.60" y2="448.00" stroke="#666" stroke-width="0.4" />
<text x="256.60" y="449.90" font-family="Liberation Sans" font-size="5.4" fill="#222" >−0.5</text>
<line x1="253.40" y1="476.60" x2="254.60" y2="476.60" stroke="#666" stroke-width="0.4" />
<text x="256.60" y="478.50" font-family="Liberation Sans" font-size="5.4" fill="#222" >−1</text>
<text x="125.20" y="489.00" font-family="Liberation Serif" font-size="7.8" fill="#333" text-anchor="end" transform="rotate(-45 125.20 489.00)">Time</text>
<text x="211.60" y="487.50" font-family="Liberation Serif" font-size="7.8" fill="#333" text-anchor="end" transform="rotate(-45 211.60 487.50)">Disease</text>
<rect x="311.20" y="351.40" width="8.60" height="44.00" fill="#0000ff" />
<rect x="311.20" y="395.40" width="8.60" height="44.20" fill="#a52a2a" />
<rect x="311.20" y="439.60" width="8.60" height="43.60" fill="#bebebe" />
<rect x="320.90" y="351.40" width="83.70" height="44.00" fill="#cde4fb" />
<text x="364.75" y="372.20" font-family="Liberation Serif" font-size="5.5" fill="#1a1a1a" text-anchor="middle" >−0.2</text>
<text x="364.75" y="377.30" font-family="Liberation Serif" font-size="5.5" fill="#1a1a1a" text-anchor="middle" >(0.5)</text>
<rect x="404.60" y="351.40" width="84.40" height="44.00" fill="#b4d6f8" />
<text x="448.80" y="372.20" font-family="Liberation Serif" font-size="5.5" fill="#1a1a1a" text-anchor="middle" >−0.31</text>
<text x="448.80" y="377.30" font-family="Liberation Serif" font-size="5.5" fill="#1a1a1a" text-anchor="middle" >(0.3)</text>
<rect x="320.90" y="395.40" width="83.70" height="44.20" fill="#fde3dc" />
<text x="364.75" y="416.30" font-family="Liberation Serif" font-size="5.5" fill="#1a1a1a" text-anchor="middle" >0.12</text>
<text x="364.75" y="421.40" font-family="Liberation Serif" font-size="5.5" fill="#1a1a1a" text-anchor="middle" >(0.7)</text>
<rect x="404.60" y="395.40" width="84.40" height="44.20" fill="#f97b5c" />
<text x="448.80" y="416.30" font-family="Liberation Serif" font-size="5.5" fill="#1a1a1a" text-anchor="middle" >0.63</text>
<text x="448.80" y="421.40" font-family="Liberation Serif" font-size="5.5" fill="#1a1a1a" text-anchor="middle" >(0.04)</text>
<rect x="320.90" y="439.60" width="83.70" height="43.60" fill="#fddcd3" />
<text x="364.75" y="460.20" font-family="Liberation Serif" font-size="5.5" fill="#1a1a1a" text-anchor="middle" >0.19</text>
<text x="364.75" y="465.30" font-family="Liberation Serif" font-size="5.5" fill="#1a1a1a" text-anchor="middle" >(0.6)</text>
<rect x="404.60" y="439.60" width="84.40" height="43.60" fill="#ffffff" />
<text x="448.80" y="460.20" font-family="Liberation Serif" font-size="5.5" fill="#1a1a1a" text-anchor="middle" >−0.0054</text>
<text x="448.80" y="465.30" font-family="Liberation Serif" font-size="5.5" fill="#1a1a1a" text-anchor="middle" >(1)</text>
<rect x="320.90" y="351.40" width="168.10" height="131.80" fill="none" stroke="#bbb" stroke-width="0.5"/>
<text x="272.10" y="375.50" font-family="Liberation Serif" font-size="10.5" fill="#111" textLength="33.30" lengthAdjust="spacingAndGlyphs" >MEblue</text>
<text x="265.00" y="421.20" font-family="Liberation Serif" font-size="10.5" fill="#111" textLength="42.10" lengthAdjust="spacingAndGlyphs" >MEbrown</text>
<text x="271.80" y="464.70" font-family="Liberation Serif" font-size="10.5" fill="#111" textLength="32.70" lengthAdjust="spacingAndGlyphs" >MEgrey</text>
<text x="352.90" y="346.30" font-family="Liberation Serif" font-size="9.2" fill="#111" font-weight="bold" textLength="117.10" lengthAdjust="spacingAndGlyphs" >Module−trait relationships</text>
<defs><linearGradient id="g492" x1="0" y1="0" x2="0" y2="1"><stop offset="0" stop-color="#e8381a"/><stop offset="0.25" stop-color="#f7a08c"/><stop offset="0.5" stop-color="#ffffff"/><stop offset="0.75" stop-color="#8fc0f0"/><stop offset="1" stop-color="#1b82e0"/></linearGradient></defs>
<rect x="492.30" y="359.30" width="4.50" height="116.50" fill="url(#g492)" />
<line x1="496.80" y1="359.30" x2="498.00" y2="359.30" stroke="#666" stroke-width="0.4" />
<text x="501.50" y="361.20" font-family="Liberation Sans" font-size="5.4" fill="#222" >1</text>
<line x1="496.80" y1="388.43" x2="498.00" y2="388.43" stroke="#666" stroke-width="0.4" />
<text x="501.50" y="390.32" font-family="Liberation Sans" font-size="5.4" fill="#222" >0.5</text>
<line x1="496.80" y1="417.55" x2="498.00" y2="417.55" stroke="#666" stroke-width="0.4" />
<text x="501.50" y="419.45" font-family="Liberation Sans" font-size="5.4" fill="#222" >0</text>
<line x1="496.80" y1="446.68" x2="498.00" y2="446.68" stroke="#666" stroke-width="0.4" />
<text x="501.50" y="448.57" font-family="Liberation Sans" font-size="5.4" fill="#222" >−0.5</text>
<line x1="496.80" y1="475.80" x2="498.00" y2="475.80" stroke="#666" stroke-width="0.4" />
<text x="501.50" y="477.70" font-family="Liberation Sans" font-size="5.4" fill="#222" >−1</text>
<text x="366.40" y="486.40" font-family="Liberation Serif" font-size="7.8" fill="#333" text-anchor="end" transform="rotate(-45 366.40 486.40)">Time</text>
<text x="457.10" y="486.40" font-family="Liberation Serif" font-size="7.8" fill="#333" text-anchor="end" transform="rotate(-45 457.10 486.40)">Disease</text>
</svg>
</body></html>
